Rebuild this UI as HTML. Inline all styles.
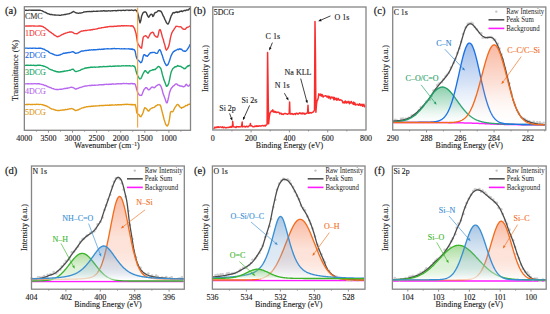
<!DOCTYPE html><html><head><meta charset="utf-8"><style>html,body{margin:0;padding:0;background:#fff;overflow:hidden}svg{display:block}</style></head><body><svg width="550" height="314" viewBox="0 0 550 314" font-family='"Liberation Serif", serif'>
<rect width="550" height="314" fill="#fff"/>
<defs>
<linearGradient id="gB" x1="0" y1="0" x2="0" y2="1"><stop offset="0" stop-color="#5b8fd8" stop-opacity="0.55"/><stop offset="1" stop-color="#5b8fd8" stop-opacity="0.02"/></linearGradient>
<linearGradient id="gO" x1="0" y1="0" x2="0" y2="1"><stop offset="0" stop-color="#f38a63" stop-opacity="0.55"/><stop offset="1" stop-color="#f38a63" stop-opacity="0.02"/></linearGradient>
<linearGradient id="gG" x1="0" y1="0" x2="0" y2="1"><stop offset="0" stop-color="#3fae6d" stop-opacity="0.55"/><stop offset="1" stop-color="#3fae6d" stop-opacity="0.02"/></linearGradient>
<linearGradient id="gG2" x1="0" y1="0" x2="0" y2="1"><stop offset="0" stop-color="#66c24a" stop-opacity="0.55"/><stop offset="1" stop-color="#66c24a" stop-opacity="0.02"/></linearGradient>
<linearGradient id="gB2" x1="0" y1="0" x2="0" y2="1"><stop offset="0" stop-color="#6c9fd3" stop-opacity="0.55"/><stop offset="1" stop-color="#6c9fd3" stop-opacity="0.02"/></linearGradient>
</defs>
<path d="M24 10.27 L24.8 10.32 L25.6 10.17 L26.4 10.25 L27.2 10.39 L28 10.39 L28.8 10.12 L29.6 10.14 L30.4 10.09 L31.2 10.23 L32 10.08 L32.8 10.23 L33.6 10.3 L34.4 10.17 L35.2 10.31 L36 10.28 L36.8 10.08 L37.6 10.27 L38.4 10.16 L39.2 10.22 L40 10.17 L40.8 10.38 L41.6 10.56 L42.4 10.88 L43.2 11.47 L44 11.94 L44.8 12.14 L45.6 12.49 L46.4 12.92 L47.2 13.47 L48 13.79 L48.8 13.93 L49.6 14.25 L50.4 14.45 L51.2 14.48 L52 14.54 L52.8 14.87 L53.6 14.92 L54.4 14.94 L55.2 14.96 L56 15.1 L56.8 15.17 L57.6 15.14 L58.4 15.17 L59.2 15.23 L60 15.35 L60.8 15.19 L61.6 15 L62.4 14.9 L63.2 14.86 L64 14.65 L64.8 14.53 L65.6 14.5 L66.4 14.16 L67.2 14.1 L68 13.83 L68.8 13.71 L69.6 13.47 L70.4 13.17 L71.2 12.85 L72 12.32 L72.8 11.8 L73.6 11.4 L74.4 11.98 L75.2 12.49 L76 12.87 L76.8 13 L77.6 13.16 L78.4 13.39 L79.2 13.06 L80 13.14 L80.8 13.03 L81.6 12.92 L82.4 12.61 L83.2 12.4 L84 11.99 L84.8 11.86 L85.6 11.8 L86.4 11.69 L87.2 11.6 L88 11.54 L88.8 11.63 L89.6 11.44 L90.4 11.66 L91.2 11.52 L92 11.42 L92.8 11.43 L93.6 11.22 L94.4 11.42 L95.2 11.35 L96 11.27 L96.8 11.14 L97.6 11.24 L98.4 11.17 L99.2 11.11 L100 11.17 L100.8 11.04 L101.6 10.92 L102.4 10.97 L103.2 10.82 L104 10.8 L104.8 10.98 L105.6 10.99 L106.4 11.04 L107.2 10.98 L108 10.86 L108.8 10.69 L109.6 10.82 L110.4 10.96 L111.2 10.9 L112 10.78 L112.8 10.75 L113.6 10.65 L114.4 10.61 L115.2 10.55 L116 10.81 L116.8 10.69 L117.6 10.47 L118.4 10.53 L119.2 10.37 L120 10.39 L120.8 10.54 L121.6 10.48 L122.4 10.39 L123.2 10.3 L124 10.41 L124.8 10.51 L125.6 10.31 L126.4 10.17 L127.2 10.16 L128 10.16 L128.8 10.46 L129.6 10.3 L130.4 10.4 L131.2 10.04 L132 10.1 L132.8 10.39 L133.6 10.53 L134.4 10.14 L135.2 9.95 L136 10.5 L136.8 10.73 L137.6 12.82 L138.4 15.42 L139.2 19.89 L140 22.9 L140.8 20.55 L141.6 16.21 L142.4 14.24 L143.2 12.61 L144 12.14 L144.8 11.82 L145.6 12.03 L146.4 12.72 L147.2 14.92 L148 16.41 L148.8 17.26 L149.6 15.83 L150.4 14.77 L151.2 14.13 L152 14.34 L152.8 16.57 L153.6 15.79 L154.4 13.58 L155.2 12.5 L156 12.47 L156.8 12.16 L157.6 11.16 L158.4 10.71 L159.2 10.8 L160 10.97 L160.8 11.22 L161.6 12.18 L162.4 14.07 L163.2 15.89 L164 17.22 L164.8 19.33 L165.6 20.69 L166.4 22.65 L167.2 23.56 L168 24.09 L168.8 22.78 L169.6 20.8 L170.4 18.31 L171.2 15.88 L172 14.67 L172.8 12.95 L173.6 12.53 L174.4 12.97 L175.2 12.26 L176 12.3 L176.8 11.75 L177.6 12.52 L178.4 11.88 L179.2 12.11 L180 11.14 L180.8 11.45 L181.6 10.86 L182.4 11.62 L183.2 11.01 L184 10.46 L184.8 10.34 L185.6 10.7 L186.4 10.05 L187.2 10.04 L188 10.15 L188.8 9.7 L189.6 8.37 L190.3 8.85" fill="none" stroke="#3d3d3d" stroke-width="1.4" stroke-linejoin="round"/>
<path d="M24 26.09 L24.8 26 L25.6 26.09 L26.4 25.93 L27.2 25.97 L28 26.16 L28.8 25.93 L29.6 25.95 L30.4 25.96 L31.2 26.04 L32 25.87 L32.8 25.88 L33.6 26.04 L34.4 25.93 L35.2 26.11 L36 26.16 L36.8 26.08 L37.6 26.12 L38.4 26.01 L39.2 25.89 L40 26.03 L40.8 26.04 L41.6 26.3 L42.4 26.41 L43.2 26.75 L44 27.36 L44.8 27.7 L45.6 28.37 L46.4 29.21 L47.2 29.6 L48 30.15 L48.8 30.98 L49.6 31.57 L50.4 32.21 L51.2 32.6 L52 33.29 L52.8 33.71 L53.6 34.4 L54.4 35.16 L55.2 35.48 L56 36.02 L56.8 36.59 L57.6 36.72 L58.4 36.45 L59.2 36.26 L60 35.82 L60.8 35.29 L61.6 34.97 L62.4 34.33 L63.2 34.23 L64 33.6 L64.8 33.56 L65.6 33.18 L66.4 32.82 L67.2 32.69 L68 32.42 L68.8 32.34 L69.6 31.93 L70.4 31.95 L71.2 32 L72 32.06 L72.8 32.31 L73.6 32.95 L74.4 33.54 L75.2 33.6 L76 33.67 L76.8 33.86 L77.6 33.33 L78.4 32.91 L79.2 32.38 L80 31.93 L80.8 31.46 L81.6 31.06 L82.4 31.05 L83.2 30.81 L84 30.72 L84.8 30.65 L85.6 30.32 L86.4 30.47 L87.2 30.37 L88 30.15 L88.8 30.1 L89.6 29.87 L90.4 30.03 L91.2 29.73 L92 29.76 L92.8 29.48 L93.6 29.32 L94.4 29.35 L95.2 29.14 L96 29.02 L96.8 28.88 L97.6 28.76 L98.4 28.26 L99.2 28.28 L100 28.09 L100.8 27.96 L101.6 27.78 L102.4 27.66 L103.2 27.65 L104 27.39 L104.8 27.31 L105.6 27.26 L106.4 26.94 L107.2 26.96 L108 26.74 L108.8 26.66 L109.6 26.53 L110.4 26.52 L111.2 26.44 L112 26.48 L112.8 26.43 L113.6 26.46 L114.4 26.28 L115.2 26.36 L116 26.12 L116.8 26.19 L117.6 26.06 L118.4 26.03 L119.2 25.86 L120 26.05 L120.8 25.95 L121.6 25.69 L122.4 25.8 L123.2 25.94 L124 25.59 L124.8 25.68 L125.6 25.84 L126.4 25.59 L127.2 25.85 L128 25.8 L128.8 25.88 L129.6 25.83 L130.4 26 L131.2 25.77 L132 25.98 L132.8 25.82 L133.6 27.09 L134.4 28.34 L135.2 30.74 L136 33.36 L136.8 38.26 L137.6 43.13 L138.4 44.68 L139.2 45.69 L140 46.93 L140.8 47.83 L141.6 48.17 L142.4 42.46 L143.2 37.33 L144 36.37 L144.8 36.03 L145.6 35.69 L146.4 36.26 L147.2 37.14 L148 38.13 L148.8 36.73 L149.6 35.09 L150.4 33.55 L151.2 32.89 L152 32.33 L152.8 32.19 L153.6 33.06 L154.4 35.34 L155.2 36.07 L156 36.77 L156.8 37.05 L157.6 37.15 L158.4 34.22 L159.2 30.34 L160 29.42 L160.8 30.98 L161.6 33.84 L162.4 37.17 L163.2 39.15 L164 42.47 L164.8 44.87 L165.6 48.48 L166.4 50.15 L167.2 49.11 L168 48 L168.8 46.06 L169.6 42.71 L170.4 38.07 L171.2 34.88 L172 32.51 L172.8 31.23 L173.6 30.04 L174.4 28.61 L175.2 27.64 L176 26.31 L176.8 26.35 L177.6 26.41 L178.4 26.63 L179.2 26.81 L180 26.91 L180.8 26.77 L181.6 27.45 L182.4 28.75 L183.2 28.85 L184 29.39 L184.8 29.38 L185.6 28.82 L186.4 27.89 L187.2 27.19 L188 27.13 L188.8 26.8 L189.6 26.23 L190.1 25.95" fill="none" stroke="#f23b3b" stroke-width="1.4" stroke-linejoin="round"/>
<path d="M24 48.19 L24.8 48.23 L25.6 48.1 L26.4 48.17 L27.2 48.12 L28 48.31 L28.8 48.42 L29.6 48.13 L30.4 48.08 L31.2 48.34 L32 48.2 L32.8 48.25 L33.6 48.09 L34.4 48.13 L35.2 48.32 L36 48.29 L36.8 48.38 L37.6 48.42 L38.4 48.2 L39.2 48.29 L40 48.23 L40.8 48.28 L41.6 48.37 L42.4 48.81 L43.2 48.97 L44 49.11 L44.8 49.64 L45.6 50.09 L46.4 50.51 L47.2 50.91 L48 51.27 L48.8 52.1 L49.6 52.67 L50.4 53.05 L51.2 53.3 L52 53.65 L52.8 54.14 L53.6 54.27 L54.4 54.83 L55.2 55.01 L56 55.08 L56.8 55.5 L57.6 55.41 L58.4 55.24 L59.2 55.06 L60 54.99 L60.8 54.37 L61.6 54.21 L62.4 53.85 L63.2 53.31 L64 53.24 L64.8 53.21 L65.6 52.97 L66.4 52.99 L67.2 52.7 L68 52.68 L68.8 52.42 L69.6 52.53 L70.4 52.39 L71.2 52.11 L72 51.81 L72.8 51.7 L73.6 52.02 L74.4 52.46 L75.2 53.18 L76 53.27 L76.8 53.15 L77.6 52.89 L78.4 52.77 L79.2 52.24 L80 51.88 L80.8 51.46 L81.6 51.05 L82.4 50.98 L83.2 50.98 L84 50.86 L84.8 50.6 L85.6 50.48 L86.4 50.55 L87.2 50.34 L88 50.27 L88.8 50.23 L89.6 49.94 L90.4 50.15 L91.2 49.81 L92 49.9 L92.8 49.98 L93.6 49.78 L94.4 49.65 L95.2 49.73 L96 49.74 L96.8 49.59 L97.6 49.33 L98.4 49.58 L99.2 49.22 L100 49.41 L100.8 49.45 L101.6 49.13 L102.4 49.21 L103.2 49.23 L104 48.99 L104.8 48.96 L105.6 48.85 L106.4 48.83 L107.2 48.77 L108 48.79 L108.8 48.91 L109.6 48.85 L110.4 48.84 L111.2 48.78 L112 48.8 L112.8 48.55 L113.6 48.68 L114.4 48.48 L115.2 48.65 L116 48.77 L116.8 48.64 L117.6 48.58 L118.4 48.58 L119.2 48.63 L120 48.83 L120.8 48.86 L121.6 48.79 L122.4 48.89 L123.2 48.83 L124 48.67 L124.8 48.74 L125.6 48.86 L126.4 48.88 L127.2 48.89 L128 48.85 L128.8 48.75 L129.6 49.08 L130.4 48.87 L131.2 49.38 L132 48.89 L132.8 49.62 L133.6 49.36 L134.4 49.87 L135.2 51.42 L136 55.68 L136.8 58.37 L137.6 59.76 L138.4 60.5 L139.2 61.01 L140 61.89 L140.8 62.67 L141.6 62.22 L142.4 60.06 L143.2 56.32 L144 54.65 L144.8 54.69 L145.6 55.69 L146.4 55.78 L147.2 56.38 L148 55.59 L148.8 54.32 L149.6 53.74 L150.4 52.61 L151.2 52.82 L152 52.43 L152.8 52.46 L153.6 52.37 L154.4 52.39 L155.2 52.77 L156 53.39 L156.8 53.39 L157.6 53.06 L158.4 51.23 L159.2 50.01 L160 49.74 L160.8 51.22 L161.6 53.74 L162.4 55.86 L163.2 58.5 L164 60.81 L164.8 62.81 L165.6 64.18 L166.4 65.63 L167.2 65.35 L168 64.58 L168.8 62.61 L169.6 60.47 L170.4 57.86 L171.2 55.59 L172 53.93 L172.8 52.67 L173.6 51.51 L174.4 51.34 L175.2 50.46 L176 50.22 L176.8 49.8 L177.6 49.21 L178.4 49.71 L179.2 49.1 L180 48.71 L180.8 49.34 L181.6 49.21 L182.4 50.47 L183.2 51.04 L184 51.02 L184.8 51.28 L185.6 51.23 L186.4 50.56 L187.2 49.62 L188 48.36 L188.8 47.1 L189.6 45.71 L190.1 44.25" fill="none" stroke="#1f6fe0" stroke-width="1.4" stroke-linejoin="round"/>
<path d="M24 65.33 L24.8 65.43 L25.6 65.42 L26.4 65.3 L27.2 65.21 L28 65.42 L28.8 65.3 L29.6 65.37 L30.4 65.21 L31.2 65.22 L32 65.32 L32.8 65.41 L33.6 65.21 L34.4 65.45 L35.2 65.48 L36 65.41 L36.8 65.44 L37.6 65.26 L38.4 65.21 L39.2 65.29 L40 65.22 L40.8 65.34 L41.6 65.58 L42.4 65.6 L43.2 66.06 L44 66.19 L44.8 66.36 L45.6 66.83 L46.4 67.12 L47.2 67.5 L48 68.02 L48.8 68.66 L49.6 69.04 L50.4 69.31 L51.2 69.92 L52 69.97 L52.8 70.34 L53.6 70.63 L54.4 71.14 L55.2 71.07 L56 71.54 L56.8 71.7 L57.6 71.72 L58.4 71.99 L59.2 72.06 L60 72 L60.8 71.66 L61.6 71.8 L62.4 71.51 L63.2 71.54 L64 71.29 L64.8 70.98 L65.6 71.09 L66.4 70.9 L67.2 70.72 L68 70.64 L68.8 70.42 L69.6 70.1 L70.4 70.22 L71.2 69.72 L72 69.37 L72.8 69.09 L73.6 69.67 L74.4 70.61 L75.2 71.28 L76 71.66 L76.8 71.36 L77.6 71.16 L78.4 70.87 L79.2 70.61 L80 70.36 L80.8 69.9 L81.6 69.41 L82.4 69.26 L83.2 68.81 L84 68.59 L84.8 68.26 L85.6 67.98 L86.4 67.99 L87.2 67.74 L88 67.81 L88.8 67.39 L89.6 67.6 L90.4 67.24 L91.2 67.23 L92 67.11 L92.8 67.24 L93.6 67.13 L94.4 67.07 L95.2 67.26 L96 67.08 L96.8 67.17 L97.6 67.11 L98.4 66.88 L99.2 66.95 L100 66.74 L100.8 66.76 L101.6 66.83 L102.4 66.75 L103.2 66.53 L104 66.49 L104.8 66.69 L105.6 66.63 L106.4 66.57 L107.2 66.38 L108 66.54 L108.8 66.43 L109.6 66.24 L110.4 66.21 L111.2 66.34 L112 66.44 L112.8 66.27 L113.6 66.13 L114.4 66.25 L115.2 66.04 L116 66.16 L116.8 66.05 L117.6 65.88 L118.4 66.02 L119.2 65.98 L120 66.1 L120.8 65.99 L121.6 65.82 L122.4 65.91 L123.2 65.74 L124 65.86 L124.8 65.83 L125.6 65.81 L126.4 65.64 L127.2 65.83 L128 65.76 L128.8 65.84 L129.6 65.6 L130.4 65.87 L131.2 66.13 L132 65.91 L132.8 65.65 L133.6 66.27 L134.4 66.09 L135.2 67.59 L136 70.94 L136.8 73.63 L137.6 75.5 L138.4 77.23 L139.2 78.15 L140 78.96 L140.8 78.5 L141.6 77.35 L142.4 75.18 L143.2 73.48 L144 72.04 L144.8 70.82 L145.6 70.8 L146.4 71.73 L147.2 72.48 L148 73.26 L148.8 72.27 L149.6 70.83 L150.4 70.74 L151.2 70.42 L152 70.25 L152.8 69.66 L153.6 69.93 L154.4 69.47 L155.2 69.55 L156 68.62 L156.8 67.94 L157.6 66.97 L158.4 66.44 L159.2 66.77 L160 67.6 L160.8 68.42 L161.6 71.09 L162.4 74.66 L163.2 77.23 L164 80.1 L164.8 82 L165.6 84.02 L166.4 86.36 L167.2 86.01 L168 85.02 L168.8 82.96 L169.6 79.58 L170.4 75.33 L171.2 71.95 L172 70.24 L172.8 68.69 L173.6 68.03 L174.4 67.43 L175.2 66.56 L176 66.83 L176.8 66.47 L177.6 65.52 L178.4 65.91 L179.2 66.38 L180 66.3 L180.8 66.33 L181.6 67.17 L182.4 67.32 L183.2 68.06 L184 68.74 L184.8 68.41 L185.6 68.44 L186.4 67.17 L187.2 66.74 L188 65.73 L188.8 65.97 L189.6 65.19 L190.4 65.67 L190.5 65.15" fill="none" stroke="#17a865" stroke-width="1.4" stroke-linejoin="round"/>
<path d="M24 83.63 L24.8 83.83 L25.6 83.88 L26.4 83.88 L27.2 83.76 L28 83.77 L28.8 83.68 L29.6 83.88 L30.4 83.84 L31.2 83.75 L32 83.75 L32.8 83.9 L33.6 83.77 L34.4 83.6 L35.2 83.61 L36 83.85 L36.8 83.76 L37.6 83.77 L38.4 83.74 L39.2 83.66 L40 84.08 L40.8 84.1 L41.6 84.34 L42.4 84.54 L43.2 84.64 L44 85.19 L44.8 85.47 L45.6 85.46 L46.4 85.82 L47.2 86.29 L48 86.84 L48.8 86.99 L49.6 87.44 L50.4 87.52 L51.2 87.89 L52 88.34 L52.8 88.59 L53.6 88.76 L54.4 89.08 L55.2 89.36 L56 89.43 L56.8 89.43 L57.6 89.44 L58.4 89.59 L59.2 89.32 L60 89.22 L60.8 89.14 L61.6 89.26 L62.4 89.13 L63.2 88.8 L64 88.57 L64.8 88.53 L65.6 88.55 L66.4 88.28 L67.2 88.22 L68 88.03 L68.8 87.83 L69.6 87.69 L70.4 87.42 L71.2 87.19 L72 87.36 L72.8 87.5 L73.6 87.81 L74.4 88.25 L75.2 88.94 L76 88.98 L76.8 88.8 L77.6 88.44 L78.4 88.24 L79.2 87.72 L80 87.56 L80.8 87.41 L81.6 87.12 L82.4 86.81 L83.2 86.54 L84 86.39 L84.8 86.14 L85.6 85.94 L86.4 86.06 L87.2 85.84 L88 85.67 L88.8 85.57 L89.6 85.44 L90.4 85.38 L91.2 85.48 L92 85.29 L92.8 85.24 L93.6 85.37 L94.4 85.05 L95.2 85.31 L96 85.07 L96.8 85.17 L97.6 85.12 L98.4 85.02 L99.2 84.74 L100 84.91 L100.8 84.78 L101.6 84.67 L102.4 84.7 L103.2 84.69 L104 84.54 L104.8 84.5 L105.6 84.37 L106.4 84.3 L107.2 84.41 L108 84.49 L108.8 84.13 L109.6 84.28 L110.4 84.21 L111.2 84.22 L112 84.02 L112.8 83.96 L113.6 83.93 L114.4 84.1 L115.2 84.07 L116 84.02 L116.8 83.8 L117.6 83.8 L118.4 83.73 L119.2 83.84 L120 83.65 L120.8 83.8 L121.6 83.79 L122.4 83.67 L123.2 83.51 L124 83.52 L124.8 83.61 L125.6 83.66 L126.4 83.45 L127.2 83.61 L128 83.7 L128.8 83.64 L129.6 83.7 L130.4 83.75 L131.2 83.46 L132 83.45 L132.8 83.99 L133.6 83.71 L134.4 83.6 L135.2 84.21 L136 86.79 L136.8 89.86 L137.6 92.32 L138.4 93.57 L139.2 94.97 L140 95.3 L140.8 95.43 L141.6 95.39 L142.4 93.58 L143.2 91.54 L144 89.52 L144.8 88.81 L145.6 87.77 L146.4 87.59 L147.2 88.24 L148 89.3 L148.8 89.84 L149.6 89.6 L150.4 88.45 L151.2 87.64 L152 87.01 L152.8 87.17 L153.6 87.51 L154.4 87.75 L155.2 87.09 L156 86.09 L156.8 85.53 L157.6 85.09 L158.4 84.64 L159.2 84.42 L160 85.02 L160.8 86.1 L161.6 87.94 L162.4 90.74 L163.2 94.06 L164 95.89 L164.8 97.98 L165.6 100.35 L166.4 102.85 L167.2 102.75 L168 99.75 L168.8 96.43 L169.6 92.48 L170.4 90.22 L171.2 88.4 L172 87.57 L172.8 86.42 L173.6 85.98 L174.4 85.26 L175.2 84.34 L176 83.98 L176.8 83.83 L177.6 84.82 L178.4 85.36 L179.2 85.5 L180 86.14 L180.8 85.83 L181.6 86.24 L182.4 86.15 L183.2 86.9 L184 86.57 L184.8 86.3 L185.6 84.9 L186.4 84.24 L187.2 85.24 L188 85.95 L188.8 86.1 L189.6 85.24 L190.4 83.94 L190.5 83.95" fill="none" stroke="#b868ee" stroke-width="1.4" stroke-linejoin="round"/>
<path d="M24 104.51 L24.8 104.5 L25.6 104.62 L26.4 104.49 L27.2 104.27 L28 104.63 L28.8 104.32 L29.6 104.4 L30.4 104.62 L31.2 104.51 L32 104.52 L32.8 104.43 L33.6 104.41 L34.4 104.38 L35.2 104.54 L36 104.4 L36.8 104.31 L37.6 104.34 L38.4 104.32 L39.2 104.59 L40 104.37 L40.8 104.36 L41.6 104.58 L42.4 104.61 L43.2 105.01 L44 105.23 L44.8 105.47 L45.6 105.71 L46.4 105.98 L47.2 106.39 L48 106.93 L48.8 107.17 L49.6 107.71 L50.4 108.32 L51.2 108.72 L52 108.98 L52.8 109.13 L53.6 109.37 L54.4 109.74 L55.2 109.87 L56 110.24 L56.8 110.41 L57.6 110.49 L58.4 110.5 L59.2 110.57 L60 110.4 L60.8 110.23 L61.6 110.12 L62.4 109.96 L63.2 110.02 L64 109.95 L64.8 109.77 L65.6 109.48 L66.4 109.58 L67.2 109.47 L68 109.19 L68.8 109.1 L69.6 108.78 L70.4 108.84 L71.2 108.54 L72 108.6 L72.8 108.84 L73.6 109.27 L74.4 109.84 L75.2 110.52 L76 110.47 L76.8 110.41 L77.6 109.99 L78.4 109.75 L79.2 109.46 L80 108.92 L80.8 108.59 L81.6 108.21 L82.4 107.89 L83.2 107.85 L84 107.48 L84.8 107.29 L85.6 107.18 L86.4 106.74 L87.2 106.81 L88 106.62 L88.8 106.47 L89.6 106.52 L90.4 106.45 L91.2 106.3 L92 106.26 L92.8 106.26 L93.6 106.02 L94.4 106.13 L95.2 105.94 L96 106.05 L96.8 105.92 L97.6 105.84 L98.4 105.92 L99.2 105.7 L100 105.55 L100.8 105.61 L101.6 105.51 L102.4 105.68 L103.2 105.36 L104 105.48 L104.8 105.41 L105.6 105.22 L106.4 105.39 L107.2 105.31 L108 105.22 L108.8 105.37 L109.6 105.03 L110.4 105.19 L111.2 105.03 L112 105.07 L112.8 104.99 L113.6 105.08 L114.4 105.12 L115.2 104.79 L116 104.9 L116.8 104.95 L117.6 104.75 L118.4 104.73 L119.2 104.91 L120 104.57 L120.8 104.7 L121.6 104.7 L122.4 104.65 L123.2 104.4 L124 104.69 L124.8 104.33 L125.6 104.31 L126.4 104.48 L127.2 104.3 L128 104.39 L128.8 104.56 L129.6 104.48 L130.4 104.51 L131.2 104.8 L132 104.26 L132.8 104.93 L133.6 104.75 L134.4 104.86 L135.2 104.48 L136 107.58 L136.8 112.79 L137.6 113.97 L138.4 114.4 L139.2 114.86 L140 116.29 L140.8 116.73 L141.6 115.63 L142.4 114.13 L143.2 112.22 L144 109.49 L144.8 107.62 L145.6 108.12 L146.4 108.59 L147.2 109.57 L148 110.93 L148.8 111.08 L149.6 109.95 L150.4 108.93 L151.2 108.49 L152 107.99 L152.8 107.65 L153.6 107.56 L154.4 107.36 L155.2 106.56 L156 105.69 L156.8 105.54 L157.6 104.78 L158.4 104.89 L159.2 104.86 L160 104.82 L160.8 106.36 L161.6 109.57 L162.4 112.87 L163.2 115.72 L164 119.19 L164.8 121.65 L165.6 124.1 L166.4 125.43 L167.2 126.03 L168 125.06 L168.8 122.88 L169.6 118.44 L170.4 112.68 L171.2 111.35 L172 111.73 L172.8 111.73 L173.6 110.34 L174.4 108.51 L175.2 107.17 L176 106.18 L176.8 104.82 L177.6 104.45 L178.4 104.92 L179.2 106.03 L180 107.11 L180.8 107.32 L181.6 108.16 L182.4 107.5 L183.2 107.4 L184 106.82 L184.8 106.66 L185.6 105.45 L186.4 105.63 L187.2 105.47 L188 104.36 L188.8 104.53 L189.6 103.98 L190.3 104.45" fill="none" stroke="#e29a17" stroke-width="1.4" stroke-linejoin="round"/>
<text x="24.9" y="18.7" font-size="8" fill="#3d3d3d" stroke="#3d3d3d" stroke-width="0.12" text-anchor="start" >CMC</text>
<text x="24.9" y="35.8" font-size="8" fill="#f23b3b" stroke="#f23b3b" stroke-width="0.12" text-anchor="start" >1DCG</text>
<text x="24.9" y="57.9" font-size="8" fill="#1f6fe0" stroke="#1f6fe0" stroke-width="0.12" text-anchor="start" >2DCG</text>
<text x="24.9" y="74.9" font-size="8" fill="#17a865" stroke="#17a865" stroke-width="0.12" text-anchor="start" >3DCG</text>
<text x="24.9" y="93.8" font-size="8" fill="#b868ee" stroke="#b868ee" stroke-width="0.12" text-anchor="start" >4DCG</text>
<text x="24.9" y="114.9" font-size="8" fill="#e29a17" stroke="#e29a17" stroke-width="0.12" text-anchor="start" >5DCG</text>
<line x1="137.6" y1="7.4" x2="137.6" y2="127.5" stroke="#f5a54a" stroke-width="1.2"/>
<rect x="24.35" y="6.7" width="166.15" height="123.6" fill="none" stroke="#858585" stroke-width="1.3"/>
<line x1="180.9" y1="130.3" x2="180.9" y2="131.7" stroke="#858585" stroke-width="0.9"/>
<line x1="168.86" y1="130.3" x2="168.86" y2="132.7" stroke="#858585" stroke-width="0.9"/>
<line x1="156.82" y1="130.3" x2="156.82" y2="131.7" stroke="#858585" stroke-width="0.9"/>
<line x1="144.78" y1="130.3" x2="144.78" y2="132.7" stroke="#858585" stroke-width="0.9"/>
<line x1="132.73" y1="130.3" x2="132.73" y2="131.7" stroke="#858585" stroke-width="0.9"/>
<line x1="120.69" y1="130.3" x2="120.69" y2="132.7" stroke="#858585" stroke-width="0.9"/>
<line x1="108.65" y1="130.3" x2="108.65" y2="131.7" stroke="#858585" stroke-width="0.9"/>
<line x1="96.6" y1="130.3" x2="96.6" y2="132.7" stroke="#858585" stroke-width="0.9"/>
<line x1="84.56" y1="130.3" x2="84.56" y2="131.7" stroke="#858585" stroke-width="0.9"/>
<line x1="72.52" y1="130.3" x2="72.52" y2="132.7" stroke="#858585" stroke-width="0.9"/>
<line x1="60.48" y1="130.3" x2="60.48" y2="131.7" stroke="#858585" stroke-width="0.9"/>
<line x1="48.44" y1="130.3" x2="48.44" y2="132.7" stroke="#858585" stroke-width="0.9"/>
<line x1="36.39" y1="130.3" x2="36.39" y2="131.7" stroke="#858585" stroke-width="0.9"/>
<text x="24.35" y="140.5" font-size="8" fill="#222" stroke="#222" stroke-width="0.12" text-anchor="middle" >4000</text>
<text x="48.44" y="140.5" font-size="8" fill="#222" stroke="#222" stroke-width="0.12" text-anchor="middle" >3500</text>
<text x="72.52" y="140.5" font-size="8" fill="#222" stroke="#222" stroke-width="0.12" text-anchor="middle" >3000</text>
<text x="96.6" y="140.5" font-size="8" fill="#222" stroke="#222" stroke-width="0.12" text-anchor="middle" >2500</text>
<text x="120.69" y="140.5" font-size="8" fill="#222" stroke="#222" stroke-width="0.12" text-anchor="middle" >2000</text>
<text x="144.78" y="140.5" font-size="8" fill="#222" stroke="#222" stroke-width="0.12" text-anchor="middle" >1500</text>
<text x="168.86" y="140.5" font-size="8" fill="#222" stroke="#222" stroke-width="0.12" text-anchor="middle" >1000</text>
<text x="107" y="148.3" font-size="8" fill="#222" stroke="#222" stroke-width="0.12" text-anchor="middle" >Wavenumber (cm<tspan dy="-2.6" font-size="5.5">&#8722;1</tspan><tspan dy="2.6">)</tspan></text>
<text x="0" y="0" font-size="8.2" fill="#222" stroke="#222" stroke-width="0.12" text-anchor="middle" transform="translate(17.7 70.5) rotate(-90)">Transmittance (%)</text>
<text x="4.9" y="14.1" font-size="10.6" fill="#1a1a1a" stroke="#1a1a1a" stroke-width="0.2" text-anchor="start" >(a)</text>
<path d="M213.6 128.7 L214.3 128.02 L215 127.11 L215.7 127.78 L216.4 127.61 L217.1 126.86 L217.8 127.39 L218.5 126.71 L219.2 127.41 L219.9 127.1 L220.6 126.84 L221.3 127.18 L222 127.44 L222.7 126.88 L223.4 127.79 L224.1 127.25 L224.8 127.32 L225.5 127.79 L226.2 127.7 L226.9 127.43 L227.6 127.39 L228.3 127.46 L229 127.17 L229.7 127.06 L230.4 127.25 L231.1 126.36 L231.8 127.24 L232.5 126.43 L232.7 121.6 L233.2 126.46 L233.9 126.98 L234.6 127.01 L235.3 127.09 L236 127.5 L236.7 126.55 L237.4 126.67 L238.1 126.65 L238.8 126.95 L239.5 126.65 L240.2 126.88 L240.9 126.56 L241.6 126.09 L242.2 122 L242.3 126.92 L243 126.6 L243.7 126.48 L244.4 126.36 L245.1 127 L245.8 126.74 L246.5 126.15 L247.2 126.43 L247.9 127 L248.6 126.1 L249.3 125.86 L250 125.74 L250.4 123.4 L250.7 125.73 L251.4 125.69 L252.1 126.16 L252.8 126.65 L253.5 126.69 L254.2 126.65 L254.9 126.07 L255.6 126.41 L256.3 125.71 L257 126.47 L257.7 125.89 L258.4 126.26 L259.1 125.8 L259.8 125.96 L260.5 125.87 L261.2 125.99 L261.9 125.63 L262.6 125.42 L263.3 125.78 L264 125.93 L264.7 125.42 L265.4 125.93 L266.1 125.06 L266.8 124.48 L267.1 124.2 L267.6 52.5 L268.1 90 L268.6 123.8 L268.6 123.6 L269.3 116.98 L270 113.05 L270.7 112.16 L271.4 110.92 L272.1 111.37 L272.8 109.88 L273.5 111.93 L274.2 111.19 L274.9 112.31 L275.6 111.51 L276.3 112.69 L277 112.23 L277.7 112.16 L278.4 112.31 L279.1 112.46 L279.8 113.94 L280.5 113.3 L281.2 113.27 L281.9 114.39 L282.6 114.08 L283.3 114.41 L284 113.71 L284.7 113.55 L285.4 113.46 L286.1 113.81 L286.8 113.93 L287.5 114.3 L288.2 113.74 L288.9 113.61 L289.2 113.5 L289.6 101.9 L290 114 L290 113.58 L290.7 113.84 L291.4 114.04 L292.1 113.43 L292.8 114.27 L293.5 114.46 L294.2 113.94 L294.9 113.54 L295.6 114.42 L296.3 113.16 L297 113.17 L297.7 113.9 L298.4 113.89 L299.1 113.23 L299.8 112.83 L300.5 113.62 L301.2 113.24 L301.9 114 L302.6 112.94 L303.3 113.63 L304 113.13 L304.7 114.19 L305.4 114.1 L306.1 113.37 L306.8 113.29 L307.6 112.6 L308 105.2 L308.4 113 L308.4 113.34 L309.1 113.35 L309.8 112.61 L310.5 112.74 L311.2 113.07 L311.9 112.48 L312.6 112.46 L313.3 111.99 L314 110.88 L314.5 110 L315 21.6 L315.5 60 L315.9 112 L315.9 112.21 L316.5 104.43 L317.1 100.45 L317.7 99.85 L318.3 97.39 L318.9 93.73 L319.5 95.11 L320.1 95.19 L320.7 94.05 L321.3 96.14 L321.9 94.52 L322.5 95.11 L323.1 97.08 L323.7 96.26 L324.3 96.1 L324.9 95.93 L325.5 95.83 L326.1 95.85 L326.7 96.76 L327.3 97.05 L327.9 96.05 L328.5 98.01 L329.1 96.36 L329.7 96.65 L330.3 98.89 L330.9 97.58 L331.5 97.03 L332.1 97.88 L332.7 97.37 L333.3 97.34 L333.9 99.86 L334.5 97.46 L335.1 99.43 L335.7 98.74 L336.3 98.27 L336.9 100.26 L337.5 99.43 L338.1 98.3 L338.7 99.43 L339.3 100.28 L339.9 99.96 L340.5 99.8 L341.1 100.11 L341.7 100.28 L342.3 101.01 L342.9 102.71 L343.5 102.71 L344.1 101.84 L344.7 102.97 L345.3 101.04 L345.9 102.44 L346.5 103.04 L347.1 101.56 L347.7 102.46 L348.3 102.41 L348.9 101.34 L349.5 103.85 L350.1 102.27 L350.7 102.93 L351.3 101.51 L351.9 103.02 L352.5 102.93 L353.1 104.27 L353.7 102.14 L354.3 104.58 L354.9 102.84 L355.5 104.88 L356.1 104.88 L356.7 104.65 L357.3 104.15 L357.9 104.58 L358.5 105.29 L359.1 104.53 L359.7 103.71 L360.3 105.55 L360.9 105.59 L361.5 104.44 L362.1 104.3 L362.7 106.29 L363.3 104.87 L363.9 104.3 L364.5 106.81 L365.1 105.37" fill="none" stroke="#fa2d2d" stroke-width="1.5" stroke-linejoin="round"/>
<rect x="212.8" y="7" width="153.2" height="123" fill="none" stroke="#858585" stroke-width="1.3"/>
<line x1="231.95" y1="130" x2="231.95" y2="131.4" stroke="#858585" stroke-width="0.9"/>
<line x1="251.1" y1="130" x2="251.1" y2="132.4" stroke="#858585" stroke-width="0.9"/>
<line x1="270.25" y1="130" x2="270.25" y2="131.4" stroke="#858585" stroke-width="0.9"/>
<line x1="289.4" y1="130" x2="289.4" y2="132.4" stroke="#858585" stroke-width="0.9"/>
<line x1="308.55" y1="130" x2="308.55" y2="131.4" stroke="#858585" stroke-width="0.9"/>
<line x1="327.7" y1="130" x2="327.7" y2="132.4" stroke="#858585" stroke-width="0.9"/>
<line x1="346.85" y1="130" x2="346.85" y2="131.4" stroke="#858585" stroke-width="0.9"/>
<text x="212.8" y="140.5" font-size="8" fill="#222" stroke="#222" stroke-width="0.12" text-anchor="middle" >0</text>
<text x="251.1" y="140.5" font-size="8" fill="#222" stroke="#222" stroke-width="0.12" text-anchor="middle" >200</text>
<text x="289.4" y="140.5" font-size="8" fill="#222" stroke="#222" stroke-width="0.12" text-anchor="middle" >400</text>
<text x="327.7" y="140.5" font-size="8" fill="#222" stroke="#222" stroke-width="0.12" text-anchor="middle" >600</text>
<text x="366" y="140.5" font-size="8" fill="#222" stroke="#222" stroke-width="0.12" text-anchor="middle" >800</text>
<text x="289.5" y="148" font-size="8" fill="#222" stroke="#222" stroke-width="0.12" text-anchor="middle" >Binding Energy (eV)</text>
<text x="0" y="0" font-size="8" fill="#222" stroke="#222" stroke-width="0.12" text-anchor="middle" transform="translate(208 68.5) rotate(-90)">Intensity (a.u.)</text>
<text x="193.4" y="14.1" font-size="10.6" fill="#1a1a1a" stroke="#1a1a1a" stroke-width="0.2" text-anchor="start" >(b)</text>
<text x="213.8" y="14.7" font-size="7.8" fill="#222" stroke="#222" stroke-width="0.12" text-anchor="start" >5DCG</text>
<text x="334.4" y="19.8" font-size="8" fill="#222" stroke="#222" stroke-width="0.12" text-anchor="start" >O 1s</text>
<line x1="330.5" y1="15.9" x2="320.67" y2="20.21" stroke="#111" stroke-width="0.8"/>
<path d="M318.2 21.3 L320.61 18.82 L321.65 21.2 Z" fill="#111"/>
<text x="265.6" y="39.2" font-size="8" fill="#222" stroke="#222" stroke-width="0.12" text-anchor="start" >C 1s</text>
<line x1="272.4" y1="42.6" x2="270.2" y2="48.09" stroke="#111" stroke-width="0.8"/>
<path d="M269.2 50.6 L269.18 47.15 L271.6 48.11 Z" fill="#111"/>
<text x="284.6" y="74.6" font-size="8" fill="#222" stroke="#222" stroke-width="0.12" text-anchor="start" >Na KLL</text>
<line x1="300.7" y1="78.6" x2="306.7" y2="100.99" stroke="#111" stroke-width="0.8"/>
<path d="M307.4 103.6 L305.32 100.85 L307.83 100.17 Z" fill="#111"/>
<text x="274.8" y="87.9" font-size="8" fill="#222" stroke="#222" stroke-width="0.12" text-anchor="start" >N 1s</text>
<line x1="284.4" y1="93.2" x2="287.27" y2="98.25" stroke="#111" stroke-width="0.8"/>
<path d="M288.6 100.6 L285.89 98.46 L288.15 97.18 Z" fill="#111"/>
<text x="241.6" y="103" font-size="8" fill="#222" stroke="#222" stroke-width="0.12" text-anchor="start" >Si 2s</text>
<line x1="249.6" y1="105.4" x2="244.01" y2="117.74" stroke="#111" stroke-width="0.8"/>
<path d="M242.9 120.2 L243.04 116.75 L245.4 117.82 Z" fill="#111"/>
<text x="219.2" y="110.6" font-size="8" fill="#222" stroke="#222" stroke-width="0.12" text-anchor="start" >Si 2p</text>
<line x1="229.6" y1="113.4" x2="231.37" y2="118.26" stroke="#111" stroke-width="0.8"/>
<path d="M232.3 120.8 L229.98 118.24 L232.42 117.35 Z" fill="#111"/>
<path d="M393.3 122.5 L393.8 122.5 L394.3 122.5 L394.8 122.5 L395.3 122.5 L395.8 122.5 L396.3 122.5 L396.8 122.5 L397.3 122.5 L397.8 122.5 L398.3 122.5 L398.8 122.5 L399.3 122.5 L399.8 122.5 L400.3 122.5 L400.8 122.5 L401.3 122.5 L401.8 122.5 L402.3 122.5 L402.8 122.5 L403.3 122.5 L403.8 122.5 L404.3 122.5 L404.8 122.5 L405.3 122.5 L405.8 122.51 L406.3 122.51 L406.8 122.51 L407.3 122.51 L407.8 122.51 L408.3 122.51 L408.8 122.51 L409.3 122.51 L409.8 122.51 L410.3 122.51 L410.8 122.51 L411.3 122.51 L411.8 122.51 L412.3 122.51 L412.8 122.51 L413.3 122.51 L413.8 122.51 L414.3 122.51 L414.8 122.51 L415.3 122.51 L415.8 122.51 L416.3 122.51 L416.8 122.51 L417.3 122.51 L417.8 122.51 L418.3 122.51 L418.8 122.51 L419.3 122.51 L419.8 122.52 L420.3 122.52 L420.8 122.52 L421.3 122.52 L421.8 122.52 L422.3 122.52 L422.8 122.52 L423.3 122.52 L423.8 122.52 L424.3 122.52 L424.8 122.52 L425.3 122.52 L425.8 122.52 L426.3 122.52 L426.8 122.53 L427.3 122.53 L427.8 122.53 L428.3 122.53 L428.8 122.53 L429.3 122.53 L429.8 122.53 L430.3 122.53 L430.8 122.54 L431.3 122.54 L431.8 122.54 L432.3 122.54 L432.8 122.54 L433.3 122.54 L433.8 122.54 L434.3 122.55 L434.8 122.55 L435.3 122.55 L435.8 122.55 L436.3 122.55 L436.8 122.56 L437.3 122.56 L437.8 122.56 L438.3 122.56 L438.8 122.56 L439.3 122.57 L439.8 122.57 L440.3 122.57 L440.8 122.57 L441.3 122.58 L441.8 122.58 L442.3 122.58 L442.8 122.59 L443.3 122.59 L443.8 122.59 L444.3 122.6 L444.8 122.6 L445.3 122.6 L445.8 122.61 L446.3 122.61 L446.8 122.62 L447.3 122.62 L447.8 122.62 L448.3 122.63 L448.8 122.63 L449.3 122.64 L449.8 122.64 L450.3 122.65 L450.8 122.65 L451.3 122.66 L451.8 122.67 L452.3 122.67 L452.8 122.68 L453.3 122.68 L453.8 122.69 L454.3 122.7 L454.8 122.71 L455.3 122.71 L455.8 122.72 L456.3 122.73 L456.8 122.74 L457.3 122.74 L457.8 122.75 L458.3 122.76 L458.8 122.77 L459.3 122.78 L459.8 122.79 L460.3 122.8 L460.8 122.81 L461.3 122.82 L461.8 122.83 L462.3 122.84 L462.8 122.85 L463.3 122.86 L463.8 122.88 L464.3 122.89 L464.8 122.9 L465.3 122.91 L465.8 122.93 L466.3 122.94 L466.8 122.95 L467.3 122.97 L467.8 122.98 L468.3 123 L468.8 123.01 L469.3 123.03 L469.8 123.05 L470.3 123.06 L470.8 123.08 L471.3 123.09 L471.8 123.11 L472.3 123.13 L472.8 123.15 L473.3 123.16 L473.8 123.18 L474.3 123.2 L474.8 123.22 L475.3 123.24 L475.8 123.26 L476.3 123.28 L476.8 123.3 L477.3 123.32 L477.8 123.34 L478.3 123.36 L478.8 123.38 L479.3 123.4 L479.8 123.42 L480.3 123.44 L480.8 123.47 L481.3 123.49 L481.8 123.51 L482.3 123.53 L482.8 123.55 L483.3 123.57 L483.8 123.6 L484.3 123.62 L484.8 123.64 L485.3 123.66 L485.8 123.69 L486.3 123.71 L486.8 123.73 L487.3 123.75 L487.8 123.77 L488.3 123.8 L488.8 123.82 L489.3 123.84 L489.8 123.86 L490.3 123.88 L490.8 123.9 L491.3 123.92 L491.8 123.94 L492.3 123.96 L492.8 123.99 L493.3 124.01 L493.8 124.03 L494.3 124.04 L494.8 124.06 L495.3 124.08 L495.8 124.1 L496.3 124.12 L496.8 124.14 L497.3 124.16 L497.8 124.17 L498.3 124.19 L498.8 124.21 L499.3 124.23 L499.8 124.24 L500.3 124.26 L500.8 124.27 L501.3 124.29 L501.8 124.3 L502.3 124.32 L502.8 124.33 L503.3 124.35 L503.8 124.36 L504.3 124.38 L504.8 124.39 L505.3 124.4 L505.8 124.41 L506.3 124.43 L506.8 124.44 L507.3 124.45 L507.8 124.46 L508.3 124.47 L508.8 124.48 L509.3 124.49 L509.8 124.5 L510.3 124.51 L510.8 124.52 L511.3 124.53 L511.8 124.54 L512.3 124.55 L512.8 124.56 L513.3 124.57 L513.8 124.57 L514.3 124.58 L514.8 124.59 L515.3 124.6 L515.8 124.6 L516.3 124.61 L516.8 124.62 L517.3 124.62 L517.8 124.63 L518.3 124.64 L518.8 124.64 L519.3 124.65 L519.8 124.65 L520.3 124.66 L520.8 124.66 L521.3 124.67 L521.8 124.67 L522.3 124.68 L522.8 124.68 L523.3 124.69 L523.8 124.69 L524.3 124.69 L524.8 124.7 L525.3 124.7 L525.8 124.7 L526.3 124.71 L526.8 124.71 L527.3 124.71 L527.8 124.72 L528.3 124.72 L528.8 124.72 L529.3 124.73 L529.8 124.73 L530.3 124.73 L530.8 124.73 L531.3 124.74 L531.8 124.74 L532.3 124.74 L532.8 124.74 L533.3 124.75 L533.8 124.75 L534.3 124.75 L534.8 124.75 L535.3 124.75 L535.8 124.75 L536.3 124.76 L536.8 124.76 L537.3 124.76 L537.8 124.76 L538.3 124.76 L538.8 124.76 L539.3 124.77 L539.8 124.77 L540.3 124.77 L540.8 124.77 L541.3 124.77 L541.8 124.77 L542.3 124.77 L542.8 124.77 L543.3 124.77 L543.8 124.78 L544.3 124.78 L544.8 124.78" fill="none" stroke="#ff1aff" stroke-width="1.5"/>
<circle cx="393.17" cy="120.9" r="1.3" fill="#cdcdcd"/>
<circle cx="395.27" cy="119.78" r="1.3" fill="#cdcdcd"/>
<circle cx="396.98" cy="120.47" r="1.3" fill="#cdcdcd"/>
<circle cx="398.85" cy="121.44" r="1.3" fill="#cdcdcd"/>
<circle cx="401.02" cy="118.9" r="1.3" fill="#cdcdcd"/>
<circle cx="402.92" cy="118.63" r="1.3" fill="#cdcdcd"/>
<circle cx="405.8" cy="118.82" r="1.3" fill="#cdcdcd"/>
<circle cx="407.61" cy="119.31" r="1.3" fill="#cdcdcd"/>
<circle cx="408.81" cy="117.8" r="1.3" fill="#cdcdcd"/>
<circle cx="411.69" cy="115.53" r="1.3" fill="#cdcdcd"/>
<circle cx="413.82" cy="115.04" r="1.3" fill="#cdcdcd"/>
<circle cx="415.32" cy="114.87" r="1.3" fill="#cdcdcd"/>
<circle cx="416.92" cy="112.97" r="1.3" fill="#cdcdcd"/>
<circle cx="419" cy="109.98" r="1.3" fill="#cdcdcd"/>
<circle cx="420.79" cy="107.29" r="1.3" fill="#cdcdcd"/>
<circle cx="423" cy="106.23" r="1.3" fill="#cdcdcd"/>
<circle cx="425.89" cy="102.03" r="1.3" fill="#cdcdcd"/>
<circle cx="426.77" cy="101.38" r="1.3" fill="#cdcdcd"/>
<circle cx="429.87" cy="99.71" r="1.3" fill="#cdcdcd"/>
<circle cx="431.74" cy="95.84" r="1.3" fill="#cdcdcd"/>
<circle cx="433.4" cy="90.52" r="1.3" fill="#cdcdcd"/>
<circle cx="435.82" cy="89.4" r="1.3" fill="#cdcdcd"/>
<circle cx="437.26" cy="85.17" r="1.3" fill="#cdcdcd"/>
<circle cx="438.91" cy="83.67" r="1.3" fill="#cdcdcd"/>
<circle cx="441.86" cy="82.25" r="1.3" fill="#cdcdcd"/>
<circle cx="443.54" cy="79.27" r="1.3" fill="#cdcdcd"/>
<circle cx="445.59" cy="76.34" r="1.3" fill="#cdcdcd"/>
<circle cx="447.04" cy="74.69" r="1.3" fill="#cdcdcd"/>
<circle cx="448.91" cy="72.63" r="1.3" fill="#cdcdcd"/>
<circle cx="451" cy="67.48" r="1.3" fill="#cdcdcd"/>
<circle cx="453.82" cy="62.73" r="1.3" fill="#cdcdcd"/>
<circle cx="455.39" cy="59.08" r="1.3" fill="#cdcdcd"/>
<circle cx="457.22" cy="52.94" r="1.3" fill="#cdcdcd"/>
<circle cx="459.33" cy="48.57" r="1.3" fill="#cdcdcd"/>
<circle cx="461.19" cy="41.8" r="1.3" fill="#cdcdcd"/>
<circle cx="463" cy="34.05" r="1.3" fill="#cdcdcd"/>
<circle cx="465.83" cy="27.2" r="1.3" fill="#cdcdcd"/>
<circle cx="467.8" cy="23.84" r="1.3" fill="#cdcdcd"/>
<circle cx="469.67" cy="23.3" r="1.3" fill="#cdcdcd"/>
<circle cx="471.54" cy="22.86" r="1.3" fill="#cdcdcd"/>
<circle cx="472.91" cy="23.79" r="1.3" fill="#cdcdcd"/>
<circle cx="474.71" cy="27" r="1.3" fill="#cdcdcd"/>
<circle cx="476.75" cy="29.18" r="1.3" fill="#cdcdcd"/>
<circle cx="479.75" cy="32.98" r="1.3" fill="#cdcdcd"/>
<circle cx="481.2" cy="33.18" r="1.3" fill="#cdcdcd"/>
<circle cx="482.76" cy="37.69" r="1.3" fill="#cdcdcd"/>
<circle cx="485.23" cy="37.5" r="1.3" fill="#cdcdcd"/>
<circle cx="487.59" cy="37.64" r="1.3" fill="#cdcdcd"/>
<circle cx="489.6" cy="37.18" r="1.3" fill="#cdcdcd"/>
<circle cx="491.29" cy="37.09" r="1.3" fill="#cdcdcd"/>
<circle cx="493.77" cy="39.72" r="1.3" fill="#cdcdcd"/>
<circle cx="495.16" cy="39.82" r="1.3" fill="#cdcdcd"/>
<circle cx="497.81" cy="43.77" r="1.3" fill="#cdcdcd"/>
<circle cx="499.56" cy="48.49" r="1.3" fill="#cdcdcd"/>
<circle cx="501.41" cy="54.16" r="1.3" fill="#cdcdcd"/>
<circle cx="502.75" cy="59.19" r="1.3" fill="#cdcdcd"/>
<circle cx="505.06" cy="68.1" r="1.3" fill="#cdcdcd"/>
<circle cx="507.23" cy="76.12" r="1.3" fill="#cdcdcd"/>
<circle cx="509.3" cy="83.33" r="1.3" fill="#cdcdcd"/>
<circle cx="511.48" cy="93.58" r="1.3" fill="#cdcdcd"/>
<circle cx="513.23" cy="100.12" r="1.3" fill="#cdcdcd"/>
<circle cx="514.85" cy="104.65" r="1.3" fill="#cdcdcd"/>
<circle cx="517" cy="110.27" r="1.3" fill="#cdcdcd"/>
<circle cx="518.83" cy="113.65" r="1.3" fill="#cdcdcd"/>
<circle cx="521.27" cy="116.95" r="1.3" fill="#cdcdcd"/>
<circle cx="523.58" cy="118.6" r="1.3" fill="#cdcdcd"/>
<circle cx="524.91" cy="119.21" r="1.3" fill="#cdcdcd"/>
<circle cx="527.22" cy="120.91" r="1.3" fill="#cdcdcd"/>
<circle cx="529.21" cy="121.24" r="1.3" fill="#cdcdcd"/>
<circle cx="531.79" cy="122.72" r="1.3" fill="#cdcdcd"/>
<circle cx="533.81" cy="121.79" r="1.3" fill="#cdcdcd"/>
<circle cx="535.5" cy="123.18" r="1.3" fill="#cdcdcd"/>
<circle cx="537.08" cy="122.26" r="1.3" fill="#cdcdcd"/>
<circle cx="539.77" cy="122.38" r="1.3" fill="#cdcdcd"/>
<circle cx="541.69" cy="123.69" r="1.3" fill="#cdcdcd"/>
<circle cx="543.72" cy="122.84" r="1.3" fill="#cdcdcd"/>
<path d="M393.3 121 L393.8 120.99 L394.3 120.98 L394.8 120.95 L395.3 120.92 L395.8 120.89 L396.3 120.85 L396.8 120.8 L397.3 120.75 L397.8 120.7 L398.3 120.65 L398.8 120.59 L399.3 120.53 L399.8 120.48 L400.3 120.41 L400.8 120.33 L401.3 120.25 L401.8 120.16 L402.3 120.06 L402.8 119.96 L403.3 119.84 L403.8 119.73 L404.3 119.6 L404.8 119.47 L405.3 119.33 L405.8 119.18 L406.3 119.01 L406.8 118.83 L407.3 118.63 L407.8 118.43 L408.3 118.21 L408.8 117.98 L409.3 117.75 L409.8 117.5 L410.3 117.24 L410.8 116.95 L411.3 116.64 L411.8 116.31 L412.3 115.96 L412.8 115.6 L413.3 115.23 L413.8 114.85 L414.3 114.47 L414.8 114.08 L415.3 113.68 L415.8 113.28 L416.3 112.86 L416.8 112.42 L417.3 111.98 L417.8 111.52 L418.3 111.06 L418.8 110.58 L419.3 110.1 L419.8 109.6 L420.3 109.09 L420.8 108.56 L421.3 108.01 L421.8 107.45 L422.3 106.87 L422.8 106.29 L423.3 105.7 L423.8 105.11 L424.3 104.52 L424.8 103.94 L425.3 103.38 L425.8 102.83 L426.3 102.29 L426.8 101.75 L427.3 101.2 L427.8 100.62 L428.3 100 L428.8 99.33 L429.3 98.62 L429.8 97.86 L430.3 97.08 L430.8 96.27 L431.3 95.46 L431.8 94.64 L432.3 93.83 L432.8 93.04 L433.3 92.27 L433.8 91.54 L434.3 90.84 L434.8 90.16 L435.3 89.49 L435.8 88.83 L436.3 88.18 L436.8 87.54 L437.3 86.91 L437.8 86.28 L438.3 85.66 L438.8 85.05 L439.3 84.44 L439.8 83.84 L440.3 83.26 L440.8 82.69 L441.3 82.13 L441.8 81.58 L442.3 81.03 L442.8 80.48 L443.3 79.92 L443.8 79.35 L444.3 78.76 L444.8 78.15 L445.3 77.52 L445.8 76.88 L446.3 76.23 L446.8 75.57 L447.3 74.88 L447.8 74.17 L448.3 73.42 L448.8 72.63 L449.3 71.79 L449.8 70.88 L450.3 69.9 L450.8 68.88 L451.3 67.83 L451.8 66.76 L452.3 65.68 L452.8 64.58 L453.3 63.43 L453.8 62.27 L454.3 61.1 L454.8 59.94 L455.3 58.82 L455.8 57.7 L456.3 56.55 L456.8 55.32 L457.3 53.97 L457.8 52.46 L458.3 50.91 L458.8 49.41 L459.3 47.98 L459.8 46.52 L460.3 44.96 L460.8 43.29 L461.3 41.54 L461.8 39.77 L462.3 38.03 L462.8 36.37 L463.3 34.68 L463.8 32.98 L464.3 31.36 L464.8 29.93 L465.3 28.8 L465.8 27.81 L466.3 26.91 L466.8 26.13 L467.3 25.48 L467.8 25 L468.3 24.62 L468.8 24.26 L469.3 23.97 L469.8 23.77 L470.3 23.7 L470.8 23.77 L471.3 23.96 L471.8 24.25 L472.3 24.58 L472.8 24.93 L473.3 25.32 L473.8 25.84 L474.3 26.43 L474.8 27.06 L475.3 27.68 L475.8 28.28 L476.3 28.88 L476.8 29.5 L477.3 30.13 L477.8 30.75 L478.3 31.38 L478.8 32.03 L479.3 32.68 L479.8 33.31 L480.3 33.89 L480.8 34.41 L481.3 34.92 L481.8 35.4 L482.3 35.84 L482.8 36.21 L483.3 36.51 L483.8 36.8 L484.3 37.08 L484.8 37.32 L485.3 37.52 L485.8 37.65 L486.3 37.7 L486.8 37.67 L487.3 37.6 L487.8 37.51 L488.3 37.42 L488.8 37.34 L489.3 37.3 L489.8 37.31 L490.3 37.36 L490.8 37.43 L491.3 37.53 L491.8 37.65 L492.3 37.81 L492.8 38.13 L493.3 38.57 L493.8 39.1 L494.3 39.67 L494.8 40.27 L495.3 41 L495.8 41.83 L496.3 42.74 L496.8 43.71 L497.3 44.71 L497.8 45.82 L498.3 47.03 L498.8 48.29 L499.3 49.58 L499.8 50.95 L500.3 52.36 L500.8 53.73 L501.3 55.01 L501.8 56.24 L502.3 57.6 L502.8 59.18 L503.3 60.92 L503.8 62.77 L504.3 64.68 L504.8 66.58 L505.3 68.51 L505.8 70.5 L506.3 72.53 L506.8 74.56 L507.3 76.6 L507.8 78.62 L508.3 80.66 L508.8 82.7 L509.3 84.74 L509.8 86.78 L510.3 88.82 L510.8 90.93 L511.3 93.07 L511.8 95.16 L512.3 97.13 L512.8 98.9 L513.3 100.52 L513.8 102.09 L514.3 103.58 L514.8 105.01 L515.3 106.35 L515.8 107.6 L516.3 108.75 L516.8 109.8 L517.3 110.78 L517.8 111.73 L518.3 112.65 L518.8 113.54 L519.3 114.37 L519.8 115.16 L520.3 115.89 L520.8 116.55 L521.3 117.14 L521.8 117.65 L522.3 118.08 L522.8 118.46 L523.3 118.83 L523.8 119.17 L524.3 119.49 L524.8 119.8 L525.3 120.08 L525.8 120.35 L526.3 120.61 L526.8 120.85 L527.3 121.08 L527.8 121.29 L528.3 121.49 L528.8 121.68 L529.3 121.86 L529.8 122.04 L530.3 122.2 L530.8 122.36 L531.3 122.51 L531.8 122.66 L532.3 122.81 L532.8 122.94 L533.3 123.08 L533.8 123.2 L534.3 123.32 L534.8 123.44 L535.3 123.55 L535.8 123.65 L536.3 123.74 L536.8 123.83 L537.3 123.9 L537.8 123.97 L538.3 124.04 L538.8 124.1 L539.3 124.16 L539.8 124.22 L540.3 124.27 L540.8 124.33 L541.3 124.38 L541.8 124.42 L542.3 124.47 L542.8 124.5 L543.3 124.54 L543.8 124.56 L544.3 124.58 L544.8 124.6" fill="none" stroke="#4d4d4d" stroke-width="1.3"/>
<linearGradient id="gc0" gradientUnits="userSpaceOnUse" x1="0" y1="87.03" x2="0" y2="124.78"><stop offset="0" stop-color="#3aae72" stop-opacity="0.58"/><stop offset="0.5" stop-color="#3aae72" stop-opacity="0.24"/><stop offset="1" stop-color="#ffffff" stop-opacity="0.03"/></linearGradient>
<path d="M393.3 121.85 L393.8 121.82 L394.3 121.79 L394.8 121.76 L395.3 121.73 L395.8 121.69 L396.3 121.65 L396.8 121.61 L397.3 121.56 L397.8 121.51 L398.3 121.46 L398.8 121.4 L399.3 121.34 L399.8 121.27 L400.3 121.2 L400.8 121.13 L401.3 121.04 L401.8 120.96 L402.3 120.86 L402.8 120.76 L403.3 120.65 L403.8 120.54 L404.3 120.41 L404.8 120.28 L405.3 120.14 L405.8 119.99 L406.3 119.84 L406.8 119.67 L407.3 119.49 L407.8 119.3 L408.3 119.1 L408.8 118.89 L409.3 118.66 L409.8 118.42 L410.3 118.17 L410.8 117.91 L411.3 117.63 L411.8 117.34 L412.3 117.03 L412.8 116.71 L413.3 116.38 L413.8 116.02 L414.3 115.66 L414.8 115.27 L415.3 114.87 L415.8 114.46 L416.3 114.03 L416.8 113.58 L417.3 113.11 L417.8 112.63 L418.3 112.13 L418.8 111.62 L419.3 111.09 L419.8 110.55 L420.3 109.99 L420.8 109.41 L421.3 108.82 L421.8 108.22 L422.3 107.61 L422.8 106.98 L423.3 106.34 L423.8 105.69 L424.3 105.03 L424.8 104.37 L425.3 103.69 L425.8 103.01 L426.3 102.32 L426.8 101.63 L427.3 100.94 L427.8 100.24 L428.3 99.55 L428.8 98.86 L429.3 98.17 L429.8 97.49 L430.3 96.81 L430.8 96.14 L431.3 95.48 L431.8 94.83 L432.3 94.2 L432.8 93.58 L433.3 92.98 L433.8 92.4 L434.3 91.84 L434.8 91.3 L435.3 90.79 L435.8 90.3 L436.3 89.84 L436.8 89.42 L437.3 89.02 L437.8 88.65 L438.3 88.32 L438.8 88.03 L439.3 87.77 L439.8 87.54 L440.3 87.36 L440.8 87.22 L441.3 87.11 L441.8 87.05 L442.3 87.03 L442.8 87.04 L443.3 87.1 L443.8 87.2 L444.3 87.34 L444.8 87.52 L445.3 87.74 L445.8 87.99 L446.3 88.28 L446.8 88.61 L447.3 88.97 L447.8 89.37 L448.3 89.8 L448.8 90.25 L449.3 90.74 L449.8 91.25 L450.3 91.79 L450.8 92.35 L451.3 92.93 L451.8 93.54 L452.3 94.16 L452.8 94.79 L453.3 95.45 L453.8 96.11 L454.3 96.78 L454.8 97.47 L455.3 98.16 L455.8 98.85 L456.3 99.55 L456.8 100.26 L457.3 100.96 L457.8 101.66 L458.3 102.37 L458.8 103.06 L459.3 103.76 L459.8 104.44 L460.3 105.12 L460.8 105.8 L461.3 106.46 L461.8 107.11 L462.3 107.76 L462.8 108.39 L463.3 109 L463.8 109.61 L464.3 110.2 L464.8 110.78 L465.3 111.34 L465.8 111.89 L466.3 112.42 L466.8 112.93 L467.3 113.44 L467.8 113.92 L468.3 114.39 L468.8 114.84 L469.3 115.28 L469.8 115.7 L470.3 116.1 L470.8 116.49 L471.3 116.86 L471.8 117.22 L472.3 117.56 L472.8 117.89 L473.3 118.21 L473.8 118.51 L474.3 118.79 L474.8 119.07 L475.3 119.33 L475.8 119.58 L476.3 119.81 L476.8 120.04 L477.3 120.25 L477.8 120.45 L478.3 120.64 L478.8 120.83 L479.3 121 L479.8 121.16 L480.3 121.32 L480.8 121.47 L481.3 121.6 L481.8 121.74 L482.3 121.86 L482.8 121.98 L483.3 122.09 L483.8 122.2 L484.3 122.3 L484.8 122.39 L485.3 122.48 L485.8 122.57 L486.3 122.65 L486.8 122.72 L487.3 122.8 L487.8 122.87 L488.3 122.93 L488.8 122.99 L489.3 123.05 L489.8 123.11 L490.3 123.16 L490.8 123.22 L491.3 123.26 L491.8 123.31 L492.3 123.36 L492.8 123.4 L493.3 123.44 L493.8 123.48 L494.3 123.52 L494.8 123.55 L495.3 123.59 L495.8 123.62 L496.3 123.65 L496.8 123.69 L497.3 123.72 L497.8 123.75 L498.3 123.77 L498.8 123.8 L499.3 123.83 L499.8 123.85 L500.3 123.88 L500.8 123.9 L501.3 123.92 L501.8 123.95 L502.3 123.97 L502.8 123.99 L503.3 124.01 L503.8 124.03 L504.3 124.05 L504.8 124.07 L505.3 124.09 L505.8 124.1 L506.3 124.12 L506.3 124.43 L505.8 124.41 L505.3 124.4 L504.8 124.39 L504.3 124.38 L503.8 124.36 L503.3 124.35 L502.8 124.33 L502.3 124.32 L501.8 124.3 L501.3 124.29 L500.8 124.27 L500.3 124.26 L499.8 124.24 L499.3 124.23 L498.8 124.21 L498.3 124.19 L497.8 124.17 L497.3 124.16 L496.8 124.14 L496.3 124.12 L495.8 124.1 L495.3 124.08 L494.8 124.06 L494.3 124.04 L493.8 124.03 L493.3 124.01 L492.8 123.99 L492.3 123.96 L491.8 123.94 L491.3 123.92 L490.8 123.9 L490.3 123.88 L489.8 123.86 L489.3 123.84 L488.8 123.82 L488.3 123.8 L487.8 123.77 L487.3 123.75 L486.8 123.73 L486.3 123.71 L485.8 123.69 L485.3 123.66 L484.8 123.64 L484.3 123.62 L483.8 123.6 L483.3 123.57 L482.8 123.55 L482.3 123.53 L481.8 123.51 L481.3 123.49 L480.8 123.47 L480.3 123.44 L479.8 123.42 L479.3 123.4 L478.8 123.38 L478.3 123.36 L477.8 123.34 L477.3 123.32 L476.8 123.3 L476.3 123.28 L475.8 123.26 L475.3 123.24 L474.8 123.22 L474.3 123.2 L473.8 123.18 L473.3 123.16 L472.8 123.15 L472.3 123.13 L471.8 123.11 L471.3 123.09 L470.8 123.08 L470.3 123.06 L469.8 123.05 L469.3 123.03 L468.8 123.01 L468.3 123 L467.8 122.98 L467.3 122.97 L466.8 122.95 L466.3 122.94 L465.8 122.93 L465.3 122.91 L464.8 122.9 L464.3 122.89 L463.8 122.88 L463.3 122.86 L462.8 122.85 L462.3 122.84 L461.8 122.83 L461.3 122.82 L460.8 122.81 L460.3 122.8 L459.8 122.79 L459.3 122.78 L458.8 122.77 L458.3 122.76 L457.8 122.75 L457.3 122.74 L456.8 122.74 L456.3 122.73 L455.8 122.72 L455.3 122.71 L454.8 122.71 L454.3 122.7 L453.8 122.69 L453.3 122.68 L452.8 122.68 L452.3 122.67 L451.8 122.67 L451.3 122.66 L450.8 122.65 L450.3 122.65 L449.8 122.64 L449.3 122.64 L448.8 122.63 L448.3 122.63 L447.8 122.62 L447.3 122.62 L446.8 122.62 L446.3 122.61 L445.8 122.61 L445.3 122.6 L444.8 122.6 L444.3 122.6 L443.8 122.59 L443.3 122.59 L442.8 122.59 L442.3 122.58 L441.8 122.58 L441.3 122.58 L440.8 122.57 L440.3 122.57 L439.8 122.57 L439.3 122.57 L438.8 122.56 L438.3 122.56 L437.8 122.56 L437.3 122.56 L436.8 122.56 L436.3 122.55 L435.8 122.55 L435.3 122.55 L434.8 122.55 L434.3 122.55 L433.8 122.54 L433.3 122.54 L432.8 122.54 L432.3 122.54 L431.8 122.54 L431.3 122.54 L430.8 122.54 L430.3 122.53 L429.8 122.53 L429.3 122.53 L428.8 122.53 L428.3 122.53 L427.8 122.53 L427.3 122.53 L426.8 122.53 L426.3 122.52 L425.8 122.52 L425.3 122.52 L424.8 122.52 L424.3 122.52 L423.8 122.52 L423.3 122.52 L422.8 122.52 L422.3 122.52 L421.8 122.52 L421.3 122.52 L420.8 122.52 L420.3 122.52 L419.8 122.52 L419.3 122.51 L418.8 122.51 L418.3 122.51 L417.8 122.51 L417.3 122.51 L416.8 122.51 L416.3 122.51 L415.8 122.51 L415.3 122.51 L414.8 122.51 L414.3 122.51 L413.8 122.51 L413.3 122.51 L412.8 122.51 L412.3 122.51 L411.8 122.51 L411.3 122.51 L410.8 122.51 L410.3 122.51 L409.8 122.51 L409.3 122.51 L408.8 122.51 L408.3 122.51 L407.8 122.51 L407.3 122.51 L406.8 122.51 L406.3 122.51 L405.8 122.51 L405.3 122.5 L404.8 122.5 L404.3 122.5 L403.8 122.5 L403.3 122.5 L402.8 122.5 L402.3 122.5 L401.8 122.5 L401.3 122.5 L400.8 122.5 L400.3 122.5 L399.8 122.5 L399.3 122.5 L398.8 122.5 L398.3 122.5 L397.8 122.5 L397.3 122.5 L396.8 122.5 L396.3 122.5 L395.8 122.5 L395.3 122.5 L394.8 122.5 L394.3 122.5 L393.8 122.5 L393.3 122.5 Z" fill="url(#gc0)"/>
<path d="M393.3 121.85 L393.8 121.82 L394.3 121.79 L394.8 121.76 L395.3 121.73 L395.8 121.69 L396.3 121.65 L396.8 121.61 L397.3 121.56 L397.8 121.51 L398.3 121.46 L398.8 121.4 L399.3 121.34 L399.8 121.27 L400.3 121.2 L400.8 121.13 L401.3 121.04 L401.8 120.96 L402.3 120.86 L402.8 120.76 L403.3 120.65 L403.8 120.54 L404.3 120.41 L404.8 120.28 L405.3 120.14 L405.8 119.99 L406.3 119.84 L406.8 119.67 L407.3 119.49 L407.8 119.3 L408.3 119.1 L408.8 118.89 L409.3 118.66 L409.8 118.42 L410.3 118.17 L410.8 117.91 L411.3 117.63 L411.8 117.34 L412.3 117.03 L412.8 116.71 L413.3 116.38 L413.8 116.02 L414.3 115.66 L414.8 115.27 L415.3 114.87 L415.8 114.46 L416.3 114.03 L416.8 113.58 L417.3 113.11 L417.8 112.63 L418.3 112.13 L418.8 111.62 L419.3 111.09 L419.8 110.55 L420.3 109.99 L420.8 109.41 L421.3 108.82 L421.8 108.22 L422.3 107.61 L422.8 106.98 L423.3 106.34 L423.8 105.69 L424.3 105.03 L424.8 104.37 L425.3 103.69 L425.8 103.01 L426.3 102.32 L426.8 101.63 L427.3 100.94 L427.8 100.24 L428.3 99.55 L428.8 98.86 L429.3 98.17 L429.8 97.49 L430.3 96.81 L430.8 96.14 L431.3 95.48 L431.8 94.83 L432.3 94.2 L432.8 93.58 L433.3 92.98 L433.8 92.4 L434.3 91.84 L434.8 91.3 L435.3 90.79 L435.8 90.3 L436.3 89.84 L436.8 89.42 L437.3 89.02 L437.8 88.65 L438.3 88.32 L438.8 88.03 L439.3 87.77 L439.8 87.54 L440.3 87.36 L440.8 87.22 L441.3 87.11 L441.8 87.05 L442.3 87.03 L442.8 87.04 L443.3 87.1 L443.8 87.2 L444.3 87.34 L444.8 87.52 L445.3 87.74 L445.8 87.99 L446.3 88.28 L446.8 88.61 L447.3 88.97 L447.8 89.37 L448.3 89.8 L448.8 90.25 L449.3 90.74 L449.8 91.25 L450.3 91.79 L450.8 92.35 L451.3 92.93 L451.8 93.54 L452.3 94.16 L452.8 94.79 L453.3 95.45 L453.8 96.11 L454.3 96.78 L454.8 97.47 L455.3 98.16 L455.8 98.85 L456.3 99.55 L456.8 100.26 L457.3 100.96 L457.8 101.66 L458.3 102.37 L458.8 103.06 L459.3 103.76 L459.8 104.44 L460.3 105.12 L460.8 105.8 L461.3 106.46 L461.8 107.11 L462.3 107.76 L462.8 108.39 L463.3 109 L463.8 109.61 L464.3 110.2 L464.8 110.78 L465.3 111.34 L465.8 111.89 L466.3 112.42 L466.8 112.93 L467.3 113.44 L467.8 113.92 L468.3 114.39 L468.8 114.84 L469.3 115.28 L469.8 115.7 L470.3 116.1 L470.8 116.49 L471.3 116.86 L471.8 117.22 L472.3 117.56 L472.8 117.89 L473.3 118.21 L473.8 118.51 L474.3 118.79 L474.8 119.07 L475.3 119.33 L475.8 119.58 L476.3 119.81 L476.8 120.04 L477.3 120.25 L477.8 120.45 L478.3 120.64 L478.8 120.83 L479.3 121 L479.8 121.16 L480.3 121.32 L480.8 121.47 L481.3 121.6 L481.8 121.74 L482.3 121.86 L482.8 121.98 L483.3 122.09 L483.8 122.2 L484.3 122.3 L484.8 122.39 L485.3 122.48 L485.8 122.57 L486.3 122.65 L486.8 122.72 L487.3 122.8 L487.8 122.87 L488.3 122.93 L488.8 122.99 L489.3 123.05 L489.8 123.11 L490.3 123.16 L490.8 123.22 L491.3 123.26 L491.8 123.31 L492.3 123.36 L492.8 123.4 L493.3 123.44 L493.8 123.48 L494.3 123.52 L494.8 123.55 L495.3 123.59 L495.8 123.62 L496.3 123.65 L496.8 123.69 L497.3 123.72 L497.8 123.75 L498.3 123.77 L498.8 123.8 L499.3 123.83 L499.8 123.85 L500.3 123.88 L500.8 123.9 L501.3 123.92 L501.8 123.95 L502.3 123.97 L502.8 123.99 L503.3 124.01 L503.8 124.03 L504.3 124.05 L504.8 124.07 L505.3 124.09 L505.8 124.1 L506.3 124.12 L506.8 124.14 L507.3 124.15 L507.8 124.17 L508.3 124.19 L508.8 124.2 L509.3 124.22 L509.8 124.23 L510.3 124.24 L510.8 124.26 L511.3 124.27 L511.8 124.28 L512.3 124.29 L512.8 124.31 L513.3 124.32 L513.8 124.33 L514.3 124.34 L514.8 124.35 L515.3 124.36 L515.8 124.37 L516.3 124.38 L516.8 124.39 L517.3 124.4 L517.8 124.41 L518.3 124.42 L518.8 124.43 L519.3 124.43 L519.8 124.44 L520.3 124.45 L520.8 124.46 L521.3 124.47 L521.8 124.47 L522.3 124.48 L522.8 124.49 L523.3 124.49 L523.8 124.5 L524.3 124.51 L524.8 124.51 L525.3 124.52 L525.8 124.52 L526.3 124.53 L526.8 124.53 L527.3 124.54 L527.8 124.54 L528.3 124.55 L528.8 124.55 L529.3 124.56 L529.8 124.56 L530.3 124.57 L530.8 124.57 L531.3 124.58 L531.8 124.58 L532.3 124.58 L532.8 124.59 L533.3 124.59 L533.8 124.6 L534.3 124.6 L534.8 124.6 L535.3 124.61 L535.8 124.61 L536.3 124.61 L536.8 124.61 L537.3 124.62 L537.8 124.62 L538.3 124.62 L538.8 124.63 L539.3 124.63 L539.8 124.63 L540.3 124.63 L540.8 124.64 L541.3 124.64 L541.8 124.64 L542.3 124.64 L542.8 124.65 L543.3 124.65 L543.8 124.65 L544.3 124.65 L544.8 124.65" fill="none" stroke="#1f9e66" stroke-width="1.35"/>
<linearGradient id="gc1" gradientUnits="userSpaceOnUse" x1="0" y1="43.06" x2="0" y2="124.78"><stop offset="0" stop-color="#5a8edc" stop-opacity="0.58"/><stop offset="0.5" stop-color="#5a8edc" stop-opacity="0.24"/><stop offset="1" stop-color="#ffffff" stop-opacity="0.03"/></linearGradient>
<path d="M425.3 122.22 L425.8 122.21 L426.3 122.2 L426.8 122.19 L427.3 122.18 L427.8 122.17 L428.3 122.16 L428.8 122.14 L429.3 122.13 L429.8 122.11 L430.3 122.09 L430.8 122.06 L431.3 122.04 L431.8 122.01 L432.3 121.97 L432.8 121.93 L433.3 121.89 L433.8 121.84 L434.3 121.78 L434.8 121.72 L435.3 121.65 L435.8 121.57 L436.3 121.48 L436.8 121.37 L437.3 121.25 L437.8 121.12 L438.3 120.98 L438.8 120.81 L439.3 120.62 L439.8 120.42 L440.3 120.19 L440.8 119.93 L441.3 119.64 L441.8 119.33 L442.3 118.98 L442.8 118.59 L443.3 118.16 L443.8 117.69 L444.3 117.18 L444.8 116.62 L445.3 116.01 L445.8 115.34 L446.3 114.62 L446.8 113.84 L447.3 113 L447.8 112.09 L448.3 111.11 L448.8 110.06 L449.3 108.95 L449.8 107.75 L450.3 106.49 L450.8 105.14 L451.3 103.72 L451.8 102.23 L452.3 100.66 L452.8 99.01 L453.3 97.29 L453.8 95.5 L454.3 93.63 L454.8 91.71 L455.3 89.72 L455.8 87.68 L456.3 85.58 L456.8 83.45 L457.3 81.27 L457.8 79.06 L458.3 76.84 L458.8 74.6 L459.3 72.35 L459.8 70.12 L460.3 67.9 L460.8 65.7 L461.3 63.55 L461.8 61.44 L462.3 59.4 L462.8 57.43 L463.3 55.54 L463.8 53.75 L464.3 52.06 L464.8 50.49 L465.3 49.05 L465.8 47.74 L466.3 46.58 L466.8 45.58 L467.3 44.73 L467.8 44.05 L468.3 43.54 L468.8 43.21 L469.3 43.06 L469.8 43.09 L470.3 43.3 L470.8 43.68 L471.3 44.24 L471.8 44.97 L472.3 45.87 L472.8 46.93 L473.3 48.14 L473.8 49.5 L474.3 50.99 L474.8 52.61 L475.3 54.34 L475.8 56.18 L476.3 58.11 L476.8 60.12 L477.3 62.2 L477.8 64.35 L478.3 66.54 L478.8 68.77 L479.3 71.02 L479.8 73.29 L480.3 75.56 L480.8 77.83 L481.3 80.09 L481.8 82.32 L482.3 84.52 L482.8 86.69 L483.3 88.8 L483.8 90.87 L484.3 92.88 L484.8 94.82 L485.3 96.71 L485.8 98.52 L486.3 100.26 L486.8 101.92 L487.3 103.51 L487.8 105.03 L488.3 106.46 L488.8 107.82 L489.3 109.11 L489.8 110.32 L490.3 111.45 L490.8 112.52 L491.3 113.51 L491.8 114.44 L492.3 115.3 L492.8 116.09 L493.3 116.83 L493.8 117.51 L494.3 118.14 L494.8 118.72 L495.3 119.25 L495.8 119.73 L496.3 120.18 L496.8 120.58 L497.3 120.95 L497.8 121.28 L498.3 121.58 L498.8 121.85 L499.3 122.1 L499.8 122.33 L500.3 122.53 L500.8 122.71 L501.3 122.87 L501.8 123.02 L502.3 123.15 L502.8 123.27 L503.3 123.38 L503.8 123.47 L504.3 123.56 L504.8 123.64 L505.3 123.7 L505.8 123.77 L506.3 123.82 L506.8 123.88 L507.3 123.92 L507.8 123.96 L508.3 124 L508.8 124.04 L509.3 124.07 L509.8 124.1 L510.3 124.13 L510.8 124.15 L511.3 124.18 L511.8 124.2 L512.3 124.22 L512.8 124.24 L513.3 124.26 L513.8 124.27 L513.8 124.57 L513.3 124.57 L512.8 124.56 L512.3 124.55 L511.8 124.54 L511.3 124.53 L510.8 124.52 L510.3 124.51 L509.8 124.5 L509.3 124.49 L508.8 124.48 L508.3 124.47 L507.8 124.46 L507.3 124.45 L506.8 124.44 L506.3 124.43 L505.8 124.41 L505.3 124.4 L504.8 124.39 L504.3 124.38 L503.8 124.36 L503.3 124.35 L502.8 124.33 L502.3 124.32 L501.8 124.3 L501.3 124.29 L500.8 124.27 L500.3 124.26 L499.8 124.24 L499.3 124.23 L498.8 124.21 L498.3 124.19 L497.8 124.17 L497.3 124.16 L496.8 124.14 L496.3 124.12 L495.8 124.1 L495.3 124.08 L494.8 124.06 L494.3 124.04 L493.8 124.03 L493.3 124.01 L492.8 123.99 L492.3 123.96 L491.8 123.94 L491.3 123.92 L490.8 123.9 L490.3 123.88 L489.8 123.86 L489.3 123.84 L488.8 123.82 L488.3 123.8 L487.8 123.77 L487.3 123.75 L486.8 123.73 L486.3 123.71 L485.8 123.69 L485.3 123.66 L484.8 123.64 L484.3 123.62 L483.8 123.6 L483.3 123.57 L482.8 123.55 L482.3 123.53 L481.8 123.51 L481.3 123.49 L480.8 123.47 L480.3 123.44 L479.8 123.42 L479.3 123.4 L478.8 123.38 L478.3 123.36 L477.8 123.34 L477.3 123.32 L476.8 123.3 L476.3 123.28 L475.8 123.26 L475.3 123.24 L474.8 123.22 L474.3 123.2 L473.8 123.18 L473.3 123.16 L472.8 123.15 L472.3 123.13 L471.8 123.11 L471.3 123.09 L470.8 123.08 L470.3 123.06 L469.8 123.05 L469.3 123.03 L468.8 123.01 L468.3 123 L467.8 122.98 L467.3 122.97 L466.8 122.95 L466.3 122.94 L465.8 122.93 L465.3 122.91 L464.8 122.9 L464.3 122.89 L463.8 122.88 L463.3 122.86 L462.8 122.85 L462.3 122.84 L461.8 122.83 L461.3 122.82 L460.8 122.81 L460.3 122.8 L459.8 122.79 L459.3 122.78 L458.8 122.77 L458.3 122.76 L457.8 122.75 L457.3 122.74 L456.8 122.74 L456.3 122.73 L455.8 122.72 L455.3 122.71 L454.8 122.71 L454.3 122.7 L453.8 122.69 L453.3 122.68 L452.8 122.68 L452.3 122.67 L451.8 122.67 L451.3 122.66 L450.8 122.65 L450.3 122.65 L449.8 122.64 L449.3 122.64 L448.8 122.63 L448.3 122.63 L447.8 122.62 L447.3 122.62 L446.8 122.62 L446.3 122.61 L445.8 122.61 L445.3 122.6 L444.8 122.6 L444.3 122.6 L443.8 122.59 L443.3 122.59 L442.8 122.59 L442.3 122.58 L441.8 122.58 L441.3 122.58 L440.8 122.57 L440.3 122.57 L439.8 122.57 L439.3 122.57 L438.8 122.56 L438.3 122.56 L437.8 122.56 L437.3 122.56 L436.8 122.56 L436.3 122.55 L435.8 122.55 L435.3 122.55 L434.8 122.55 L434.3 122.55 L433.8 122.54 L433.3 122.54 L432.8 122.54 L432.3 122.54 L431.8 122.54 L431.3 122.54 L430.8 122.54 L430.3 122.53 L429.8 122.53 L429.3 122.53 L428.8 122.53 L428.3 122.53 L427.8 122.53 L427.3 122.53 L426.8 122.53 L426.3 122.52 L425.8 122.52 L425.3 122.52 Z" fill="url(#gc1)"/>
<path d="M393.3 122.4 L393.8 122.4 L394.3 122.4 L394.8 122.4 L395.3 122.39 L395.8 122.39 L396.3 122.39 L396.8 122.39 L397.3 122.39 L397.8 122.39 L398.3 122.39 L398.8 122.39 L399.3 122.38 L399.8 122.38 L400.3 122.38 L400.8 122.38 L401.3 122.38 L401.8 122.38 L402.3 122.37 L402.8 122.37 L403.3 122.37 L403.8 122.37 L404.3 122.37 L404.8 122.36 L405.3 122.36 L405.8 122.36 L406.3 122.36 L406.8 122.36 L407.3 122.35 L407.8 122.35 L408.3 122.35 L408.8 122.35 L409.3 122.35 L409.8 122.34 L410.3 122.34 L410.8 122.34 L411.3 122.34 L411.8 122.33 L412.3 122.33 L412.8 122.33 L413.3 122.33 L413.8 122.32 L414.3 122.32 L414.8 122.32 L415.3 122.31 L415.8 122.31 L416.3 122.31 L416.8 122.3 L417.3 122.3 L417.8 122.3 L418.3 122.29 L418.8 122.29 L419.3 122.29 L419.8 122.28 L420.3 122.28 L420.8 122.27 L421.3 122.27 L421.8 122.26 L422.3 122.26 L422.8 122.25 L423.3 122.25 L423.8 122.24 L424.3 122.24 L424.8 122.23 L425.3 122.22 L425.8 122.21 L426.3 122.2 L426.8 122.19 L427.3 122.18 L427.8 122.17 L428.3 122.16 L428.8 122.14 L429.3 122.13 L429.8 122.11 L430.3 122.09 L430.8 122.06 L431.3 122.04 L431.8 122.01 L432.3 121.97 L432.8 121.93 L433.3 121.89 L433.8 121.84 L434.3 121.78 L434.8 121.72 L435.3 121.65 L435.8 121.57 L436.3 121.48 L436.8 121.37 L437.3 121.25 L437.8 121.12 L438.3 120.98 L438.8 120.81 L439.3 120.62 L439.8 120.42 L440.3 120.19 L440.8 119.93 L441.3 119.64 L441.8 119.33 L442.3 118.98 L442.8 118.59 L443.3 118.16 L443.8 117.69 L444.3 117.18 L444.8 116.62 L445.3 116.01 L445.8 115.34 L446.3 114.62 L446.8 113.84 L447.3 113 L447.8 112.09 L448.3 111.11 L448.8 110.06 L449.3 108.95 L449.8 107.75 L450.3 106.49 L450.8 105.14 L451.3 103.72 L451.8 102.23 L452.3 100.66 L452.8 99.01 L453.3 97.29 L453.8 95.5 L454.3 93.63 L454.8 91.71 L455.3 89.72 L455.8 87.68 L456.3 85.58 L456.8 83.45 L457.3 81.27 L457.8 79.06 L458.3 76.84 L458.8 74.6 L459.3 72.35 L459.8 70.12 L460.3 67.9 L460.8 65.7 L461.3 63.55 L461.8 61.44 L462.3 59.4 L462.8 57.43 L463.3 55.54 L463.8 53.75 L464.3 52.06 L464.8 50.49 L465.3 49.05 L465.8 47.74 L466.3 46.58 L466.8 45.58 L467.3 44.73 L467.8 44.05 L468.3 43.54 L468.8 43.21 L469.3 43.06 L469.8 43.09 L470.3 43.3 L470.8 43.68 L471.3 44.24 L471.8 44.97 L472.3 45.87 L472.8 46.93 L473.3 48.14 L473.8 49.5 L474.3 50.99 L474.8 52.61 L475.3 54.34 L475.8 56.18 L476.3 58.11 L476.8 60.12 L477.3 62.2 L477.8 64.35 L478.3 66.54 L478.8 68.77 L479.3 71.02 L479.8 73.29 L480.3 75.56 L480.8 77.83 L481.3 80.09 L481.8 82.32 L482.3 84.52 L482.8 86.69 L483.3 88.8 L483.8 90.87 L484.3 92.88 L484.8 94.82 L485.3 96.71 L485.8 98.52 L486.3 100.26 L486.8 101.92 L487.3 103.51 L487.8 105.03 L488.3 106.46 L488.8 107.82 L489.3 109.11 L489.8 110.32 L490.3 111.45 L490.8 112.52 L491.3 113.51 L491.8 114.44 L492.3 115.3 L492.8 116.09 L493.3 116.83 L493.8 117.51 L494.3 118.14 L494.8 118.72 L495.3 119.25 L495.8 119.73 L496.3 120.18 L496.8 120.58 L497.3 120.95 L497.8 121.28 L498.3 121.58 L498.8 121.85 L499.3 122.1 L499.8 122.33 L500.3 122.53 L500.8 122.71 L501.3 122.87 L501.8 123.02 L502.3 123.15 L502.8 123.27 L503.3 123.38 L503.8 123.47 L504.3 123.56 L504.8 123.64 L505.3 123.7 L505.8 123.77 L506.3 123.82 L506.8 123.88 L507.3 123.92 L507.8 123.96 L508.3 124 L508.8 124.04 L509.3 124.07 L509.8 124.1 L510.3 124.13 L510.8 124.15 L511.3 124.18 L511.8 124.2 L512.3 124.22 L512.8 124.24 L513.3 124.26 L513.8 124.27 L514.3 124.29 L514.8 124.3 L515.3 124.32 L515.8 124.33 L516.3 124.35 L516.8 124.36 L517.3 124.37 L517.8 124.38 L518.3 124.39 L518.8 124.4 L519.3 124.41 L519.8 124.42 L520.3 124.43 L520.8 124.44 L521.3 124.45 L521.8 124.46 L522.3 124.47 L522.8 124.48 L523.3 124.49 L523.8 124.49 L524.3 124.5 L524.8 124.51 L525.3 124.51 L525.8 124.52 L526.3 124.53 L526.8 124.53 L527.3 124.54 L527.8 124.55 L528.3 124.55 L528.8 124.56 L529.3 124.56 L529.8 124.57 L530.3 124.57 L530.8 124.58 L531.3 124.58 L531.8 124.59 L532.3 124.59 L532.8 124.6 L533.3 124.6 L533.8 124.61 L534.3 124.61 L534.8 124.61 L535.3 124.62 L535.8 124.62 L536.3 124.62 L536.8 124.63 L537.3 124.63 L537.8 124.63 L538.3 124.64 L538.8 124.64 L539.3 124.64 L539.8 124.65 L540.3 124.65 L540.8 124.65 L541.3 124.66 L541.8 124.66 L542.3 124.66 L542.8 124.66 L543.3 124.67 L543.8 124.67 L544.3 124.67 L544.8 124.67" fill="none" stroke="#1a72e6" stroke-width="1.35"/>
<linearGradient id="gc2" gradientUnits="userSpaceOnUse" x1="0" y1="44.91" x2="0" y2="124.78"><stop offset="0" stop-color="#f48660" stop-opacity="0.58"/><stop offset="0.5" stop-color="#f48660" stop-opacity="0.24"/><stop offset="1" stop-color="#ffffff" stop-opacity="0.03"/></linearGradient>
<path d="M453.3 122.34 L453.8 122.3 L454.3 122.25 L454.8 122.2 L455.3 122.14 L455.8 122.07 L456.3 121.99 L456.8 121.9 L457.3 121.8 L457.8 121.69 L458.3 121.57 L458.8 121.43 L459.3 121.28 L459.8 121.11 L460.3 120.92 L460.8 120.72 L461.3 120.49 L461.8 120.24 L462.3 119.97 L462.8 119.66 L463.3 119.34 L463.8 118.98 L464.3 118.59 L464.8 118.17 L465.3 117.71 L465.8 117.21 L466.3 116.68 L466.8 116.1 L467.3 115.48 L467.8 114.82 L468.3 114.11 L468.8 113.35 L469.3 112.54 L469.8 111.68 L470.3 110.77 L470.8 109.8 L471.3 108.78 L471.8 107.7 L472.3 106.57 L472.8 105.38 L473.3 104.13 L473.8 102.83 L474.3 101.46 L474.8 100.05 L475.3 98.58 L475.8 97.05 L476.3 95.48 L476.8 93.85 L477.3 92.18 L477.8 90.46 L478.3 88.71 L478.8 86.92 L479.3 85.09 L479.8 83.24 L480.3 81.37 L480.8 79.48 L481.3 77.57 L481.8 75.66 L482.3 73.75 L482.8 71.84 L483.3 69.95 L483.8 68.08 L484.3 66.23 L484.8 64.41 L485.3 62.64 L485.8 60.92 L486.3 59.24 L486.8 57.63 L487.3 56.09 L487.8 54.63 L488.3 53.24 L488.8 51.95 L489.3 50.75 L489.8 49.65 L490.3 48.65 L490.8 47.76 L491.3 46.99 L491.8 46.33 L492.3 45.8 L492.8 45.39 L493.3 45.1 L493.8 44.94 L494.3 44.91 L494.8 45.01 L495.3 45.23 L495.8 45.59 L496.3 46.06 L496.8 46.66 L497.3 47.38 L497.8 48.22 L498.3 49.17 L498.8 50.23 L499.3 51.39 L499.8 52.65 L500.3 54.01 L500.8 55.44 L501.3 56.96 L501.8 58.56 L502.3 60.22 L502.8 61.94 L503.3 63.71 L503.8 65.53 L504.3 67.39 L504.8 69.28 L505.3 71.19 L505.8 73.12 L506.3 75.06 L506.8 77.01 L507.3 78.95 L507.8 80.89 L508.3 82.81 L508.8 84.71 L509.3 86.59 L509.8 88.44 L510.3 90.25 L510.8 92.03 L511.3 93.76 L511.8 95.45 L512.3 97.1 L512.8 98.69 L513.3 100.23 L513.8 101.72 L514.3 103.15 L514.8 104.52 L515.3 105.84 L515.8 107.1 L516.3 108.31 L516.8 109.45 L517.3 110.54 L517.8 111.57 L518.3 112.55 L518.8 113.47 L519.3 114.34 L519.8 115.16 L520.3 115.93 L520.8 116.65 L521.3 117.32 L521.8 117.95 L522.3 118.54 L522.8 119.08 L523.3 119.58 L523.8 120.05 L524.3 120.48 L524.8 120.88 L525.3 121.25 L525.8 121.59 L526.3 121.9 L526.8 122.18 L527.3 122.44 L527.8 122.67 L528.3 122.89 L528.8 123.09 L529.3 123.26 L529.8 123.42 L530.3 123.57 L530.8 123.7 L531.3 123.82 L531.8 123.93 L532.3 124.02 L532.8 124.11 L533.3 124.19 L533.8 124.26 L534.3 124.32 L534.8 124.37 L535.3 124.42 L535.3 124.75 L534.8 124.75 L534.3 124.75 L533.8 124.75 L533.3 124.75 L532.8 124.74 L532.3 124.74 L531.8 124.74 L531.3 124.74 L530.8 124.73 L530.3 124.73 L529.8 124.73 L529.3 124.73 L528.8 124.72 L528.3 124.72 L527.8 124.72 L527.3 124.71 L526.8 124.71 L526.3 124.71 L525.8 124.7 L525.3 124.7 L524.8 124.7 L524.3 124.69 L523.8 124.69 L523.3 124.69 L522.8 124.68 L522.3 124.68 L521.8 124.67 L521.3 124.67 L520.8 124.66 L520.3 124.66 L519.8 124.65 L519.3 124.65 L518.8 124.64 L518.3 124.64 L517.8 124.63 L517.3 124.62 L516.8 124.62 L516.3 124.61 L515.8 124.6 L515.3 124.6 L514.8 124.59 L514.3 124.58 L513.8 124.57 L513.3 124.57 L512.8 124.56 L512.3 124.55 L511.8 124.54 L511.3 124.53 L510.8 124.52 L510.3 124.51 L509.8 124.5 L509.3 124.49 L508.8 124.48 L508.3 124.47 L507.8 124.46 L507.3 124.45 L506.8 124.44 L506.3 124.43 L505.8 124.41 L505.3 124.4 L504.8 124.39 L504.3 124.38 L503.8 124.36 L503.3 124.35 L502.8 124.33 L502.3 124.32 L501.8 124.3 L501.3 124.29 L500.8 124.27 L500.3 124.26 L499.8 124.24 L499.3 124.23 L498.8 124.21 L498.3 124.19 L497.8 124.17 L497.3 124.16 L496.8 124.14 L496.3 124.12 L495.8 124.1 L495.3 124.08 L494.8 124.06 L494.3 124.04 L493.8 124.03 L493.3 124.01 L492.8 123.99 L492.3 123.96 L491.8 123.94 L491.3 123.92 L490.8 123.9 L490.3 123.88 L489.8 123.86 L489.3 123.84 L488.8 123.82 L488.3 123.8 L487.8 123.77 L487.3 123.75 L486.8 123.73 L486.3 123.71 L485.8 123.69 L485.3 123.66 L484.8 123.64 L484.3 123.62 L483.8 123.6 L483.3 123.57 L482.8 123.55 L482.3 123.53 L481.8 123.51 L481.3 123.49 L480.8 123.47 L480.3 123.44 L479.8 123.42 L479.3 123.4 L478.8 123.38 L478.3 123.36 L477.8 123.34 L477.3 123.32 L476.8 123.3 L476.3 123.28 L475.8 123.26 L475.3 123.24 L474.8 123.22 L474.3 123.2 L473.8 123.18 L473.3 123.16 L472.8 123.15 L472.3 123.13 L471.8 123.11 L471.3 123.09 L470.8 123.08 L470.3 123.06 L469.8 123.05 L469.3 123.03 L468.8 123.01 L468.3 123 L467.8 122.98 L467.3 122.97 L466.8 122.95 L466.3 122.94 L465.8 122.93 L465.3 122.91 L464.8 122.9 L464.3 122.89 L463.8 122.88 L463.3 122.86 L462.8 122.85 L462.3 122.84 L461.8 122.83 L461.3 122.82 L460.8 122.81 L460.3 122.8 L459.8 122.79 L459.3 122.78 L458.8 122.77 L458.3 122.76 L457.8 122.75 L457.3 122.74 L456.8 122.74 L456.3 122.73 L455.8 122.72 L455.3 122.71 L454.8 122.71 L454.3 122.7 L453.8 122.69 L453.3 122.68 Z" fill="url(#gc2)"/>
<path d="M393.3 122.5 L393.8 122.5 L394.3 122.5 L394.8 122.5 L395.3 122.5 L395.8 122.5 L396.3 122.5 L396.8 122.5 L397.3 122.5 L397.8 122.5 L398.3 122.5 L398.8 122.5 L399.3 122.5 L399.8 122.5 L400.3 122.5 L400.8 122.5 L401.3 122.5 L401.8 122.5 L402.3 122.5 L402.8 122.5 L403.3 122.5 L403.8 122.5 L404.3 122.5 L404.8 122.5 L405.3 122.5 L405.8 122.51 L406.3 122.51 L406.8 122.51 L407.3 122.51 L407.8 122.51 L408.3 122.51 L408.8 122.51 L409.3 122.51 L409.8 122.51 L410.3 122.51 L410.8 122.51 L411.3 122.51 L411.8 122.51 L412.3 122.51 L412.8 122.51 L413.3 122.51 L413.8 122.51 L414.3 122.51 L414.8 122.51 L415.3 122.51 L415.8 122.51 L416.3 122.51 L416.8 122.51 L417.3 122.51 L417.8 122.51 L418.3 122.51 L418.8 122.51 L419.3 122.51 L419.8 122.52 L420.3 122.52 L420.8 122.52 L421.3 122.52 L421.8 122.52 L422.3 122.52 L422.8 122.52 L423.3 122.52 L423.8 122.52 L424.3 122.52 L424.8 122.52 L425.3 122.52 L425.8 122.52 L426.3 122.52 L426.8 122.53 L427.3 122.53 L427.8 122.53 L428.3 122.53 L428.8 122.53 L429.3 122.53 L429.8 122.53 L430.3 122.53 L430.8 122.53 L431.3 122.54 L431.8 122.54 L432.3 122.54 L432.8 122.54 L433.3 122.54 L433.8 122.54 L434.3 122.54 L434.8 122.55 L435.3 122.55 L435.8 122.55 L436.3 122.55 L436.8 122.55 L437.3 122.56 L437.8 122.56 L438.3 122.56 L438.8 122.56 L439.3 122.56 L439.8 122.56 L440.3 122.57 L440.8 122.57 L441.3 122.57 L441.8 122.57 L442.3 122.57 L442.8 122.57 L443.3 122.57 L443.8 122.57 L444.3 122.57 L444.8 122.57 L445.3 122.57 L445.8 122.57 L446.3 122.57 L446.8 122.56 L447.3 122.56 L447.8 122.55 L448.3 122.55 L448.8 122.54 L449.3 122.53 L449.8 122.51 L450.3 122.5 L450.8 122.48 L451.3 122.46 L451.8 122.44 L452.3 122.41 L452.8 122.38 L453.3 122.34 L453.8 122.3 L454.3 122.25 L454.8 122.2 L455.3 122.14 L455.8 122.07 L456.3 121.99 L456.8 121.9 L457.3 121.8 L457.8 121.69 L458.3 121.57 L458.8 121.43 L459.3 121.28 L459.8 121.11 L460.3 120.92 L460.8 120.72 L461.3 120.49 L461.8 120.24 L462.3 119.97 L462.8 119.66 L463.3 119.34 L463.8 118.98 L464.3 118.59 L464.8 118.17 L465.3 117.71 L465.8 117.21 L466.3 116.68 L466.8 116.1 L467.3 115.48 L467.8 114.82 L468.3 114.11 L468.8 113.35 L469.3 112.54 L469.8 111.68 L470.3 110.77 L470.8 109.8 L471.3 108.78 L471.8 107.7 L472.3 106.57 L472.8 105.38 L473.3 104.13 L473.8 102.83 L474.3 101.46 L474.8 100.05 L475.3 98.58 L475.8 97.05 L476.3 95.48 L476.8 93.85 L477.3 92.18 L477.8 90.46 L478.3 88.71 L478.8 86.92 L479.3 85.09 L479.8 83.24 L480.3 81.37 L480.8 79.48 L481.3 77.57 L481.8 75.66 L482.3 73.75 L482.8 71.84 L483.3 69.95 L483.8 68.08 L484.3 66.23 L484.8 64.41 L485.3 62.64 L485.8 60.92 L486.3 59.24 L486.8 57.63 L487.3 56.09 L487.8 54.63 L488.3 53.24 L488.8 51.95 L489.3 50.75 L489.8 49.65 L490.3 48.65 L490.8 47.76 L491.3 46.99 L491.8 46.33 L492.3 45.8 L492.8 45.39 L493.3 45.1 L493.8 44.94 L494.3 44.91 L494.8 45.01 L495.3 45.23 L495.8 45.59 L496.3 46.06 L496.8 46.66 L497.3 47.38 L497.8 48.22 L498.3 49.17 L498.8 50.23 L499.3 51.39 L499.8 52.65 L500.3 54.01 L500.8 55.44 L501.3 56.96 L501.8 58.56 L502.3 60.22 L502.8 61.94 L503.3 63.71 L503.8 65.53 L504.3 67.39 L504.8 69.28 L505.3 71.19 L505.8 73.12 L506.3 75.06 L506.8 77.01 L507.3 78.95 L507.8 80.89 L508.3 82.81 L508.8 84.71 L509.3 86.59 L509.8 88.44 L510.3 90.25 L510.8 92.03 L511.3 93.76 L511.8 95.45 L512.3 97.1 L512.8 98.69 L513.3 100.23 L513.8 101.72 L514.3 103.15 L514.8 104.52 L515.3 105.84 L515.8 107.1 L516.3 108.31 L516.8 109.45 L517.3 110.54 L517.8 111.57 L518.3 112.55 L518.8 113.47 L519.3 114.34 L519.8 115.16 L520.3 115.93 L520.8 116.65 L521.3 117.32 L521.8 117.95 L522.3 118.54 L522.8 119.08 L523.3 119.58 L523.8 120.05 L524.3 120.48 L524.8 120.88 L525.3 121.25 L525.8 121.59 L526.3 121.9 L526.8 122.18 L527.3 122.44 L527.8 122.67 L528.3 122.89 L528.8 123.09 L529.3 123.26 L529.8 123.42 L530.3 123.57 L530.8 123.7 L531.3 123.82 L531.8 123.93 L532.3 124.02 L532.8 124.11 L533.3 124.19 L533.8 124.26 L534.3 124.32 L534.8 124.37 L535.3 124.42 L535.8 124.46 L536.3 124.5 L536.8 124.54 L537.3 124.57 L537.8 124.59 L538.3 124.62 L538.8 124.64 L539.3 124.66 L539.8 124.67 L540.3 124.69 L540.8 124.7 L541.3 124.71 L541.8 124.72 L542.3 124.73 L542.8 124.74 L543.3 124.74 L543.8 124.75 L544.3 124.75 L544.8 124.76" fill="none" stroke="#f26a1b" stroke-width="1.35"/>
<circle cx="496.3" cy="11.6" r="1.2" fill="#c4c4c4"/>
<text x="506.3" y="14" font-size="7.6" fill="#222" stroke="#222" stroke-width="0" text-anchor="start" textLength="37.9" lengthAdjust="spacingAndGlyphs">Raw Intensity</text>
<line x1="488.5" y1="19.8" x2="504.3" y2="19.8" stroke="#555" stroke-width="1.6"/>
<text x="506.3" y="22.4" font-size="7.6" fill="#222" stroke="#222" stroke-width="0" text-anchor="start" textLength="27.4" lengthAdjust="spacingAndGlyphs">Peak Sum</text>
<line x1="488.5" y1="28.4" x2="504.3" y2="28.4" stroke="#ff1aff" stroke-width="1.6"/>
<text x="506.3" y="30.9" font-size="7.6" fill="#222" stroke="#222" stroke-width="0" text-anchor="start" textLength="33.4" lengthAdjust="spacingAndGlyphs">Background</text>
<text x="405.6" y="81.3" font-size="8" fill="#1f9e66" stroke="#1f9e66" stroke-width="0.12" text-anchor="start" >C&#8211;O/C=O</text>
<line x1="421.1" y1="84.8" x2="434.95" y2="102.67" stroke="#1f9e66" stroke-width="0.65"/>
<path d="M436.6 104.8 L433.61 103.07 L435.67 101.47 Z" fill="#1f9e66"/>
<text x="436.3" y="46.2" font-size="8" fill="#2b7fd0" stroke="#2b7fd0" stroke-width="0.12" text-anchor="start" >C&#8211;N</text>
<line x1="444.8" y1="49.2" x2="463.15" y2="68.64" stroke="#2b7fd0" stroke-width="0.65"/>
<path d="M465 70.6 L461.86 69.17 L463.75 67.38 Z" fill="#2b7fd0"/>
<text x="507.2" y="53.4" font-size="8" fill="#f26a1b" stroke="#f26a1b" stroke-width="0.12" text-anchor="start" >C&#8211;C/C&#8211;Si</text>
<line x1="521.2" y1="56.6" x2="502.97" y2="82.01" stroke="#f26a1b" stroke-width="0.65"/>
<path d="M501.4 84.2 L502.21 80.84 L504.32 82.36 Z" fill="#f26a1b"/>
<rect x="392.7" y="7" width="153.1" height="123" fill="none" stroke="#858585" stroke-width="1.3"/>
<line x1="544.8" y1="130" x2="544.8" y2="131.4" stroke="#858585" stroke-width="0.9"/>
<line x1="527.9" y1="130" x2="527.9" y2="132.4" stroke="#858585" stroke-width="0.9"/>
<line x1="511" y1="130" x2="511" y2="131.4" stroke="#858585" stroke-width="0.9"/>
<line x1="494.1" y1="130" x2="494.1" y2="132.4" stroke="#858585" stroke-width="0.9"/>
<line x1="477.2" y1="130" x2="477.2" y2="131.4" stroke="#858585" stroke-width="0.9"/>
<line x1="460.3" y1="130" x2="460.3" y2="132.4" stroke="#858585" stroke-width="0.9"/>
<line x1="443.4" y1="130" x2="443.4" y2="131.4" stroke="#858585" stroke-width="0.9"/>
<line x1="426.5" y1="130" x2="426.5" y2="132.4" stroke="#858585" stroke-width="0.9"/>
<line x1="409.6" y1="130" x2="409.6" y2="131.4" stroke="#858585" stroke-width="0.9"/>
<text x="392.7" y="140.5" font-size="8" fill="#222" stroke="#222" stroke-width="0.12" text-anchor="middle" >290</text>
<text x="426.5" y="140.5" font-size="8" fill="#222" stroke="#222" stroke-width="0.12" text-anchor="middle" >288</text>
<text x="460.3" y="140.5" font-size="8" fill="#222" stroke="#222" stroke-width="0.12" text-anchor="middle" >286</text>
<text x="494.1" y="140.5" font-size="8" fill="#222" stroke="#222" stroke-width="0.12" text-anchor="middle" >284</text>
<text x="527.9" y="140.5" font-size="8" fill="#222" stroke="#222" stroke-width="0.12" text-anchor="middle" >282</text>
<text x="469.25" y="148" font-size="8" fill="#222" stroke="#222" stroke-width="0.12" text-anchor="middle" >Binding Energy (eV)</text>
<text x="0" y="0" font-size="8" fill="#222" stroke="#222" stroke-width="0.12" text-anchor="middle" transform="translate(387.9 68.5) rotate(-90)">Intensity (a.u.)</text>
<text x="373.7" y="14.1" font-size="10.6" fill="#1a1a1a" stroke="#1a1a1a" stroke-width="0.2" text-anchor="start" >(c)</text>
<text x="393.7" y="14.7" font-size="7.8" fill="#222" stroke="#222" stroke-width="0.12" text-anchor="start" >C 1s</text>
<path d="M32.1 281.5 L32.6 281.5 L33.1 281.5 L33.6 281.5 L34.1 281.5 L34.6 281.5 L35.1 281.5 L35.6 281.5 L36.1 281.5 L36.6 281.5 L37.1 281.5 L37.6 281.5 L38.1 281.5 L38.6 281.5 L39.1 281.5 L39.6 281.5 L40.1 281.5 L40.6 281.5 L41.1 281.5 L41.6 281.5 L42.1 281.5 L42.6 281.5 L43.1 281.5 L43.6 281.5 L44.1 281.5 L44.6 281.5 L45.1 281.5 L45.6 281.5 L46.1 281.5 L46.6 281.5 L47.1 281.5 L47.6 281.5 L48.1 281.5 L48.6 281.5 L49.1 281.5 L49.6 281.5 L50.1 281.5 L50.6 281.5 L51.1 281.5 L51.6 281.5 L52.1 281.5 L52.6 281.5 L53.1 281.5 L53.6 281.5 L54.1 281.5 L54.6 281.5 L55.1 281.5 L55.6 281.5 L56.1 281.5 L56.6 281.5 L57.1 281.5 L57.6 281.5 L58.1 281.5 L58.6 281.5 L59.1 281.5 L59.6 281.5 L60.1 281.5 L60.6 281.5 L61.1 281.5 L61.6 281.5 L62.1 281.5 L62.6 281.5 L63.1 281.5 L63.6 281.5 L64.1 281.5 L64.6 281.5 L65.1 281.5 L65.6 281.5 L66.1 281.5 L66.6 281.5 L67.1 281.5 L67.6 281.5 L68.1 281.5 L68.6 281.5 L69.1 281.5 L69.6 281.5 L70.1 281.5 L70.6 281.5 L71.1 281.5 L71.6 281.5 L72.1 281.5 L72.6 281.5 L73.1 281.5 L73.6 281.5 L74.1 281.5 L74.6 281.5 L75.1 281.5 L75.6 281.5 L76.1 281.5 L76.6 281.5 L77.1 281.5 L77.6 281.5 L78.1 281.5 L78.6 281.5 L79.1 281.5 L79.6 281.5 L80.1 281.5 L80.6 281.5 L81.1 281.5 L81.6 281.5 L82.1 281.5 L82.6 281.5 L83.1 281.5 L83.6 281.5 L84.1 281.5 L84.6 281.5 L85.1 281.5 L85.6 281.5 L86.1 281.5 L86.6 281.5 L87.1 281.5 L87.6 281.5 L88.1 281.5 L88.6 281.5 L89.1 281.5 L89.6 281.5 L90.1 281.5 L90.6 281.5 L91.1 281.5 L91.6 281.5 L92.1 281.5 L92.6 281.5 L93.1 281.5 L93.6 281.5 L94.1 281.5 L94.6 281.5 L95.1 281.5 L95.6 281.5 L96.1 281.5 L96.6 281.5 L97.1 281.5 L97.6 281.5 L98.1 281.5 L98.6 281.5 L99.1 281.5 L99.6 281.5 L100.1 281.5 L100.6 281.5 L101.1 281.5 L101.6 281.5 L102.1 281.5 L102.6 281.5 L103.1 281.5 L103.6 281.5 L104.1 281.5 L104.6 281.5 L105.1 281.5 L105.6 281.5 L106.1 281.5 L106.6 281.5 L107.1 281.5 L107.6 281.5 L108.1 281.5 L108.6 281.5 L109.1 281.5 L109.6 281.5 L110.1 281.5 L110.6 281.5 L111.1 281.5 L111.6 281.5 L112.1 281.5 L112.6 281.5 L113.1 281.5 L113.6 281.5 L114.1 281.5 L114.6 281.5 L115.1 281.5 L115.6 281.5 L116.1 281.5 L116.6 281.5 L117.1 281.5 L117.6 281.5 L118.1 281.5 L118.6 281.5 L119.1 281.5 L119.6 281.5 L120.1 281.5 L120.6 281.5 L121.1 281.5 L121.6 281.5 L122.1 281.5 L122.6 281.5 L123.1 281.5 L123.6 281.5 L124.1 281.5 L124.6 281.5 L125.1 281.5 L125.6 281.5 L126.1 281.5 L126.6 281.5 L127.1 281.5 L127.6 281.5 L128.1 281.5 L128.6 281.5 L129.1 281.5 L129.6 281.5 L130.1 281.5 L130.6 281.5 L131.1 281.5 L131.6 281.5 L132.1 281.5 L132.6 281.5 L133.1 281.5 L133.6 281.5 L134.1 281.5 L134.6 281.5 L135.1 281.5 L135.6 281.5 L136.1 281.5 L136.6 281.5 L137.1 281.5 L137.6 281.5 L138.1 281.5 L138.6 281.5 L139.1 281.5 L139.6 281.5 L140.1 281.5 L140.6 281.5 L141.1 281.5 L141.6 281.5 L142.1 281.5 L142.6 281.5 L143.1 281.5 L143.6 281.5 L144.1 281.5 L144.6 281.5 L145.1 281.5 L145.6 281.5 L146.1 281.5 L146.6 281.5 L147.1 281.5 L147.6 281.5 L148.1 281.5 L148.6 281.5 L149.1 281.5 L149.6 281.5 L150.1 281.5 L150.6 281.5 L151.1 281.5 L151.6 281.5 L152.1 281.5 L152.6 281.5 L153.1 281.5 L153.6 281.5 L154.1 281.5 L154.6 281.5 L155.1 281.5 L155.6 281.5 L156.1 281.5 L156.6 281.5 L157.1 281.5 L157.6 281.5 L158.1 281.5 L158.6 281.5 L159.1 281.5 L159.6 281.5 L160.1 281.5 L160.6 281.5 L161.1 281.5 L161.6 281.5 L162.1 281.5 L162.6 281.5 L163.1 281.5 L163.6 281.5 L164.1 281.5 L164.6 281.5 L165.1 281.5 L165.6 281.5 L166.1 281.5 L166.6 281.5 L167.1 281.5 L167.6 281.5 L168.1 281.5 L168.6 281.5 L169.1 281.5 L169.6 281.5 L170.1 281.5 L170.6 281.5 L171.1 281.5 L171.6 281.5 L172.1 281.5 L172.6 281.5 L173.1 281.5 L173.6 281.5 L174.1 281.5 L174.6 281.5 L175.1 281.5 L175.6 281.5 L176.1 281.5 L176.6 281.5 L177.1 281.5 L177.6 281.5 L178.1 281.5 L178.6 281.5 L179.1 281.5 L179.6 281.5 L180.1 281.5 L180.6 281.5 L181.1 281.5 L181.6 281.5 L182.1 281.5 L182.6 281.5 L183.1 281.5 L183.6 281.5" fill="none" stroke="#ff1aff" stroke-width="1.5"/>
<circle cx="31.55" cy="278.4" r="1.3" fill="#cdcdcd"/>
<circle cx="34.24" cy="279.1" r="1.3" fill="#cdcdcd"/>
<circle cx="35.85" cy="278.93" r="1.3" fill="#cdcdcd"/>
<circle cx="37.99" cy="277.37" r="1.3" fill="#cdcdcd"/>
<circle cx="39.65" cy="277.28" r="1.3" fill="#cdcdcd"/>
<circle cx="42.57" cy="276.93" r="1.3" fill="#cdcdcd"/>
<circle cx="44.16" cy="275.99" r="1.3" fill="#cdcdcd"/>
<circle cx="46.68" cy="277.58" r="1.3" fill="#cdcdcd"/>
<circle cx="47.7" cy="274.74" r="1.3" fill="#cdcdcd"/>
<circle cx="50.56" cy="274.23" r="1.3" fill="#cdcdcd"/>
<circle cx="51.62" cy="274.47" r="1.3" fill="#cdcdcd"/>
<circle cx="53.68" cy="272.07" r="1.3" fill="#cdcdcd"/>
<circle cx="56.26" cy="273.51" r="1.3" fill="#cdcdcd"/>
<circle cx="57.73" cy="271.51" r="1.3" fill="#cdcdcd"/>
<circle cx="60.26" cy="269.76" r="1.3" fill="#cdcdcd"/>
<circle cx="61.9" cy="266.21" r="1.3" fill="#cdcdcd"/>
<circle cx="64.19" cy="263.68" r="1.3" fill="#cdcdcd"/>
<circle cx="65.87" cy="261.07" r="1.3" fill="#cdcdcd"/>
<circle cx="68.51" cy="259.48" r="1.3" fill="#cdcdcd"/>
<circle cx="69.67" cy="257.82" r="1.3" fill="#cdcdcd"/>
<circle cx="71.76" cy="252.36" r="1.3" fill="#cdcdcd"/>
<circle cx="74.09" cy="251.48" r="1.3" fill="#cdcdcd"/>
<circle cx="76.15" cy="248.84" r="1.3" fill="#cdcdcd"/>
<circle cx="78" cy="246.53" r="1.3" fill="#cdcdcd"/>
<circle cx="80.24" cy="241.8" r="1.3" fill="#cdcdcd"/>
<circle cx="82.57" cy="238.97" r="1.3" fill="#cdcdcd"/>
<circle cx="83.94" cy="238.46" r="1.3" fill="#cdcdcd"/>
<circle cx="86.67" cy="235.88" r="1.3" fill="#cdcdcd"/>
<circle cx="87.74" cy="235.35" r="1.3" fill="#cdcdcd"/>
<circle cx="90.48" cy="232.92" r="1.3" fill="#cdcdcd"/>
<circle cx="92.11" cy="232.62" r="1.3" fill="#cdcdcd"/>
<circle cx="94.18" cy="231.36" r="1.3" fill="#cdcdcd"/>
<circle cx="95.73" cy="228.84" r="1.3" fill="#cdcdcd"/>
<circle cx="97.6" cy="224.39" r="1.3" fill="#cdcdcd"/>
<circle cx="100.54" cy="221.73" r="1.3" fill="#cdcdcd"/>
<circle cx="102.61" cy="217.43" r="1.3" fill="#cdcdcd"/>
<circle cx="104.45" cy="210.04" r="1.3" fill="#cdcdcd"/>
<circle cx="106.09" cy="205.16" r="1.3" fill="#cdcdcd"/>
<circle cx="107.85" cy="199.43" r="1.3" fill="#cdcdcd"/>
<circle cx="110.29" cy="194.85" r="1.3" fill="#cdcdcd"/>
<circle cx="112.15" cy="186.59" r="1.3" fill="#cdcdcd"/>
<circle cx="113.96" cy="181.77" r="1.3" fill="#cdcdcd"/>
<circle cx="115.81" cy="178.4" r="1.3" fill="#cdcdcd"/>
<circle cx="117.88" cy="177.89" r="1.3" fill="#cdcdcd"/>
<circle cx="120.03" cy="179.27" r="1.3" fill="#cdcdcd"/>
<circle cx="121.86" cy="183.29" r="1.3" fill="#cdcdcd"/>
<circle cx="123.65" cy="189.45" r="1.3" fill="#cdcdcd"/>
<circle cx="125.65" cy="196.67" r="1.3" fill="#cdcdcd"/>
<circle cx="128.46" cy="211.07" r="1.3" fill="#cdcdcd"/>
<circle cx="129.94" cy="225" r="1.3" fill="#cdcdcd"/>
<circle cx="132.55" cy="238.97" r="1.3" fill="#cdcdcd"/>
<circle cx="133.55" cy="249.99" r="1.3" fill="#cdcdcd"/>
<circle cx="136.1" cy="257.34" r="1.3" fill="#cdcdcd"/>
<circle cx="137.6" cy="264.84" r="1.3" fill="#cdcdcd"/>
<circle cx="140.57" cy="267.83" r="1.3" fill="#cdcdcd"/>
<circle cx="141.55" cy="270.96" r="1.3" fill="#cdcdcd"/>
<circle cx="144.43" cy="273.5" r="1.3" fill="#cdcdcd"/>
<circle cx="146.46" cy="274.79" r="1.3" fill="#cdcdcd"/>
<circle cx="148.36" cy="273.66" r="1.3" fill="#cdcdcd"/>
<circle cx="150.31" cy="276.98" r="1.3" fill="#cdcdcd"/>
<circle cx="152.1" cy="275.45" r="1.3" fill="#cdcdcd"/>
<circle cx="154.55" cy="277.36" r="1.3" fill="#cdcdcd"/>
<circle cx="156.16" cy="275.45" r="1.3" fill="#cdcdcd"/>
<circle cx="158" cy="276.91" r="1.3" fill="#cdcdcd"/>
<circle cx="160.38" cy="278.82" r="1.3" fill="#cdcdcd"/>
<circle cx="162.09" cy="277.5" r="1.3" fill="#cdcdcd"/>
<circle cx="164.21" cy="278.08" r="1.3" fill="#cdcdcd"/>
<circle cx="166.3" cy="277.12" r="1.3" fill="#cdcdcd"/>
<circle cx="168.01" cy="279.05" r="1.3" fill="#cdcdcd"/>
<circle cx="170.18" cy="277.94" r="1.3" fill="#cdcdcd"/>
<circle cx="171.69" cy="277.39" r="1.3" fill="#cdcdcd"/>
<circle cx="173.59" cy="279.65" r="1.3" fill="#cdcdcd"/>
<circle cx="176.17" cy="279.18" r="1.3" fill="#cdcdcd"/>
<circle cx="178.33" cy="278.9" r="1.3" fill="#cdcdcd"/>
<circle cx="179.63" cy="278.48" r="1.3" fill="#cdcdcd"/>
<circle cx="181.87" cy="277.2" r="1.3" fill="#cdcdcd"/>
<path d="M32.1 279 L32.6 278.99 L33.1 278.98 L33.6 278.97 L34.1 278.94 L34.6 278.92 L35.1 278.89 L35.6 278.85 L36.1 278.82 L36.6 278.78 L37.1 278.74 L37.6 278.7 L38.1 278.65 L38.6 278.59 L39.1 278.52 L39.6 278.43 L40.1 278.34 L40.6 278.24 L41.1 278.13 L41.6 278.01 L42.1 277.89 L42.6 277.77 L43.1 277.64 L43.6 277.51 L44.1 277.37 L44.6 277.23 L45.1 277.06 L45.6 276.88 L46.1 276.7 L46.6 276.5 L47.1 276.3 L47.6 276.09 L48.1 275.89 L48.6 275.69 L49.1 275.5 L49.6 275.32 L50.1 275.15 L50.6 274.98 L51.1 274.82 L51.6 274.65 L52.1 274.48 L52.6 274.29 L53.1 274.1 L53.6 273.88 L54.1 273.65 L54.6 273.39 L55.1 273.09 L55.6 272.75 L56.1 272.39 L56.6 272.01 L57.1 271.6 L57.6 271.18 L58.1 270.75 L58.6 270.31 L59.1 269.87 L59.6 269.43 L60.1 268.97 L60.6 268.49 L61.1 268 L61.6 267.49 L62.1 266.96 L62.6 266.43 L63.1 265.9 L63.6 265.36 L64.1 264.81 L64.6 264.25 L65.1 263.68 L65.6 263.1 L66.1 262.5 L66.6 261.88 L67.1 261.24 L67.6 260.57 L68.1 259.86 L68.6 259.13 L69.1 258.39 L69.6 257.64 L70.1 256.89 L70.6 256.15 L71.1 255.42 L71.6 254.72 L72.1 254.03 L72.6 253.35 L73.1 252.67 L73.6 252 L74.1 251.33 L74.6 250.66 L75.1 249.99 L75.6 249.32 L76.1 248.64 L76.6 247.96 L77.1 247.27 L77.6 246.56 L78.1 245.84 L78.6 245.11 L79.1 244.39 L79.6 243.69 L80.1 243 L80.6 242.33 L81.1 241.7 L81.6 241.1 L82.1 240.53 L82.6 239.98 L83.1 239.44 L83.6 238.93 L84.1 238.43 L84.6 237.94 L85.1 237.48 L85.6 237.04 L86.1 236.62 L86.6 236.22 L87.1 235.85 L87.6 235.5 L88.1 235.17 L88.6 234.83 L89.1 234.5 L89.6 234.16 L90.1 233.8 L90.6 233.42 L91.1 233.04 L91.6 232.66 L92.1 232.26 L92.6 231.86 L93.1 231.44 L93.6 230.99 L94.1 230.5 L94.6 229.98 L95.1 229.41 L95.6 228.79 L96.1 228.12 L96.6 227.43 L97.1 226.71 L97.6 225.96 L98.1 225.2 L98.6 224.43 L99.1 223.64 L99.6 222.81 L100.1 221.93 L100.6 220.98 L101.1 219.94 L101.6 218.77 L102.1 217.36 L102.6 215.79 L103.1 214.17 L103.6 212.6 L104.1 211.13 L104.6 209.71 L105.1 208.3 L105.6 206.91 L106.1 205.52 L106.6 204.13 L107.1 202.73 L107.6 201.3 L108.1 199.84 L108.6 198.36 L109.1 196.86 L109.6 195.35 L110.1 193.85 L110.6 192.38 L111.1 190.93 L111.6 189.52 L112.1 188.09 L112.6 186.64 L113.1 185.22 L113.6 183.87 L114.1 182.65 L114.6 181.6 L115.1 180.64 L115.6 179.71 L116.1 178.88 L116.6 178.2 L117.1 177.76 L117.6 177.51 L118.1 177.33 L118.6 177.32 L119.1 177.52 L119.6 177.91 L120.1 178.44 L120.6 179.06 L121.1 179.75 L121.6 180.77 L122.1 182.15 L122.6 183.73 L123.1 185.38 L123.6 187.28 L124.1 189.38 L124.6 191.54 L125.1 193.64 L125.6 195.67 L126.1 197.8 L126.6 200.21 L127.1 203.17 L127.6 206.95 L128.1 211.22 L128.6 215.62 L129.1 219.77 L129.6 223.37 L130.1 226.62 L130.6 229.7 L131.1 232.69 L131.6 235.69 L132.1 238.81 L132.6 242.03 L133.1 245.2 L133.6 248.15 L134.1 250.7 L134.6 252.96 L135.1 255.11 L135.6 257.14 L136.1 259.02 L136.6 260.73 L137.1 262.25 L137.6 263.56 L138.1 264.7 L138.6 265.78 L139.1 266.79 L139.6 267.74 L140.1 268.61 L140.6 269.41 L141.1 270.13 L141.6 270.77 L142.1 271.32 L142.6 271.79 L143.1 272.21 L143.6 272.61 L144.1 272.98 L144.6 273.33 L145.1 273.66 L145.6 273.97 L146.1 274.26 L146.6 274.54 L147.1 274.79 L147.6 275.02 L148.1 275.23 L148.6 275.43 L149.1 275.61 L149.6 275.77 L150.1 275.92 L150.6 276.06 L151.1 276.19 L151.6 276.32 L152.1 276.44 L152.6 276.56 L153.1 276.66 L153.6 276.77 L154.1 276.87 L154.6 276.96 L155.1 277.05 L155.6 277.13 L156.1 277.21 L156.6 277.29 L157.1 277.36 L157.6 277.43 L158.1 277.5 L158.6 277.57 L159.1 277.63 L159.6 277.69 L160.1 277.75 L160.6 277.81 L161.1 277.86 L161.6 277.92 L162.1 277.97 L162.6 278.01 L163.1 278.06 L163.6 278.1 L164.1 278.14 L164.6 278.17 L165.1 278.21 L165.6 278.24 L166.1 278.27 L166.6 278.3 L167.1 278.33 L167.6 278.36 L168.1 278.4 L168.6 278.43 L169.1 278.46 L169.6 278.49 L170.1 278.52 L170.6 278.54 L171.1 278.57 L171.6 278.6 L172.1 278.63 L172.6 278.66 L173.1 278.68 L173.6 278.71 L174.1 278.73 L174.6 278.76 L175.1 278.78 L175.6 278.8 L176.1 278.82 L176.6 278.84 L177.1 278.86 L177.6 278.88 L178.1 278.9 L178.6 278.91 L179.1 278.93 L179.6 278.94 L180.1 278.95 L180.6 278.96 L181.1 278.97 L181.6 278.98 L182.1 278.99 L182.6 278.99 L183.1 279 L183.6 279" fill="none" stroke="#4d4d4d" stroke-width="1.3"/>
<linearGradient id="gd2" gradientUnits="userSpaceOnUse" x1="0" y1="196.48" x2="0" y2="279.8"><stop offset="0" stop-color="#f58a62" stop-opacity="0.58"/><stop offset="0.5" stop-color="#f58a62" stop-opacity="0.24"/><stop offset="1" stop-color="#ffffff" stop-opacity="0.55"/></linearGradient>
<path d="M48.1 279.5 L48.6 279.49 L49.1 279.49 L49.6 279.48 L50.1 279.48 L50.6 279.48 L51.1 279.47 L51.6 279.47 L52.1 279.46 L52.6 279.46 L53.1 279.45 L53.6 279.45 L54.1 279.44 L54.6 279.44 L55.1 279.43 L55.6 279.42 L56.1 279.42 L56.6 279.41 L57.1 279.41 L57.6 279.4 L58.1 279.39 L58.6 279.39 L59.1 279.38 L59.6 279.37 L60.1 279.37 L60.6 279.36 L61.1 279.35 L61.6 279.35 L62.1 279.34 L62.6 279.33 L63.1 279.32 L63.6 279.31 L64.1 279.31 L64.6 279.3 L65.1 279.29 L65.6 279.28 L66.1 279.27 L66.6 279.26 L67.1 279.25 L67.6 279.24 L68.1 279.23 L68.6 279.22 L69.1 279.21 L69.6 279.2 L70.1 279.18 L70.6 279.17 L71.1 279.16 L71.6 279.15 L72.1 279.13 L72.6 279.12 L73.1 279.11 L73.6 279.09 L74.1 279.08 L74.6 279.06 L75.1 279.05 L75.6 279.03 L76.1 279.01 L76.6 278.99 L77.1 278.98 L77.6 278.96 L78.1 278.94 L78.6 278.92 L79.1 278.89 L79.6 278.87 L80.1 278.85 L80.6 278.82 L81.1 278.8 L81.6 278.77 L82.1 278.74 L82.6 278.7 L83.1 278.67 L83.6 278.63 L84.1 278.59 L84.6 278.55 L85.1 278.5 L85.6 278.45 L86.1 278.39 L86.6 278.33 L87.1 278.26 L87.6 278.19 L88.1 278.1 L88.6 278.01 L89.1 277.91 L89.6 277.79 L90.1 277.66 L90.6 277.51 L91.1 277.35 L91.6 277.17 L92.1 276.97 L92.6 276.74 L93.1 276.48 L93.6 276.2 L94.1 275.88 L94.6 275.53 L95.1 275.14 L95.6 274.7 L96.1 274.22 L96.6 273.69 L97.1 273.1 L97.6 272.46 L98.1 271.75 L98.6 270.97 L99.1 270.12 L99.6 269.2 L100.1 268.2 L100.6 267.11 L101.1 265.94 L101.6 264.67 L102.1 263.32 L102.6 261.87 L103.1 260.33 L103.6 258.68 L104.1 256.94 L104.6 255.11 L105.1 253.18 L105.6 251.15 L106.1 249.04 L106.6 246.84 L107.1 244.56 L107.6 242.21 L108.1 239.79 L108.6 237.31 L109.1 234.79 L109.6 232.23 L110.1 229.64 L110.6 227.04 L111.1 224.45 L111.6 221.87 L112.1 219.32 L112.6 216.82 L113.1 214.39 L113.6 212.04 L114.1 209.79 L114.6 207.66 L115.1 205.67 L115.6 203.83 L116.1 202.17 L116.6 200.69 L117.1 199.41 L117.6 198.36 L118.1 197.53 L118.6 196.93 L119.1 196.58 L119.6 196.48 L120.1 196.63 L120.6 197.02 L121.1 197.66 L121.6 198.53 L122.1 199.63 L122.6 200.94 L123.1 202.46 L123.6 204.16 L124.1 206.02 L124.6 208.04 L125.1 210.19 L125.6 212.46 L126.1 214.83 L126.6 217.27 L127.1 219.78 L127.6 222.33 L128.1 224.92 L128.6 227.51 L129.1 230.11 L129.6 232.69 L130.1 235.25 L130.6 237.76 L131.1 240.23 L131.6 242.64 L132.1 244.98 L132.6 247.24 L133.1 249.43 L133.6 251.53 L134.1 253.53 L134.6 255.45 L135.1 257.27 L135.6 258.99 L136.1 260.61 L136.6 262.14 L137.1 263.57 L137.6 264.91 L138.1 266.16 L138.6 267.31 L139.1 268.38 L139.6 269.37 L140.1 270.28 L140.6 271.12 L141.1 271.88 L141.6 272.58 L142.1 273.21 L142.6 273.79 L143.1 274.31 L143.6 274.79 L144.1 275.21 L144.6 275.6 L145.1 275.94 L145.6 276.25 L146.1 276.53 L146.6 276.78 L147.1 277 L147.6 277.2 L148.1 277.38 L148.6 277.54 L149.1 277.68 L149.6 277.81 L150.1 277.93 L150.6 278.03 L151.1 278.12 L151.6 278.2 L152.1 278.28 L152.6 278.34 L153.1 278.41 L153.6 278.46 L154.1 278.51 L154.6 278.56 L155.1 278.6 L155.6 278.64 L156.1 278.68 L156.6 278.71 L157.1 278.74 L157.6 278.77 L158.1 278.8 L158.6 278.83 L159.1 278.85 L159.6 278.88 L160.1 278.9 L160.6 278.92 L161.1 278.94 L161.6 278.96 L162.1 278.98 L162.6 279 L163.1 279.02 L163.6 279.03 L164.1 279.05 L164.6 279.06 L165.1 279.08 L165.6 279.09 L166.1 279.11 L166.6 279.12 L167.1 279.14 L167.6 279.15 L168.1 279.16 L168.6 279.17 L169.1 279.19 L169.6 279.2 L170.1 279.21 L170.6 279.22 L171.1 279.23 L171.6 279.24 L172.1 279.25 L172.6 279.26 L173.1 279.27 L173.6 279.28 L174.1 279.29 L174.6 279.3 L175.1 279.31 L175.6 279.32 L176.1 279.32 L176.6 279.33 L177.1 279.34 L177.6 279.35 L178.1 279.35 L178.6 279.36 L179.1 279.37 L179.6 279.38 L180.1 279.38 L180.6 279.39 L181.1 279.4 L181.6 279.4 L182.1 279.41 L182.6 279.41 L183.1 279.42 L183.6 279.43 L183.6 279.8 L183.1 279.8 L182.6 279.8 L182.1 279.8 L181.6 279.8 L181.1 279.8 L180.6 279.8 L180.1 279.8 L179.6 279.8 L179.1 279.8 L178.6 279.8 L178.1 279.8 L177.6 279.8 L177.1 279.8 L176.6 279.8 L176.1 279.8 L175.6 279.8 L175.1 279.8 L174.6 279.8 L174.1 279.8 L173.6 279.8 L173.1 279.8 L172.6 279.8 L172.1 279.8 L171.6 279.8 L171.1 279.8 L170.6 279.8 L170.1 279.8 L169.6 279.8 L169.1 279.8 L168.6 279.8 L168.1 279.8 L167.6 279.8 L167.1 279.8 L166.6 279.8 L166.1 279.8 L165.6 279.8 L165.1 279.8 L164.6 279.8 L164.1 279.8 L163.6 279.8 L163.1 279.8 L162.6 279.8 L162.1 279.8 L161.6 279.8 L161.1 279.8 L160.6 279.8 L160.1 279.8 L159.6 279.8 L159.1 279.8 L158.6 279.8 L158.1 279.8 L157.6 279.8 L157.1 279.8 L156.6 279.8 L156.1 279.8 L155.6 279.8 L155.1 279.8 L154.6 279.8 L154.1 279.8 L153.6 279.8 L153.1 279.8 L152.6 279.8 L152.1 279.8 L151.6 279.8 L151.1 279.8 L150.6 279.8 L150.1 279.8 L149.6 279.8 L149.1 279.8 L148.6 279.8 L148.1 279.8 L147.6 279.8 L147.1 279.8 L146.6 279.8 L146.1 279.8 L145.6 279.8 L145.1 279.8 L144.6 279.8 L144.1 279.8 L143.6 279.8 L143.1 279.8 L142.6 279.8 L142.1 279.8 L141.6 279.8 L141.1 279.8 L140.6 279.8 L140.1 279.8 L139.6 279.8 L139.1 279.8 L138.6 279.8 L138.1 279.8 L137.6 279.8 L137.1 279.8 L136.6 279.8 L136.1 279.8 L135.6 279.8 L135.1 279.8 L134.6 279.8 L134.1 279.8 L133.6 279.8 L133.1 279.8 L132.6 279.8 L132.1 279.8 L131.6 279.8 L131.1 279.8 L130.6 279.8 L130.1 279.8 L129.6 279.8 L129.1 279.8 L128.6 279.8 L128.1 279.8 L127.6 279.8 L127.1 279.8 L126.6 279.8 L126.1 279.8 L125.6 279.8 L125.1 279.8 L124.6 279.8 L124.1 279.8 L123.6 279.8 L123.1 279.8 L122.6 279.8 L122.1 279.8 L121.6 279.8 L121.1 279.8 L120.6 279.8 L120.1 279.8 L119.6 279.8 L119.1 279.8 L118.6 279.8 L118.1 279.8 L117.6 279.8 L117.1 279.8 L116.6 279.8 L116.1 279.8 L115.6 279.8 L115.1 279.8 L114.6 279.8 L114.1 279.8 L113.6 279.8 L113.1 279.8 L112.6 279.8 L112.1 279.8 L111.6 279.8 L111.1 279.8 L110.6 279.8 L110.1 279.8 L109.6 279.8 L109.1 279.8 L108.6 279.8 L108.1 279.8 L107.6 279.8 L107.1 279.8 L106.6 279.8 L106.1 279.8 L105.6 279.8 L105.1 279.8 L104.6 279.8 L104.1 279.8 L103.6 279.8 L103.1 279.8 L102.6 279.8 L102.1 279.8 L101.6 279.8 L101.1 279.8 L100.6 279.8 L100.1 279.8 L99.6 279.8 L99.1 279.8 L98.6 279.8 L98.1 279.8 L97.6 279.8 L97.1 279.8 L96.6 279.8 L96.1 279.8 L95.6 279.8 L95.1 279.8 L94.6 279.8 L94.1 279.8 L93.6 279.8 L93.1 279.8 L92.6 279.8 L92.1 279.8 L91.6 279.8 L91.1 279.8 L90.6 279.8 L90.1 279.8 L89.6 279.8 L89.1 279.8 L88.6 279.8 L88.1 279.8 L87.6 279.8 L87.1 279.8 L86.6 279.8 L86.1 279.8 L85.6 279.8 L85.1 279.8 L84.6 279.8 L84.1 279.8 L83.6 279.8 L83.1 279.8 L82.6 279.8 L82.1 279.8 L81.6 279.8 L81.1 279.8 L80.6 279.8 L80.1 279.8 L79.6 279.8 L79.1 279.8 L78.6 279.8 L78.1 279.8 L77.6 279.8 L77.1 279.8 L76.6 279.8 L76.1 279.8 L75.6 279.8 L75.1 279.8 L74.6 279.8 L74.1 279.8 L73.6 279.8 L73.1 279.8 L72.6 279.8 L72.1 279.8 L71.6 279.8 L71.1 279.8 L70.6 279.8 L70.1 279.8 L69.6 279.8 L69.1 279.8 L68.6 279.8 L68.1 279.8 L67.6 279.8 L67.1 279.8 L66.6 279.8 L66.1 279.8 L65.6 279.8 L65.1 279.8 L64.6 279.8 L64.1 279.8 L63.6 279.8 L63.1 279.8 L62.6 279.8 L62.1 279.8 L61.6 279.8 L61.1 279.8 L60.6 279.8 L60.1 279.8 L59.6 279.8 L59.1 279.8 L58.6 279.8 L58.1 279.8 L57.6 279.8 L57.1 279.8 L56.6 279.8 L56.1 279.8 L55.6 279.8 L55.1 279.8 L54.6 279.8 L54.1 279.8 L53.6 279.8 L53.1 279.8 L52.6 279.8 L52.1 279.8 L51.6 279.8 L51.1 279.8 L50.6 279.8 L50.1 279.8 L49.6 279.8 L49.1 279.8 L48.6 279.8 L48.1 279.8 Z" fill="url(#gd2)"/>
<path d="M32.1 279.6 L32.6 279.59 L33.1 279.59 L33.6 279.59 L34.1 279.59 L34.6 279.58 L35.1 279.58 L35.6 279.58 L36.1 279.58 L36.6 279.57 L37.1 279.57 L37.6 279.57 L38.1 279.57 L38.6 279.56 L39.1 279.56 L39.6 279.56 L40.1 279.55 L40.6 279.55 L41.1 279.55 L41.6 279.55 L42.1 279.54 L42.6 279.54 L43.1 279.54 L43.6 279.53 L44.1 279.53 L44.6 279.52 L45.1 279.52 L45.6 279.52 L46.1 279.51 L46.6 279.51 L47.1 279.51 L47.6 279.5 L48.1 279.5 L48.6 279.49 L49.1 279.49 L49.6 279.48 L50.1 279.48 L50.6 279.48 L51.1 279.47 L51.6 279.47 L52.1 279.46 L52.6 279.46 L53.1 279.45 L53.6 279.45 L54.1 279.44 L54.6 279.44 L55.1 279.43 L55.6 279.42 L56.1 279.42 L56.6 279.41 L57.1 279.41 L57.6 279.4 L58.1 279.39 L58.6 279.39 L59.1 279.38 L59.6 279.37 L60.1 279.37 L60.6 279.36 L61.1 279.35 L61.6 279.35 L62.1 279.34 L62.6 279.33 L63.1 279.32 L63.6 279.31 L64.1 279.31 L64.6 279.3 L65.1 279.29 L65.6 279.28 L66.1 279.27 L66.6 279.26 L67.1 279.25 L67.6 279.24 L68.1 279.23 L68.6 279.22 L69.1 279.21 L69.6 279.2 L70.1 279.18 L70.6 279.17 L71.1 279.16 L71.6 279.15 L72.1 279.13 L72.6 279.12 L73.1 279.11 L73.6 279.09 L74.1 279.08 L74.6 279.06 L75.1 279.05 L75.6 279.03 L76.1 279.01 L76.6 278.99 L77.1 278.98 L77.6 278.96 L78.1 278.94 L78.6 278.92 L79.1 278.89 L79.6 278.87 L80.1 278.85 L80.6 278.82 L81.1 278.8 L81.6 278.77 L82.1 278.74 L82.6 278.7 L83.1 278.67 L83.6 278.63 L84.1 278.59 L84.6 278.55 L85.1 278.5 L85.6 278.45 L86.1 278.39 L86.6 278.33 L87.1 278.26 L87.6 278.19 L88.1 278.1 L88.6 278.01 L89.1 277.91 L89.6 277.79 L90.1 277.66 L90.6 277.51 L91.1 277.35 L91.6 277.17 L92.1 276.97 L92.6 276.74 L93.1 276.48 L93.6 276.2 L94.1 275.88 L94.6 275.53 L95.1 275.14 L95.6 274.7 L96.1 274.22 L96.6 273.69 L97.1 273.1 L97.6 272.46 L98.1 271.75 L98.6 270.97 L99.1 270.12 L99.6 269.2 L100.1 268.2 L100.6 267.11 L101.1 265.94 L101.6 264.67 L102.1 263.32 L102.6 261.87 L103.1 260.33 L103.6 258.68 L104.1 256.94 L104.6 255.11 L105.1 253.18 L105.6 251.15 L106.1 249.04 L106.6 246.84 L107.1 244.56 L107.6 242.21 L108.1 239.79 L108.6 237.31 L109.1 234.79 L109.6 232.23 L110.1 229.64 L110.6 227.04 L111.1 224.45 L111.6 221.87 L112.1 219.32 L112.6 216.82 L113.1 214.39 L113.6 212.04 L114.1 209.79 L114.6 207.66 L115.1 205.67 L115.6 203.83 L116.1 202.17 L116.6 200.69 L117.1 199.41 L117.6 198.36 L118.1 197.53 L118.6 196.93 L119.1 196.58 L119.6 196.48 L120.1 196.63 L120.6 197.02 L121.1 197.66 L121.6 198.53 L122.1 199.63 L122.6 200.94 L123.1 202.46 L123.6 204.16 L124.1 206.02 L124.6 208.04 L125.1 210.19 L125.6 212.46 L126.1 214.83 L126.6 217.27 L127.1 219.78 L127.6 222.33 L128.1 224.92 L128.6 227.51 L129.1 230.11 L129.6 232.69 L130.1 235.25 L130.6 237.76 L131.1 240.23 L131.6 242.64 L132.1 244.98 L132.6 247.24 L133.1 249.43 L133.6 251.53 L134.1 253.53 L134.6 255.45 L135.1 257.27 L135.6 258.99 L136.1 260.61 L136.6 262.14 L137.1 263.57 L137.6 264.91 L138.1 266.16 L138.6 267.31 L139.1 268.38 L139.6 269.37 L140.1 270.28 L140.6 271.12 L141.1 271.88 L141.6 272.58 L142.1 273.21 L142.6 273.79 L143.1 274.31 L143.6 274.79 L144.1 275.21 L144.6 275.6 L145.1 275.94 L145.6 276.25 L146.1 276.53 L146.6 276.78 L147.1 277 L147.6 277.2 L148.1 277.38 L148.6 277.54 L149.1 277.68 L149.6 277.81 L150.1 277.93 L150.6 278.03 L151.1 278.12 L151.6 278.2 L152.1 278.28 L152.6 278.34 L153.1 278.41 L153.6 278.46 L154.1 278.51 L154.6 278.56 L155.1 278.6 L155.6 278.64 L156.1 278.68 L156.6 278.71 L157.1 278.74 L157.6 278.77 L158.1 278.8 L158.6 278.83 L159.1 278.85 L159.6 278.88 L160.1 278.9 L160.6 278.92 L161.1 278.94 L161.6 278.96 L162.1 278.98 L162.6 279 L163.1 279.02 L163.6 279.03 L164.1 279.05 L164.6 279.06 L165.1 279.08 L165.6 279.09 L166.1 279.11 L166.6 279.12 L167.1 279.14 L167.6 279.15 L168.1 279.16 L168.6 279.17 L169.1 279.19 L169.6 279.2 L170.1 279.21 L170.6 279.22 L171.1 279.23 L171.6 279.24 L172.1 279.25 L172.6 279.26 L173.1 279.27 L173.6 279.28 L174.1 279.29 L174.6 279.3 L175.1 279.31 L175.6 279.32 L176.1 279.32 L176.6 279.33 L177.1 279.34 L177.6 279.35 L178.1 279.35 L178.6 279.36 L179.1 279.37 L179.6 279.38 L180.1 279.38 L180.6 279.39 L181.1 279.4 L181.6 279.4 L182.1 279.41 L182.6 279.41 L183.1 279.42 L183.6 279.43" fill="none" stroke="#f36d1e" stroke-width="1.35"/>
<linearGradient id="gd0" gradientUnits="userSpaceOnUse" x1="0" y1="253.39" x2="0" y2="281"><stop offset="0" stop-color="#7cc65e" stop-opacity="0.58"/><stop offset="0.5" stop-color="#7cc65e" stop-opacity="0.24"/><stop offset="1" stop-color="#ffffff" stop-opacity="0.55"/></linearGradient>
<path d="M44.1 280.69 L44.6 280.65 L45.1 280.6 L45.6 280.56 L46.1 280.5 L46.6 280.44 L47.1 280.38 L47.6 280.31 L48.1 280.23 L48.6 280.15 L49.1 280.06 L49.6 279.96 L50.1 279.85 L50.6 279.73 L51.1 279.6 L51.6 279.46 L52.1 279.31 L52.6 279.15 L53.1 278.97 L53.6 278.78 L54.1 278.58 L54.6 278.36 L55.1 278.13 L55.6 277.88 L56.1 277.62 L56.6 277.34 L57.1 277.04 L57.6 276.73 L58.1 276.39 L58.6 276.04 L59.1 275.67 L59.6 275.28 L60.1 274.88 L60.6 274.45 L61.1 274.01 L61.6 273.54 L62.1 273.06 L62.6 272.56 L63.1 272.04 L63.6 271.5 L64.1 270.95 L64.6 270.38 L65.1 269.8 L65.6 269.2 L66.1 268.59 L66.6 267.97 L67.1 267.34 L67.6 266.7 L68.1 266.05 L68.6 265.4 L69.1 264.74 L69.6 264.09 L70.1 263.43 L70.6 262.77 L71.1 262.13 L71.6 261.48 L72.1 260.85 L72.6 260.23 L73.1 259.62 L73.6 259.03 L74.1 258.46 L74.6 257.9 L75.1 257.37 L75.6 256.87 L76.1 256.39 L76.6 255.94 L77.1 255.52 L77.6 255.14 L78.1 254.79 L78.6 254.48 L79.1 254.2 L79.6 253.96 L80.1 253.76 L80.6 253.61 L81.1 253.49 L81.6 253.42 L82.1 253.39 L82.6 253.4 L83.1 253.45 L83.6 253.55 L84.1 253.69 L84.6 253.87 L85.1 254.08 L85.6 254.34 L86.1 254.64 L86.6 254.97 L87.1 255.34 L87.6 255.74 L88.1 256.18 L88.6 256.64 L89.1 257.14 L89.6 257.65 L90.1 258.2 L90.6 258.76 L91.1 259.34 L91.6 259.95 L92.1 260.56 L92.6 261.19 L93.1 261.83 L93.6 262.47 L94.1 263.13 L94.6 263.78 L95.1 264.44 L95.6 265.1 L96.1 265.75 L96.6 266.4 L97.1 267.04 L97.6 267.68 L98.1 268.3 L98.6 268.92 L99.1 269.52 L99.6 270.11 L100.1 270.69 L100.6 271.25 L101.1 271.79 L101.6 272.32 L102.1 272.83 L102.6 273.32 L103.1 273.79 L103.6 274.25 L104.1 274.68 L104.6 275.1 L105.1 275.5 L105.6 275.87 L106.1 276.23 L106.6 276.58 L107.1 276.9 L107.6 277.2 L108.1 277.49 L108.6 277.76 L109.1 278.02 L109.6 278.26 L110.1 278.48 L110.6 278.69 L111.1 278.89 L111.6 279.07 L112.1 279.24 L112.6 279.39 L113.1 279.54 L113.6 279.67 L114.1 279.79 L114.6 279.91 L115.1 280.01 L115.6 280.11 L116.1 280.2 L116.6 280.28 L117.1 280.35 L117.6 280.42 L118.1 280.48 L118.6 280.53 L119.1 280.58 L119.6 280.63 L120.1 280.67 L120.1 281 L119.6 281 L119.1 281 L118.6 281 L118.1 281 L117.6 281 L117.1 281 L116.6 281 L116.1 281 L115.6 281 L115.1 281 L114.6 281 L114.1 281 L113.6 281 L113.1 281 L112.6 281 L112.1 281 L111.6 281 L111.1 281 L110.6 281 L110.1 281 L109.6 281 L109.1 281 L108.6 281 L108.1 281 L107.6 281 L107.1 281 L106.6 281 L106.1 281 L105.6 281 L105.1 281 L104.6 281 L104.1 281 L103.6 281 L103.1 281 L102.6 281 L102.1 281 L101.6 281 L101.1 281 L100.6 281 L100.1 281 L99.6 281 L99.1 281 L98.6 281 L98.1 281 L97.6 281 L97.1 281 L96.6 281 L96.1 281 L95.6 281 L95.1 281 L94.6 281 L94.1 281 L93.6 281 L93.1 281 L92.6 281 L92.1 281 L91.6 281 L91.1 281 L90.6 281 L90.1 281 L89.6 281 L89.1 281 L88.6 281 L88.1 281 L87.6 281 L87.1 281 L86.6 281 L86.1 281 L85.6 281 L85.1 281 L84.6 281 L84.1 281 L83.6 281 L83.1 281 L82.6 281 L82.1 281 L81.6 281 L81.1 281 L80.6 281 L80.1 281 L79.6 281 L79.1 281 L78.6 281 L78.1 281 L77.6 281 L77.1 281 L76.6 281 L76.1 281 L75.6 281 L75.1 281 L74.6 281 L74.1 281 L73.6 281 L73.1 281 L72.6 281 L72.1 281 L71.6 281 L71.1 281 L70.6 281 L70.1 281 L69.6 281 L69.1 281 L68.6 281 L68.1 281 L67.6 281 L67.1 281 L66.6 281 L66.1 281 L65.6 281 L65.1 281 L64.6 281 L64.1 281 L63.6 281 L63.1 281 L62.6 281 L62.1 281 L61.6 281 L61.1 281 L60.6 281 L60.1 281 L59.6 281 L59.1 281 L58.6 281 L58.1 281 L57.6 281 L57.1 281 L56.6 281 L56.1 281 L55.6 281 L55.1 281 L54.6 281 L54.1 281 L53.6 281 L53.1 281 L52.6 281 L52.1 281 L51.6 281 L51.1 281 L50.6 281 L50.1 281 L49.6 281 L49.1 281 L48.6 281 L48.1 281 L47.6 281 L47.1 281 L46.6 281 L46.1 281 L45.6 281 L45.1 281 L44.6 281 L44.1 281 Z" fill="url(#gd0)"/>
<path d="M32.1 280.99 L32.6 280.99 L33.1 280.98 L33.6 280.98 L34.1 280.98 L34.6 280.97 L35.1 280.97 L35.6 280.97 L36.1 280.96 L36.6 280.95 L37.1 280.95 L37.6 280.94 L38.1 280.93 L38.6 280.92 L39.1 280.91 L39.6 280.9 L40.1 280.88 L40.6 280.87 L41.1 280.85 L41.6 280.83 L42.1 280.81 L42.6 280.78 L43.1 280.75 L43.6 280.72 L44.1 280.69 L44.6 280.65 L45.1 280.6 L45.6 280.56 L46.1 280.5 L46.6 280.44 L47.1 280.38 L47.6 280.31 L48.1 280.23 L48.6 280.15 L49.1 280.06 L49.6 279.96 L50.1 279.85 L50.6 279.73 L51.1 279.6 L51.6 279.46 L52.1 279.31 L52.6 279.15 L53.1 278.97 L53.6 278.78 L54.1 278.58 L54.6 278.36 L55.1 278.13 L55.6 277.88 L56.1 277.62 L56.6 277.34 L57.1 277.04 L57.6 276.73 L58.1 276.39 L58.6 276.04 L59.1 275.67 L59.6 275.28 L60.1 274.88 L60.6 274.45 L61.1 274.01 L61.6 273.54 L62.1 273.06 L62.6 272.56 L63.1 272.04 L63.6 271.5 L64.1 270.95 L64.6 270.38 L65.1 269.8 L65.6 269.2 L66.1 268.59 L66.6 267.97 L67.1 267.34 L67.6 266.7 L68.1 266.05 L68.6 265.4 L69.1 264.74 L69.6 264.09 L70.1 263.43 L70.6 262.77 L71.1 262.13 L71.6 261.48 L72.1 260.85 L72.6 260.23 L73.1 259.62 L73.6 259.03 L74.1 258.46 L74.6 257.9 L75.1 257.37 L75.6 256.87 L76.1 256.39 L76.6 255.94 L77.1 255.52 L77.6 255.14 L78.1 254.79 L78.6 254.48 L79.1 254.2 L79.6 253.96 L80.1 253.76 L80.6 253.61 L81.1 253.49 L81.6 253.42 L82.1 253.39 L82.6 253.4 L83.1 253.45 L83.6 253.55 L84.1 253.69 L84.6 253.87 L85.1 254.08 L85.6 254.34 L86.1 254.64 L86.6 254.97 L87.1 255.34 L87.6 255.74 L88.1 256.18 L88.6 256.64 L89.1 257.14 L89.6 257.65 L90.1 258.2 L90.6 258.76 L91.1 259.34 L91.6 259.95 L92.1 260.56 L92.6 261.19 L93.1 261.83 L93.6 262.47 L94.1 263.13 L94.6 263.78 L95.1 264.44 L95.6 265.1 L96.1 265.75 L96.6 266.4 L97.1 267.04 L97.6 267.68 L98.1 268.3 L98.6 268.92 L99.1 269.52 L99.6 270.11 L100.1 270.69 L100.6 271.25 L101.1 271.79 L101.6 272.32 L102.1 272.83 L102.6 273.32 L103.1 273.79 L103.6 274.25 L104.1 274.68 L104.6 275.1 L105.1 275.5 L105.6 275.87 L106.1 276.23 L106.6 276.58 L107.1 276.9 L107.6 277.2 L108.1 277.49 L108.6 277.76 L109.1 278.02 L109.6 278.26 L110.1 278.48 L110.6 278.69 L111.1 278.89 L111.6 279.07 L112.1 279.24 L112.6 279.39 L113.1 279.54 L113.6 279.67 L114.1 279.79 L114.6 279.91 L115.1 280.01 L115.6 280.11 L116.1 280.2 L116.6 280.28 L117.1 280.35 L117.6 280.42 L118.1 280.48 L118.6 280.53 L119.1 280.58 L119.6 280.63 L120.1 280.67 L120.6 280.7 L121.1 280.74 L121.6 280.77 L122.1 280.79 L122.6 280.82 L123.1 280.84 L123.6 280.86 L124.1 280.88 L124.6 280.89 L125.1 280.9 L125.6 280.92 L126.1 280.93 L126.6 280.94 L127.1 280.94 L127.6 280.95 L128.1 280.96 L128.6 280.96 L129.1 280.97 L129.6 280.97 L130.1 280.98 L130.6 280.98 L131.1 280.98 L131.6 280.98 L132.1 280.99 L132.6 280.99 L133.1 280.99 L133.6 280.99 L134.1 280.99 L134.6 280.99 L135.1 280.99 L135.6 281 L136.1 281 L136.6 281 L137.1 281 L137.6 281 L138.1 281 L138.6 281 L139.1 281 L139.6 281 L140.1 281 L140.6 281 L141.1 281 L141.6 281 L142.1 281 L142.6 281 L143.1 281 L143.6 281 L144.1 281 L144.6 281 L145.1 281 L145.6 281 L146.1 281 L146.6 281 L147.1 281 L147.6 281 L148.1 281 L148.6 281 L149.1 281 L149.6 281 L150.1 281 L150.6 281 L151.1 281 L151.6 281 L152.1 281 L152.6 281 L153.1 281 L153.6 281 L154.1 281 L154.6 281 L155.1 281 L155.6 281 L156.1 281 L156.6 281 L157.1 281 L157.6 281 L158.1 281 L158.6 281 L159.1 281 L159.6 281 L160.1 281 L160.6 281 L161.1 281 L161.6 281 L162.1 281 L162.6 281 L163.1 281 L163.6 281 L164.1 281 L164.6 281 L165.1 281 L165.6 281 L166.1 281 L166.6 281 L167.1 281 L167.6 281 L168.1 281 L168.6 281 L169.1 281 L169.6 281 L170.1 281 L170.6 281 L171.1 281 L171.6 281 L172.1 281 L172.6 281 L173.1 281 L173.6 281 L174.1 281 L174.6 281 L175.1 281 L175.6 281 L176.1 281 L176.6 281 L177.1 281 L177.6 281 L178.1 281 L178.6 281 L179.1 281 L179.6 281 L180.1 281 L180.6 281 L181.1 281 L181.6 281 L182.1 281 L182.6 281 L183.1 281 L183.6 281" fill="none" stroke="#3bb52c" stroke-width="1.35"/>
<linearGradient id="gd1" gradientUnits="userSpaceOnUse" x1="0" y1="245.99" x2="0" y2="279.8"><stop offset="0" stop-color="#6d9fd0" stop-opacity="0.58"/><stop offset="0.5" stop-color="#6d9fd0" stop-opacity="0.24"/><stop offset="1" stop-color="#ffffff" stop-opacity="0.55"/></linearGradient>
<path d="M32.1 278.85 L32.6 278.84 L33.1 278.82 L33.6 278.81 L34.1 278.8 L34.6 278.78 L35.1 278.77 L35.6 278.75 L36.1 278.74 L36.6 278.72 L37.1 278.71 L37.6 278.69 L38.1 278.68 L38.6 278.66 L39.1 278.64 L39.6 278.63 L40.1 278.61 L40.6 278.59 L41.1 278.57 L41.6 278.55 L42.1 278.54 L42.6 278.52 L43.1 278.5 L43.6 278.48 L44.1 278.45 L44.6 278.43 L45.1 278.41 L45.6 278.39 L46.1 278.37 L46.6 278.34 L47.1 278.32 L47.6 278.29 L48.1 278.27 L48.6 278.24 L49.1 278.21 L49.6 278.19 L50.1 278.16 L50.6 278.13 L51.1 278.1 L51.6 278.07 L52.1 278.04 L52.6 278 L53.1 277.97 L53.6 277.94 L54.1 277.9 L54.6 277.86 L55.1 277.83 L55.6 277.79 L56.1 277.75 L56.6 277.7 L57.1 277.66 L57.6 277.62 L58.1 277.57 L58.6 277.52 L59.1 277.47 L59.6 277.42 L60.1 277.37 L60.6 277.31 L61.1 277.25 L61.6 277.19 L62.1 277.13 L62.6 277.06 L63.1 276.99 L63.6 276.92 L64.1 276.84 L64.6 276.77 L65.1 276.68 L65.6 276.6 L66.1 276.51 L66.6 276.41 L67.1 276.31 L67.6 276.21 L68.1 276.1 L68.6 275.98 L69.1 275.86 L69.6 275.73 L70.1 275.59 L70.6 275.45 L71.1 275.3 L71.6 275.15 L72.1 274.98 L72.6 274.81 L73.1 274.63 L73.6 274.44 L74.1 274.24 L74.6 274.02 L75.1 273.8 L75.6 273.57 L76.1 273.32 L76.6 273.07 L77.1 272.8 L77.6 272.52 L78.1 272.22 L78.6 271.91 L79.1 271.59 L79.6 271.25 L80.1 270.9 L80.6 270.53 L81.1 270.15 L81.6 269.75 L82.1 269.33 L82.6 268.9 L83.1 268.46 L83.6 267.99 L84.1 267.51 L84.6 267.01 L85.1 266.5 L85.6 265.97 L86.1 265.42 L86.6 264.85 L87.1 264.27 L87.6 263.68 L88.1 263.07 L88.6 262.44 L89.1 261.8 L89.6 261.15 L90.1 260.48 L90.6 259.8 L91.1 259.12 L91.6 258.42 L92.1 257.72 L92.6 257.01 L93.1 256.3 L93.6 255.59 L94.1 254.88 L94.6 254.17 L95.1 253.47 L95.6 252.78 L96.1 252.1 L96.6 251.44 L97.1 250.8 L97.6 250.18 L98.1 249.59 L98.6 249.03 L99.1 248.51 L99.6 248.02 L100.1 247.58 L100.6 247.19 L101.1 246.85 L101.6 246.56 L102.1 246.33 L102.6 246.15 L103.1 246.04 L103.6 245.99 L104.1 246 L104.6 246.07 L105.1 246.21 L105.6 246.4 L106.1 246.65 L106.6 246.96 L107.1 247.32 L107.6 247.73 L108.1 248.18 L108.6 248.68 L109.1 249.22 L109.6 249.79 L110.1 250.39 L110.6 251.01 L111.1 251.66 L111.6 252.33 L112.1 253.01 L112.6 253.71 L113.1 254.41 L113.6 255.12 L114.1 255.83 L114.6 256.54 L115.1 257.25 L115.6 257.96 L116.1 258.66 L116.6 259.35 L117.1 260.04 L117.6 260.71 L118.1 261.37 L118.6 262.02 L119.1 262.65 L119.6 263.28 L120.1 263.88 L120.6 264.47 L121.1 265.05 L121.6 265.61 L122.1 266.15 L122.6 266.67 L123.1 267.18 L123.6 267.68 L124.1 268.15 L124.6 268.61 L125.1 269.05 L125.6 269.48 L126.1 269.89 L126.6 270.28 L127.1 270.66 L127.6 271.02 L128.1 271.37 L128.6 271.7 L129.1 272.02 L129.6 272.32 L130.1 272.61 L130.6 272.89 L131.1 273.16 L131.6 273.41 L132.1 273.65 L132.6 273.88 L133.1 274.1 L133.6 274.31 L134.1 274.5 L134.6 274.69 L135.1 274.87 L135.6 275.04 L136.1 275.2 L136.6 275.36 L137.1 275.5 L137.6 275.64 L138.1 275.77 L138.6 275.9 L139.1 276.02 L139.6 276.13 L140.1 276.24 L140.6 276.35 L141.1 276.44 L141.6 276.54 L142.1 276.63 L142.6 276.71 L143.1 276.79 L143.6 276.87 L144.1 276.95 L144.6 277.02 L145.1 277.08 L145.6 277.15 L146.1 277.21 L146.6 277.27 L147.1 277.33 L147.6 277.39 L148.1 277.44 L148.6 277.49 L149.1 277.54 L149.6 277.59 L150.1 277.63 L150.6 277.68 L151.1 277.72 L151.6 277.76 L152.1 277.8 L152.6 277.84 L153.1 277.88 L153.6 277.91 L154.1 277.95 L154.6 277.98 L155.1 278.02 L155.6 278.05 L156.1 278.08 L156.6 278.11 L157.1 278.14 L157.6 278.17 L158.1 278.2 L158.6 278.22 L159.1 278.25 L159.6 278.28 L160.1 278.3 L160.6 278.33 L161.1 278.35 L161.6 278.37 L162.1 278.4 L162.6 278.42 L163.1 278.44 L163.6 278.46 L164.1 278.48 L164.6 278.5 L165.1 278.52 L165.6 278.54 L166.1 278.56 L166.6 278.58 L167.1 278.6 L167.6 278.62 L168.1 278.63 L168.6 278.65 L169.1 278.67 L169.6 278.68 L170.1 278.7 L170.6 278.71 L171.1 278.73 L171.6 278.74 L172.1 278.76 L172.6 278.77 L173.1 278.79 L173.6 278.8 L174.1 278.81 L174.6 278.83 L175.1 278.84 L175.6 278.85 L176.1 278.87 L176.6 278.88 L177.1 278.89 L177.6 278.9 L178.1 278.91 L178.6 278.92 L179.1 278.94 L179.6 278.95 L180.1 278.96 L180.6 278.97 L181.1 278.98 L181.6 278.99 L182.1 279 L182.6 279.01 L183.1 279.02 L183.6 279.03 L183.6 279.8 L183.1 279.8 L182.6 279.8 L182.1 279.8 L181.6 279.8 L181.1 279.8 L180.6 279.8 L180.1 279.8 L179.6 279.8 L179.1 279.8 L178.6 279.8 L178.1 279.8 L177.6 279.8 L177.1 279.8 L176.6 279.8 L176.1 279.8 L175.6 279.8 L175.1 279.8 L174.6 279.8 L174.1 279.8 L173.6 279.8 L173.1 279.8 L172.6 279.8 L172.1 279.8 L171.6 279.8 L171.1 279.8 L170.6 279.8 L170.1 279.8 L169.6 279.8 L169.1 279.8 L168.6 279.8 L168.1 279.8 L167.6 279.8 L167.1 279.8 L166.6 279.8 L166.1 279.8 L165.6 279.8 L165.1 279.8 L164.6 279.8 L164.1 279.8 L163.6 279.8 L163.1 279.8 L162.6 279.8 L162.1 279.8 L161.6 279.8 L161.1 279.8 L160.6 279.8 L160.1 279.8 L159.6 279.8 L159.1 279.8 L158.6 279.8 L158.1 279.8 L157.6 279.8 L157.1 279.8 L156.6 279.8 L156.1 279.8 L155.6 279.8 L155.1 279.8 L154.6 279.8 L154.1 279.8 L153.6 279.8 L153.1 279.8 L152.6 279.8 L152.1 279.8 L151.6 279.8 L151.1 279.8 L150.6 279.8 L150.1 279.8 L149.6 279.8 L149.1 279.8 L148.6 279.8 L148.1 279.8 L147.6 279.8 L147.1 279.8 L146.6 279.8 L146.1 279.8 L145.6 279.8 L145.1 279.8 L144.6 279.8 L144.1 279.8 L143.6 279.8 L143.1 279.8 L142.6 279.8 L142.1 279.8 L141.6 279.8 L141.1 279.8 L140.6 279.8 L140.1 279.8 L139.6 279.8 L139.1 279.8 L138.6 279.8 L138.1 279.8 L137.6 279.8 L137.1 279.8 L136.6 279.8 L136.1 279.8 L135.6 279.8 L135.1 279.8 L134.6 279.8 L134.1 279.8 L133.6 279.8 L133.1 279.8 L132.6 279.8 L132.1 279.8 L131.6 279.8 L131.1 279.8 L130.6 279.8 L130.1 279.8 L129.6 279.8 L129.1 279.8 L128.6 279.8 L128.1 279.8 L127.6 279.8 L127.1 279.8 L126.6 279.8 L126.1 279.8 L125.6 279.8 L125.1 279.8 L124.6 279.8 L124.1 279.8 L123.6 279.8 L123.1 279.8 L122.6 279.8 L122.1 279.8 L121.6 279.8 L121.1 279.8 L120.6 279.8 L120.1 279.8 L119.6 279.8 L119.1 279.8 L118.6 279.8 L118.1 279.8 L117.6 279.8 L117.1 279.8 L116.6 279.8 L116.1 279.8 L115.6 279.8 L115.1 279.8 L114.6 279.8 L114.1 279.8 L113.6 279.8 L113.1 279.8 L112.6 279.8 L112.1 279.8 L111.6 279.8 L111.1 279.8 L110.6 279.8 L110.1 279.8 L109.6 279.8 L109.1 279.8 L108.6 279.8 L108.1 279.8 L107.6 279.8 L107.1 279.8 L106.6 279.8 L106.1 279.8 L105.6 279.8 L105.1 279.8 L104.6 279.8 L104.1 279.8 L103.6 279.8 L103.1 279.8 L102.6 279.8 L102.1 279.8 L101.6 279.8 L101.1 279.8 L100.6 279.8 L100.1 279.8 L99.6 279.8 L99.1 279.8 L98.6 279.8 L98.1 279.8 L97.6 279.8 L97.1 279.8 L96.6 279.8 L96.1 279.8 L95.6 279.8 L95.1 279.8 L94.6 279.8 L94.1 279.8 L93.6 279.8 L93.1 279.8 L92.6 279.8 L92.1 279.8 L91.6 279.8 L91.1 279.8 L90.6 279.8 L90.1 279.8 L89.6 279.8 L89.1 279.8 L88.6 279.8 L88.1 279.8 L87.6 279.8 L87.1 279.8 L86.6 279.8 L86.1 279.8 L85.6 279.8 L85.1 279.8 L84.6 279.8 L84.1 279.8 L83.6 279.8 L83.1 279.8 L82.6 279.8 L82.1 279.8 L81.6 279.8 L81.1 279.8 L80.6 279.8 L80.1 279.8 L79.6 279.8 L79.1 279.8 L78.6 279.8 L78.1 279.8 L77.6 279.8 L77.1 279.8 L76.6 279.8 L76.1 279.8 L75.6 279.8 L75.1 279.8 L74.6 279.8 L74.1 279.8 L73.6 279.8 L73.1 279.8 L72.6 279.8 L72.1 279.8 L71.6 279.8 L71.1 279.8 L70.6 279.8 L70.1 279.8 L69.6 279.8 L69.1 279.8 L68.6 279.8 L68.1 279.8 L67.6 279.8 L67.1 279.8 L66.6 279.8 L66.1 279.8 L65.6 279.8 L65.1 279.8 L64.6 279.8 L64.1 279.8 L63.6 279.8 L63.1 279.8 L62.6 279.8 L62.1 279.8 L61.6 279.8 L61.1 279.8 L60.6 279.8 L60.1 279.8 L59.6 279.8 L59.1 279.8 L58.6 279.8 L58.1 279.8 L57.6 279.8 L57.1 279.8 L56.6 279.8 L56.1 279.8 L55.6 279.8 L55.1 279.8 L54.6 279.8 L54.1 279.8 L53.6 279.8 L53.1 279.8 L52.6 279.8 L52.1 279.8 L51.6 279.8 L51.1 279.8 L50.6 279.8 L50.1 279.8 L49.6 279.8 L49.1 279.8 L48.6 279.8 L48.1 279.8 L47.6 279.8 L47.1 279.8 L46.6 279.8 L46.1 279.8 L45.6 279.8 L45.1 279.8 L44.6 279.8 L44.1 279.8 L43.6 279.8 L43.1 279.8 L42.6 279.8 L42.1 279.8 L41.6 279.8 L41.1 279.8 L40.6 279.8 L40.1 279.8 L39.6 279.8 L39.1 279.8 L38.6 279.8 L38.1 279.8 L37.6 279.8 L37.1 279.8 L36.6 279.8 L36.1 279.8 L35.6 279.8 L35.1 279.8 L34.6 279.8 L34.1 279.8 L33.6 279.8 L33.1 279.8 L32.6 279.8 L32.1 279.8 Z" fill="url(#gd1)"/>
<path d="M32.1 278.85 L32.6 278.84 L33.1 278.82 L33.6 278.81 L34.1 278.8 L34.6 278.78 L35.1 278.77 L35.6 278.75 L36.1 278.74 L36.6 278.72 L37.1 278.71 L37.6 278.69 L38.1 278.68 L38.6 278.66 L39.1 278.64 L39.6 278.63 L40.1 278.61 L40.6 278.59 L41.1 278.57 L41.6 278.55 L42.1 278.54 L42.6 278.52 L43.1 278.5 L43.6 278.48 L44.1 278.45 L44.6 278.43 L45.1 278.41 L45.6 278.39 L46.1 278.37 L46.6 278.34 L47.1 278.32 L47.6 278.29 L48.1 278.27 L48.6 278.24 L49.1 278.21 L49.6 278.19 L50.1 278.16 L50.6 278.13 L51.1 278.1 L51.6 278.07 L52.1 278.04 L52.6 278 L53.1 277.97 L53.6 277.94 L54.1 277.9 L54.6 277.86 L55.1 277.83 L55.6 277.79 L56.1 277.75 L56.6 277.7 L57.1 277.66 L57.6 277.62 L58.1 277.57 L58.6 277.52 L59.1 277.47 L59.6 277.42 L60.1 277.37 L60.6 277.31 L61.1 277.25 L61.6 277.19 L62.1 277.13 L62.6 277.06 L63.1 276.99 L63.6 276.92 L64.1 276.84 L64.6 276.77 L65.1 276.68 L65.6 276.6 L66.1 276.51 L66.6 276.41 L67.1 276.31 L67.6 276.21 L68.1 276.1 L68.6 275.98 L69.1 275.86 L69.6 275.73 L70.1 275.59 L70.6 275.45 L71.1 275.3 L71.6 275.15 L72.1 274.98 L72.6 274.81 L73.1 274.63 L73.6 274.44 L74.1 274.24 L74.6 274.02 L75.1 273.8 L75.6 273.57 L76.1 273.32 L76.6 273.07 L77.1 272.8 L77.6 272.52 L78.1 272.22 L78.6 271.91 L79.1 271.59 L79.6 271.25 L80.1 270.9 L80.6 270.53 L81.1 270.15 L81.6 269.75 L82.1 269.33 L82.6 268.9 L83.1 268.46 L83.6 267.99 L84.1 267.51 L84.6 267.01 L85.1 266.5 L85.6 265.97 L86.1 265.42 L86.6 264.85 L87.1 264.27 L87.6 263.68 L88.1 263.07 L88.6 262.44 L89.1 261.8 L89.6 261.15 L90.1 260.48 L90.6 259.8 L91.1 259.12 L91.6 258.42 L92.1 257.72 L92.6 257.01 L93.1 256.3 L93.6 255.59 L94.1 254.88 L94.6 254.17 L95.1 253.47 L95.6 252.78 L96.1 252.1 L96.6 251.44 L97.1 250.8 L97.6 250.18 L98.1 249.59 L98.6 249.03 L99.1 248.51 L99.6 248.02 L100.1 247.58 L100.6 247.19 L101.1 246.85 L101.6 246.56 L102.1 246.33 L102.6 246.15 L103.1 246.04 L103.6 245.99 L104.1 246 L104.6 246.07 L105.1 246.21 L105.6 246.4 L106.1 246.65 L106.6 246.96 L107.1 247.32 L107.6 247.73 L108.1 248.18 L108.6 248.68 L109.1 249.22 L109.6 249.79 L110.1 250.39 L110.6 251.01 L111.1 251.66 L111.6 252.33 L112.1 253.01 L112.6 253.71 L113.1 254.41 L113.6 255.12 L114.1 255.83 L114.6 256.54 L115.1 257.25 L115.6 257.96 L116.1 258.66 L116.6 259.35 L117.1 260.04 L117.6 260.71 L118.1 261.37 L118.6 262.02 L119.1 262.65 L119.6 263.28 L120.1 263.88 L120.6 264.47 L121.1 265.05 L121.6 265.61 L122.1 266.15 L122.6 266.67 L123.1 267.18 L123.6 267.68 L124.1 268.15 L124.6 268.61 L125.1 269.05 L125.6 269.48 L126.1 269.89 L126.6 270.28 L127.1 270.66 L127.6 271.02 L128.1 271.37 L128.6 271.7 L129.1 272.02 L129.6 272.32 L130.1 272.61 L130.6 272.89 L131.1 273.16 L131.6 273.41 L132.1 273.65 L132.6 273.88 L133.1 274.1 L133.6 274.31 L134.1 274.5 L134.6 274.69 L135.1 274.87 L135.6 275.04 L136.1 275.2 L136.6 275.36 L137.1 275.5 L137.6 275.64 L138.1 275.77 L138.6 275.9 L139.1 276.02 L139.6 276.13 L140.1 276.24 L140.6 276.35 L141.1 276.44 L141.6 276.54 L142.1 276.63 L142.6 276.71 L143.1 276.79 L143.6 276.87 L144.1 276.95 L144.6 277.02 L145.1 277.08 L145.6 277.15 L146.1 277.21 L146.6 277.27 L147.1 277.33 L147.6 277.39 L148.1 277.44 L148.6 277.49 L149.1 277.54 L149.6 277.59 L150.1 277.63 L150.6 277.68 L151.1 277.72 L151.6 277.76 L152.1 277.8 L152.6 277.84 L153.1 277.88 L153.6 277.91 L154.1 277.95 L154.6 277.98 L155.1 278.02 L155.6 278.05 L156.1 278.08 L156.6 278.11 L157.1 278.14 L157.6 278.17 L158.1 278.2 L158.6 278.22 L159.1 278.25 L159.6 278.28 L160.1 278.3 L160.6 278.33 L161.1 278.35 L161.6 278.37 L162.1 278.4 L162.6 278.42 L163.1 278.44 L163.6 278.46 L164.1 278.48 L164.6 278.5 L165.1 278.52 L165.6 278.54 L166.1 278.56 L166.6 278.58 L167.1 278.6 L167.6 278.62 L168.1 278.63 L168.6 278.65 L169.1 278.67 L169.6 278.68 L170.1 278.7 L170.6 278.71 L171.1 278.73 L171.6 278.74 L172.1 278.76 L172.6 278.77 L173.1 278.79 L173.6 278.8 L174.1 278.81 L174.6 278.83 L175.1 278.84 L175.6 278.85 L176.1 278.87 L176.6 278.88 L177.1 278.89 L177.6 278.9 L178.1 278.91 L178.6 278.92 L179.1 278.94 L179.6 278.95 L180.1 278.96 L180.6 278.97 L181.1 278.98 L181.6 278.99 L182.1 279 L182.6 279.01 L183.1 279.02 L183.6 279.03" fill="none" stroke="#3a8fd3" stroke-width="1.35"/>
<circle cx="134.8" cy="170.6" r="1.2" fill="#c4c4c4"/>
<text x="144.8" y="173" font-size="7.6" fill="#222" stroke="#222" stroke-width="0" text-anchor="start" textLength="37.9" lengthAdjust="spacingAndGlyphs">Raw Intensity</text>
<line x1="127" y1="178.8" x2="142.8" y2="178.8" stroke="#555" stroke-width="1.6"/>
<text x="144.8" y="181.4" font-size="7.6" fill="#222" stroke="#222" stroke-width="0" text-anchor="start" textLength="27.4" lengthAdjust="spacingAndGlyphs">Peak Sum</text>
<line x1="127" y1="187.4" x2="142.8" y2="187.4" stroke="#ff1aff" stroke-width="1.6"/>
<text x="144.8" y="189.9" font-size="7.6" fill="#222" stroke="#222" stroke-width="0" text-anchor="start" textLength="33.4" lengthAdjust="spacingAndGlyphs">Background</text>
<text x="52.4" y="241.6" font-size="8" fill="#3bb52c" stroke="#3bb52c" stroke-width="0.12" text-anchor="start" >N&#8211;H</text>
<line x1="61" y1="243.4" x2="73.51" y2="266.43" stroke="#3bb52c" stroke-width="0.65"/>
<path d="M74.8 268.8 L72.13 266.61 L74.41 265.37 Z" fill="#3bb52c"/>
<text x="62.2" y="221.4" font-size="8" fill="#3a8fd3" stroke="#3a8fd3" stroke-width="0.12" text-anchor="start" >NH&#8211;C=O</text>
<line x1="88.6" y1="223.6" x2="100.24" y2="254.28" stroke="#3a8fd3" stroke-width="0.65"/>
<path d="M101.2 256.8 L98.85 254.27 L101.28 253.35 Z" fill="#3a8fd3"/>
<text x="136.3" y="205.4" font-size="8" fill="#f36d1e" stroke="#f36d1e" stroke-width="0.12" text-anchor="start" >N&#8211;Si</text>
<line x1="145.1" y1="209.8" x2="122.94" y2="226.76" stroke="#f36d1e" stroke-width="0.65"/>
<path d="M120.8 228.4 L122.55 225.42 L124.13 227.49 Z" fill="#f36d1e"/>
<rect x="31.5" y="166" width="152.8" height="123.2" fill="none" stroke="#858585" stroke-width="1.3"/>
<line x1="169.1" y1="289.2" x2="169.1" y2="291.6" stroke="#858585" stroke-width="0.9"/>
<line x1="151.9" y1="289.2" x2="151.9" y2="290.6" stroke="#858585" stroke-width="0.9"/>
<line x1="134.7" y1="289.2" x2="134.7" y2="291.6" stroke="#858585" stroke-width="0.9"/>
<line x1="117.5" y1="289.2" x2="117.5" y2="290.6" stroke="#858585" stroke-width="0.9"/>
<line x1="100.3" y1="289.2" x2="100.3" y2="291.6" stroke="#858585" stroke-width="0.9"/>
<line x1="83.1" y1="289.2" x2="83.1" y2="290.6" stroke="#858585" stroke-width="0.9"/>
<line x1="65.9" y1="289.2" x2="65.9" y2="291.6" stroke="#858585" stroke-width="0.9"/>
<line x1="48.7" y1="289.2" x2="48.7" y2="290.6" stroke="#858585" stroke-width="0.9"/>
<text x="31.5" y="299.6" font-size="8" fill="#222" stroke="#222" stroke-width="0.12" text-anchor="middle" >404</text>
<text x="65.9" y="299.6" font-size="8" fill="#222" stroke="#222" stroke-width="0.12" text-anchor="middle" >402</text>
<text x="100.3" y="299.6" font-size="8" fill="#222" stroke="#222" stroke-width="0.12" text-anchor="middle" >400</text>
<text x="134.7" y="299.6" font-size="8" fill="#222" stroke="#222" stroke-width="0.12" text-anchor="middle" >398</text>
<text x="169.1" y="299.6" font-size="8" fill="#222" stroke="#222" stroke-width="0.12" text-anchor="middle" >396</text>
<text x="107.9" y="307.1" font-size="8" fill="#222" stroke="#222" stroke-width="0.12" text-anchor="middle" >Binding Energy (eV)</text>
<text x="0" y="0" font-size="8" fill="#222" stroke="#222" stroke-width="0.12" text-anchor="middle" transform="translate(26.7 227.6) rotate(-90)">Intensity (a.u.)</text>
<text x="4.9" y="173.7" font-size="10.6" fill="#1a1a1a" stroke="#1a1a1a" stroke-width="0.2" text-anchor="start" >(d)</text>
<text x="32.5" y="173.7" font-size="7.8" fill="#222" stroke="#222" stroke-width="0.12" text-anchor="start" >N 1s</text>
<path d="M213 280.6 L213.5 280.6 L214 280.6 L214.5 280.6 L215 280.6 L215.5 280.6 L216 280.6 L216.5 280.6 L217 280.6 L217.5 280.6 L218 280.6 L218.5 280.6 L219 280.6 L219.5 280.6 L220 280.6 L220.5 280.6 L221 280.6 L221.5 280.6 L222 280.6 L222.5 280.6 L223 280.6 L223.5 280.6 L224 280.6 L224.5 280.6 L225 280.6 L225.5 280.6 L226 280.6 L226.5 280.6 L227 280.6 L227.5 280.6 L228 280.6 L228.5 280.6 L229 280.6 L229.5 280.6 L230 280.6 L230.5 280.6 L231 280.6 L231.5 280.6 L232 280.6 L232.5 280.6 L233 280.6 L233.5 280.6 L234 280.6 L234.5 280.6 L235 280.6 L235.5 280.6 L236 280.6 L236.5 280.6 L237 280.6 L237.5 280.6 L238 280.6 L238.5 280.6 L239 280.6 L239.5 280.6 L240 280.6 L240.5 280.6 L241 280.6 L241.5 280.6 L242 280.6 L242.5 280.6 L243 280.6 L243.5 280.6 L244 280.6 L244.5 280.6 L245 280.6 L245.5 280.6 L246 280.6 L246.5 280.6 L247 280.6 L247.5 280.6 L248 280.6 L248.5 280.6 L249 280.6 L249.5 280.6 L250 280.6 L250.5 280.6 L251 280.6 L251.5 280.6 L252 280.6 L252.5 280.6 L253 280.6 L253.5 280.6 L254 280.6 L254.5 280.6 L255 280.6 L255.5 280.6 L256 280.6 L256.5 280.6 L257 280.6 L257.5 280.6 L258 280.6 L258.5 280.6 L259 280.6 L259.5 280.6 L260 280.6 L260.5 280.6 L261 280.6 L261.5 280.6 L262 280.6 L262.5 280.6 L263 280.6 L263.5 280.6 L264 280.6 L264.5 280.6 L265 280.6 L265.5 280.6 L266 280.6 L266.5 280.6 L267 280.6 L267.5 280.6 L268 280.6 L268.5 280.6 L269 280.6 L269.5 280.6 L270 280.6 L270.5 280.6 L271 280.6 L271.5 280.6 L272 280.6 L272.5 280.6 L273 280.6 L273.5 280.6 L274 280.6 L274.5 280.6 L275 280.6 L275.5 280.6 L276 280.6 L276.5 280.6 L277 280.6 L277.5 280.6 L278 280.6 L278.5 280.6 L279 280.6 L279.5 280.6 L280 280.6 L280.5 280.6 L281 280.6 L281.5 280.6 L282 280.6 L282.5 280.6 L283 280.6 L283.5 280.6 L284 280.6 L284.5 280.6 L285 280.6 L285.5 280.6 L286 280.6 L286.5 280.6 L287 280.6 L287.5 280.6 L288 280.6 L288.5 280.6 L289 280.6 L289.5 280.6 L290 280.6 L290.5 280.6 L291 280.6 L291.5 280.6 L292 280.6 L292.5 280.6 L293 280.6 L293.5 280.6 L294 280.6 L294.5 280.6 L295 280.6 L295.5 280.6 L296 280.6 L296.5 280.6 L297 280.6 L297.5 280.6 L298 280.6 L298.5 280.6 L299 280.6 L299.5 280.6 L300 280.6 L300.5 280.6 L301 280.6 L301.5 280.6 L302 280.6 L302.5 280.6 L303 280.6 L303.5 280.6 L304 280.6 L304.5 280.6 L305 280.6 L305.5 280.6 L306 280.6 L306.5 280.6 L307 280.6 L307.5 280.6 L308 280.6 L308.5 280.6 L309 280.6 L309.5 280.6 L310 280.6 L310.5 280.6 L311 280.6 L311.5 280.6 L312 280.6 L312.5 280.6 L313 280.6 L313.5 280.6 L314 280.6 L314.5 280.6 L315 280.6 L315.5 280.6 L316 280.6 L316.5 280.6 L317 280.6 L317.5 280.6 L318 280.6 L318.5 280.6 L319 280.6 L319.5 280.6 L320 280.6 L320.5 280.6 L321 280.6 L321.5 280.6 L322 280.6 L322.5 280.6 L323 280.6 L323.5 280.6 L324 280.6 L324.5 280.6 L325 280.6 L325.5 280.6 L326 280.6 L326.5 280.6 L327 280.6 L327.5 280.6 L328 280.6 L328.5 280.6 L329 280.6 L329.5 280.6 L330 280.6 L330.5 280.6 L331 280.6 L331.5 280.6 L332 280.6 L332.5 280.6 L333 280.6 L333.5 280.6 L334 280.6 L334.5 280.6 L335 280.6 L335.5 280.6 L336 280.6 L336.5 280.6 L337 280.6 L337.5 280.6 L338 280.6 L338.5 280.6 L339 280.6 L339.5 280.6 L340 280.6 L340.5 280.6 L341 280.6 L341.5 280.6 L342 280.6 L342.5 280.6 L343 280.6 L343.5 280.6 L344 280.6 L344.5 280.6 L345 280.6 L345.5 280.6 L346 280.6 L346.5 280.6 L347 280.6 L347.5 280.6 L348 280.6 L348.5 280.6 L349 280.6 L349.5 280.6 L350 280.6 L350.5 280.6 L351 280.6 L351.5 280.6 L352 280.6 L352.5 280.6 L353 280.6 L353.5 280.6 L354 280.6 L354.5 280.6 L355 280.6 L355.5 280.6 L356 280.6 L356.5 280.6 L357 280.6 L357.5 280.6 L358 280.6 L358.5 280.6 L359 280.6 L359.5 280.6 L360 280.6 L360.5 280.6 L361 280.6 L361.5 280.6 L362 280.6 L362.5 280.6 L363 280.6 L363.5 280.6 L364 280.6" fill="none" stroke="#ff1aff" stroke-width="1.5"/>
<circle cx="213.01" cy="277.95" r="1.3" fill="#cdcdcd"/>
<circle cx="215.55" cy="275.38" r="1.3" fill="#cdcdcd"/>
<circle cx="217.34" cy="274.89" r="1.3" fill="#cdcdcd"/>
<circle cx="218.57" cy="275.02" r="1.3" fill="#cdcdcd"/>
<circle cx="220.74" cy="274.4" r="1.3" fill="#cdcdcd"/>
<circle cx="222.65" cy="274.23" r="1.3" fill="#cdcdcd"/>
<circle cx="225.24" cy="276.24" r="1.3" fill="#cdcdcd"/>
<circle cx="227.04" cy="273.46" r="1.3" fill="#cdcdcd"/>
<circle cx="228.68" cy="273.15" r="1.3" fill="#cdcdcd"/>
<circle cx="231.58" cy="273.89" r="1.3" fill="#cdcdcd"/>
<circle cx="232.6" cy="273.6" r="1.3" fill="#cdcdcd"/>
<circle cx="234.7" cy="273.16" r="1.3" fill="#cdcdcd"/>
<circle cx="236.96" cy="272.31" r="1.3" fill="#cdcdcd"/>
<circle cx="239.37" cy="270.89" r="1.3" fill="#cdcdcd"/>
<circle cx="240.59" cy="269.64" r="1.3" fill="#cdcdcd"/>
<circle cx="243.08" cy="267.77" r="1.3" fill="#cdcdcd"/>
<circle cx="245.42" cy="268.03" r="1.3" fill="#cdcdcd"/>
<circle cx="246.55" cy="267.01" r="1.3" fill="#cdcdcd"/>
<circle cx="249.3" cy="265" r="1.3" fill="#cdcdcd"/>
<circle cx="251.02" cy="263.05" r="1.3" fill="#cdcdcd"/>
<circle cx="252.52" cy="259.72" r="1.3" fill="#cdcdcd"/>
<circle cx="255.37" cy="258.26" r="1.3" fill="#cdcdcd"/>
<circle cx="257.08" cy="256.03" r="1.3" fill="#cdcdcd"/>
<circle cx="259.46" cy="252.94" r="1.3" fill="#cdcdcd"/>
<circle cx="260.94" cy="249.25" r="1.3" fill="#cdcdcd"/>
<circle cx="262.68" cy="245.84" r="1.3" fill="#cdcdcd"/>
<circle cx="265.13" cy="237" r="1.3" fill="#cdcdcd"/>
<circle cx="267.3" cy="233.62" r="1.3" fill="#cdcdcd"/>
<circle cx="269.51" cy="226.31" r="1.3" fill="#cdcdcd"/>
<circle cx="271.16" cy="219.04" r="1.3" fill="#cdcdcd"/>
<circle cx="273.36" cy="207.09" r="1.3" fill="#cdcdcd"/>
<circle cx="275.44" cy="199.69" r="1.3" fill="#cdcdcd"/>
<circle cx="276.93" cy="189.77" r="1.3" fill="#cdcdcd"/>
<circle cx="279.04" cy="183.67" r="1.3" fill="#cdcdcd"/>
<circle cx="281.39" cy="180.48" r="1.3" fill="#cdcdcd"/>
<circle cx="283.29" cy="178.82" r="1.3" fill="#cdcdcd"/>
<circle cx="284.73" cy="180.04" r="1.3" fill="#cdcdcd"/>
<circle cx="287.58" cy="179.34" r="1.3" fill="#cdcdcd"/>
<circle cx="289.51" cy="180.68" r="1.3" fill="#cdcdcd"/>
<circle cx="290.88" cy="183.72" r="1.3" fill="#cdcdcd"/>
<circle cx="293.14" cy="186.99" r="1.3" fill="#cdcdcd"/>
<circle cx="294.7" cy="191.49" r="1.3" fill="#cdcdcd"/>
<circle cx="296.96" cy="195.66" r="1.3" fill="#cdcdcd"/>
<circle cx="299.05" cy="199.26" r="1.3" fill="#cdcdcd"/>
<circle cx="301" cy="205.5" r="1.3" fill="#cdcdcd"/>
<circle cx="303.27" cy="208.01" r="1.3" fill="#cdcdcd"/>
<circle cx="304.98" cy="210.22" r="1.3" fill="#cdcdcd"/>
<circle cx="307.46" cy="216.49" r="1.3" fill="#cdcdcd"/>
<circle cx="309.3" cy="220.51" r="1.3" fill="#cdcdcd"/>
<circle cx="310.6" cy="223.79" r="1.3" fill="#cdcdcd"/>
<circle cx="312.57" cy="228.58" r="1.3" fill="#cdcdcd"/>
<circle cx="314.86" cy="236.57" r="1.3" fill="#cdcdcd"/>
<circle cx="317.36" cy="244.51" r="1.3" fill="#cdcdcd"/>
<circle cx="318.69" cy="250.04" r="1.3" fill="#cdcdcd"/>
<circle cx="321.49" cy="254.25" r="1.3" fill="#cdcdcd"/>
<circle cx="323.34" cy="259.92" r="1.3" fill="#cdcdcd"/>
<circle cx="325.02" cy="262.25" r="1.3" fill="#cdcdcd"/>
<circle cx="326.63" cy="268.37" r="1.3" fill="#cdcdcd"/>
<circle cx="329.22" cy="270.77" r="1.3" fill="#cdcdcd"/>
<circle cx="330.77" cy="274.02" r="1.3" fill="#cdcdcd"/>
<circle cx="333.25" cy="275.92" r="1.3" fill="#cdcdcd"/>
<circle cx="335.17" cy="276.65" r="1.3" fill="#cdcdcd"/>
<circle cx="336.98" cy="276.89" r="1.3" fill="#cdcdcd"/>
<circle cx="339.14" cy="278.17" r="1.3" fill="#cdcdcd"/>
<circle cx="340.67" cy="277.82" r="1.3" fill="#cdcdcd"/>
<circle cx="342.51" cy="279.02" r="1.3" fill="#cdcdcd"/>
<circle cx="344.57" cy="278.72" r="1.3" fill="#cdcdcd"/>
<circle cx="347.58" cy="280.11" r="1.3" fill="#cdcdcd"/>
<circle cx="349.28" cy="280.01" r="1.3" fill="#cdcdcd"/>
<circle cx="351.24" cy="280.61" r="1.3" fill="#cdcdcd"/>
<circle cx="352.61" cy="279.75" r="1.3" fill="#cdcdcd"/>
<circle cx="354.88" cy="279.08" r="1.3" fill="#cdcdcd"/>
<circle cx="357.55" cy="280.55" r="1.3" fill="#cdcdcd"/>
<circle cx="358.76" cy="279.85" r="1.3" fill="#cdcdcd"/>
<circle cx="361.23" cy="279.96" r="1.3" fill="#cdcdcd"/>
<circle cx="362.85" cy="278.49" r="1.3" fill="#cdcdcd"/>
<path d="M213 276.97 L213.5 276.94 L214 276.9 L214.5 276.86 L215 276.81 L215.5 276.77 L216 276.72 L216.5 276.67 L217 276.62 L217.5 276.56 L218 276.5 L218.5 276.45 L219 276.39 L219.5 276.32 L220 276.26 L220.5 276.2 L221 276.12 L221.5 276.05 L222 275.97 L222.5 275.89 L223 275.81 L223.5 275.72 L224 275.63 L224.5 275.54 L225 275.45 L225.5 275.36 L226 275.26 L226.5 275.16 L227 275.06 L227.5 274.96 L228 274.86 L228.5 274.76 L229 274.65 L229.5 274.55 L230 274.44 L230.5 274.33 L231 274.21 L231.5 274.1 L232 273.97 L232.5 273.84 L233 273.71 L233.5 273.57 L234 273.42 L234.5 273.26 L235 273.1 L235.5 272.92 L236 272.72 L236.5 272.5 L237 272.26 L237.5 272.01 L238 271.75 L238.5 271.48 L239 271.2 L239.5 270.92 L240 270.63 L240.5 270.35 L241 270.07 L241.5 269.79 L242 269.51 L242.5 269.23 L243 268.95 L243.5 268.67 L244 268.38 L244.5 268.08 L245 267.78 L245.5 267.47 L246 267.15 L246.5 266.83 L247 266.49 L247.5 266.14 L248 265.78 L248.5 265.41 L249 265.03 L249.5 264.64 L250 264.23 L250.5 263.8 L251 263.36 L251.5 262.9 L252 262.42 L252.5 261.91 L253 261.38 L253.5 260.8 L254 260.18 L254.5 259.51 L255 258.82 L255.5 258.11 L256 257.38 L256.5 256.65 L257 255.91 L257.5 255.14 L258 254.35 L258.5 253.54 L259 252.73 L259.5 251.9 L260 251.07 L260.5 250.28 L261 249.47 L261.5 248.6 L262 247.6 L262.5 246.41 L263 245.04 L263.5 243.52 L264 241.92 L264.5 240.26 L265 238.61 L265.5 237 L266 235.46 L266.5 233.94 L267 232.44 L267.5 230.92 L268 229.38 L268.5 227.77 L269 226.09 L269.5 224.3 L270 222.4 L270.5 220.28 L271 217.86 L271.5 215.29 L272 212.69 L272.5 210.2 L273 207.82 L273.5 205.45 L274 203.11 L274.5 200.85 L275 198.67 L275.5 196.48 L276 194.31 L276.5 192.26 L277 190.44 L277.5 188.92 L278 187.52 L278.5 186.21 L279 185.01 L279.5 183.95 L280 183.04 L280.5 182.3 L281 181.66 L281.5 181.03 L282 180.45 L282.5 179.95 L283 179.55 L283.5 179.29 L284 179.2 L284.5 179.24 L285 179.33 L285.5 179.48 L286 179.66 L286.5 179.87 L287 180.1 L287.5 180.42 L288 180.85 L288.5 181.35 L289 181.91 L289.5 182.5 L290 183.1 L290.5 183.74 L291 184.44 L291.5 185.2 L292 186.01 L292.5 186.85 L293 187.72 L293.5 188.61 L294 189.5 L294.5 190.41 L295 191.34 L295.5 192.31 L296 193.3 L296.5 194.32 L297 195.36 L297.5 196.42 L298 197.5 L298.5 198.63 L299 199.84 L299.5 201.09 L300 202.35 L300.5 203.61 L301 204.82 L301.5 205.96 L302 207 L302.5 207.94 L303 208.81 L303.5 209.62 L304 210.4 L304.5 211.16 L305 211.92 L305.5 212.71 L306 213.54 L306.5 214.42 L307 215.38 L307.5 216.39 L308 217.43 L308.5 218.52 L309 219.64 L309.5 220.81 L310 222.01 L310.5 223.25 L311 224.53 L311.5 225.88 L312 227.28 L312.5 228.73 L313 230.22 L313.5 231.75 L314 233.32 L314.5 234.98 L315 236.75 L315.5 238.56 L316 240.35 L316.5 242.08 L317 243.7 L317.5 245.17 L318 246.58 L318.5 247.93 L319 249.23 L319.5 250.5 L320 251.75 L320.5 253 L321 254.21 L321.5 255.39 L322 256.56 L322.5 257.71 L323 258.85 L323.5 260 L324 261.19 L324.5 262.42 L325 263.69 L325.5 264.95 L326 266.17 L326.5 267.33 L327 268.39 L327.5 269.32 L328 270.1 L328.5 270.77 L329 271.39 L329.5 271.98 L330 272.53 L330.5 273.04 L331 273.51 L331.5 273.96 L332 274.37 L332.5 274.76 L333 275.13 L333.5 275.47 L334 275.8 L334.5 276.12 L335 276.44 L335.5 276.74 L336 277.02 L336.5 277.28 L337 277.52 L337.5 277.73 L338 277.91 L338.5 278.05 L339 278.16 L339.5 278.27 L340 278.36 L340.5 278.45 L341 278.54 L341.5 278.61 L342 278.69 L342.5 278.75 L343 278.82 L343.5 278.87 L344 278.93 L344.5 278.98 L345 279.03 L345.5 279.08 L346 279.12 L346.5 279.16 L347 279.2 L347.5 279.24 L348 279.28 L348.5 279.32 L349 279.35 L349.5 279.39 L350 279.43 L350.5 279.47 L351 279.5 L351.5 279.54 L352 279.57 L352.5 279.61 L353 279.64 L353.5 279.68 L354 279.71 L354.5 279.74 L355 279.77 L355.5 279.8 L356 279.83 L356.5 279.86 L357 279.88 L357.5 279.91 L358 279.93 L358.5 279.96 L359 279.98 L359.5 280 L360 280.01 L360.5 280.03 L361 280.05 L361.5 280.06 L362 280.07 L362.5 280.08 L363 280.09 L363.5 280.09 L364 280.1" fill="none" stroke="#4d4d4d" stroke-width="1.3"/>
<linearGradient id="ge2" gradientUnits="userSpaceOnUse" x1="0" y1="219.31" x2="0" y2="280"><stop offset="0" stop-color="#f58a62" stop-opacity="0.58"/><stop offset="0.5" stop-color="#f58a62" stop-opacity="0.24"/><stop offset="1" stop-color="#ffffff" stop-opacity="0.55"/></linearGradient>
<path d="M254 279.68 L254.5 279.64 L255 279.6 L255.5 279.55 L256 279.5 L256.5 279.44 L257 279.38 L257.5 279.31 L258 279.23 L258.5 279.15 L259 279.06 L259.5 278.96 L260 278.85 L260.5 278.73 L261 278.61 L261.5 278.47 L262 278.31 L262.5 278.15 L263 277.97 L263.5 277.78 L264 277.57 L264.5 277.35 L265 277.1 L265.5 276.85 L266 276.57 L266.5 276.27 L267 275.95 L267.5 275.61 L268 275.24 L268.5 274.85 L269 274.44 L269.5 274 L270 273.54 L270.5 273.04 L271 272.52 L271.5 271.97 L272 271.39 L272.5 270.78 L273 270.14 L273.5 269.46 L274 268.75 L274.5 268.01 L275 267.24 L275.5 266.43 L276 265.59 L276.5 264.72 L277 263.81 L277.5 262.88 L278 261.91 L278.5 260.9 L279 259.87 L279.5 258.81 L280 257.72 L280.5 256.6 L281 255.45 L281.5 254.28 L282 253.09 L282.5 251.88 L283 250.65 L283.5 249.4 L284 248.14 L284.5 246.86 L285 245.58 L285.5 244.3 L286 243.01 L286.5 241.72 L287 240.43 L287.5 239.15 L288 237.88 L288.5 236.63 L289 235.39 L289.5 234.18 L290 232.99 L290.5 231.82 L291 230.69 L291.5 229.6 L292 228.54 L292.5 227.53 L293 226.56 L293.5 225.64 L294 224.77 L294.5 223.96 L295 223.2 L295.5 222.51 L296 221.87 L296.5 221.31 L297 220.81 L297.5 220.38 L298 220.02 L298.5 219.73 L299 219.51 L299.5 219.37 L300 219.31 L300.5 219.31 L301 219.4 L301.5 219.55 L302 219.78 L302.5 220.08 L303 220.46 L303.5 220.9 L304 221.41 L304.5 221.99 L305 222.64 L305.5 223.35 L306 224.11 L306.5 224.94 L307 225.82 L307.5 226.75 L308 227.72 L308.5 228.75 L309 229.81 L309.5 230.92 L310 232.05 L310.5 233.22 L311 234.42 L311.5 235.64 L312 236.88 L312.5 238.14 L313 239.41 L313.5 240.69 L314 241.97 L314.5 243.26 L315 244.55 L315.5 245.84 L316 247.12 L316.5 248.39 L317 249.65 L317.5 250.89 L318 252.12 L318.5 253.33 L319 254.52 L319.5 255.68 L320 256.82 L320.5 257.94 L321 259.02 L321.5 260.08 L322 261.11 L322.5 262.1 L323 263.07 L323.5 264 L324 264.9 L324.5 265.76 L325 266.6 L325.5 267.4 L326 268.16 L326.5 268.9 L327 269.6 L327.5 270.27 L328 270.9 L328.5 271.51 L329 272.08 L329.5 272.63 L330 273.14 L330.5 273.63 L331 274.09 L331.5 274.53 L332 274.93 L332.5 275.32 L333 275.68 L333.5 276.01 L334 276.33 L334.5 276.62 L335 276.9 L335.5 277.15 L336 277.39 L336.5 277.61 L337 277.82 L337.5 278.01 L338 278.18 L338.5 278.35 L339 278.5 L339.5 278.63 L340 278.76 L340.5 278.88 L341 278.98 L341.5 279.08 L342 279.17 L342.5 279.25 L343 279.32 L343.5 279.39 L344 279.45 L344.5 279.51 L345 279.56 L345.5 279.61 L346 279.65 L346.5 279.69 L346.5 280 L346 280 L345.5 280 L345 280 L344.5 280 L344 280 L343.5 280 L343 280 L342.5 280 L342 280 L341.5 280 L341 280 L340.5 280 L340 280 L339.5 280 L339 280 L338.5 280 L338 280 L337.5 280 L337 280 L336.5 280 L336 280 L335.5 280 L335 280 L334.5 280 L334 280 L333.5 280 L333 280 L332.5 280 L332 280 L331.5 280 L331 280 L330.5 280 L330 280 L329.5 280 L329 280 L328.5 280 L328 280 L327.5 280 L327 280 L326.5 280 L326 280 L325.5 280 L325 280 L324.5 280 L324 280 L323.5 280 L323 280 L322.5 280 L322 280 L321.5 280 L321 280 L320.5 280 L320 280 L319.5 280 L319 280 L318.5 280 L318 280 L317.5 280 L317 280 L316.5 280 L316 280 L315.5 280 L315 280 L314.5 280 L314 280 L313.5 280 L313 280 L312.5 280 L312 280 L311.5 280 L311 280 L310.5 280 L310 280 L309.5 280 L309 280 L308.5 280 L308 280 L307.5 280 L307 280 L306.5 280 L306 280 L305.5 280 L305 280 L304.5 280 L304 280 L303.5 280 L303 280 L302.5 280 L302 280 L301.5 280 L301 280 L300.5 280 L300 280 L299.5 280 L299 280 L298.5 280 L298 280 L297.5 280 L297 280 L296.5 280 L296 280 L295.5 280 L295 280 L294.5 280 L294 280 L293.5 280 L293 280 L292.5 280 L292 280 L291.5 280 L291 280 L290.5 280 L290 280 L289.5 280 L289 280 L288.5 280 L288 280 L287.5 280 L287 280 L286.5 280 L286 280 L285.5 280 L285 280 L284.5 280 L284 280 L283.5 280 L283 280 L282.5 280 L282 280 L281.5 280 L281 280 L280.5 280 L280 280 L279.5 280 L279 280 L278.5 280 L278 280 L277.5 280 L277 280 L276.5 280 L276 280 L275.5 280 L275 280 L274.5 280 L274 280 L273.5 280 L273 280 L272.5 280 L272 280 L271.5 280 L271 280 L270.5 280 L270 280 L269.5 280 L269 280 L268.5 280 L268 280 L267.5 280 L267 280 L266.5 280 L266 280 L265.5 280 L265 280 L264.5 280 L264 280 L263.5 280 L263 280 L262.5 280 L262 280 L261.5 280 L261 280 L260.5 280 L260 280 L259.5 280 L259 280 L258.5 280 L258 280 L257.5 280 L257 280 L256.5 280 L256 280 L255.5 280 L255 280 L254.5 280 L254 280 Z" fill="url(#ge2)"/>
<path d="M213 280 L213.5 280 L214 280 L214.5 280 L215 280 L215.5 280 L216 280 L216.5 280 L217 280 L217.5 280 L218 280 L218.5 280 L219 280 L219.5 280 L220 280 L220.5 280 L221 280 L221.5 280 L222 280 L222.5 280 L223 280 L223.5 280 L224 280 L224.5 280 L225 280 L225.5 280 L226 280 L226.5 280 L227 280 L227.5 280 L228 280 L228.5 280 L229 280 L229.5 280 L230 280 L230.5 280 L231 280 L231.5 280 L232 280 L232.5 280 L233 280 L233.5 280 L234 280 L234.5 280 L235 280 L235.5 280 L236 280 L236.5 280 L237 280 L237.5 280 L238 280 L238.5 279.99 L239 279.99 L239.5 279.99 L240 279.99 L240.5 279.99 L241 279.99 L241.5 279.99 L242 279.99 L242.5 279.98 L243 279.98 L243.5 279.98 L244 279.97 L244.5 279.97 L245 279.97 L245.5 279.96 L246 279.96 L246.5 279.95 L247 279.94 L247.5 279.93 L248 279.92 L248.5 279.91 L249 279.9 L249.5 279.89 L250 279.88 L250.5 279.86 L251 279.84 L251.5 279.82 L252 279.8 L252.5 279.77 L253 279.74 L253.5 279.71 L254 279.68 L254.5 279.64 L255 279.6 L255.5 279.55 L256 279.5 L256.5 279.44 L257 279.38 L257.5 279.31 L258 279.23 L258.5 279.15 L259 279.06 L259.5 278.96 L260 278.85 L260.5 278.73 L261 278.61 L261.5 278.47 L262 278.31 L262.5 278.15 L263 277.97 L263.5 277.78 L264 277.57 L264.5 277.35 L265 277.1 L265.5 276.85 L266 276.57 L266.5 276.27 L267 275.95 L267.5 275.61 L268 275.24 L268.5 274.85 L269 274.44 L269.5 274 L270 273.54 L270.5 273.04 L271 272.52 L271.5 271.97 L272 271.39 L272.5 270.78 L273 270.14 L273.5 269.46 L274 268.75 L274.5 268.01 L275 267.24 L275.5 266.43 L276 265.59 L276.5 264.72 L277 263.81 L277.5 262.88 L278 261.91 L278.5 260.9 L279 259.87 L279.5 258.81 L280 257.72 L280.5 256.6 L281 255.45 L281.5 254.28 L282 253.09 L282.5 251.88 L283 250.65 L283.5 249.4 L284 248.14 L284.5 246.86 L285 245.58 L285.5 244.3 L286 243.01 L286.5 241.72 L287 240.43 L287.5 239.15 L288 237.88 L288.5 236.63 L289 235.39 L289.5 234.18 L290 232.99 L290.5 231.82 L291 230.69 L291.5 229.6 L292 228.54 L292.5 227.53 L293 226.56 L293.5 225.64 L294 224.77 L294.5 223.96 L295 223.2 L295.5 222.51 L296 221.87 L296.5 221.31 L297 220.81 L297.5 220.38 L298 220.02 L298.5 219.73 L299 219.51 L299.5 219.37 L300 219.31 L300.5 219.31 L301 219.4 L301.5 219.55 L302 219.78 L302.5 220.08 L303 220.46 L303.5 220.9 L304 221.41 L304.5 221.99 L305 222.64 L305.5 223.35 L306 224.11 L306.5 224.94 L307 225.82 L307.5 226.75 L308 227.72 L308.5 228.75 L309 229.81 L309.5 230.92 L310 232.05 L310.5 233.22 L311 234.42 L311.5 235.64 L312 236.88 L312.5 238.14 L313 239.41 L313.5 240.69 L314 241.97 L314.5 243.26 L315 244.55 L315.5 245.84 L316 247.12 L316.5 248.39 L317 249.65 L317.5 250.89 L318 252.12 L318.5 253.33 L319 254.52 L319.5 255.68 L320 256.82 L320.5 257.94 L321 259.02 L321.5 260.08 L322 261.11 L322.5 262.1 L323 263.07 L323.5 264 L324 264.9 L324.5 265.76 L325 266.6 L325.5 267.4 L326 268.16 L326.5 268.9 L327 269.6 L327.5 270.27 L328 270.9 L328.5 271.51 L329 272.08 L329.5 272.63 L330 273.14 L330.5 273.63 L331 274.09 L331.5 274.53 L332 274.93 L332.5 275.32 L333 275.68 L333.5 276.01 L334 276.33 L334.5 276.62 L335 276.9 L335.5 277.15 L336 277.39 L336.5 277.61 L337 277.82 L337.5 278.01 L338 278.18 L338.5 278.35 L339 278.5 L339.5 278.63 L340 278.76 L340.5 278.88 L341 278.98 L341.5 279.08 L342 279.17 L342.5 279.25 L343 279.32 L343.5 279.39 L344 279.45 L344.5 279.51 L345 279.56 L345.5 279.61 L346 279.65 L346.5 279.69 L347 279.72 L347.5 279.75 L348 279.78 L348.5 279.8 L349 279.82 L349.5 279.84 L350 279.86 L350.5 279.88 L351 279.89 L351.5 279.91 L352 279.92 L352.5 279.93 L353 279.94 L353.5 279.94 L354 279.95 L354.5 279.96 L355 279.96 L355.5 279.97 L356 279.97 L356.5 279.97 L357 279.98 L357.5 279.98 L358 279.98 L358.5 279.99 L359 279.99 L359.5 279.99 L360 279.99 L360.5 279.99 L361 279.99 L361.5 279.99 L362 279.99 L362.5 280 L363 280 L363.5 280 L364 280" fill="none" stroke="#f36d1e" stroke-width="1.35"/>
<linearGradient id="ge1" gradientUnits="userSpaceOnUse" x1="0" y1="216.41" x2="0" y2="279"><stop offset="0" stop-color="#6d9fd0" stop-opacity="0.58"/><stop offset="0.5" stop-color="#6d9fd0" stop-opacity="0.24"/><stop offset="1" stop-color="#ffffff" stop-opacity="0.55"/></linearGradient>
<path d="M213 277.87 L213.5 277.86 L214 277.84 L214.5 277.82 L215 277.81 L215.5 277.79 L216 277.77 L216.5 277.75 L217 277.73 L217.5 277.71 L218 277.69 L218.5 277.67 L219 277.65 L219.5 277.63 L220 277.61 L220.5 277.59 L221 277.56 L221.5 277.54 L222 277.51 L222.5 277.49 L223 277.46 L223.5 277.44 L224 277.41 L224.5 277.38 L225 277.35 L225.5 277.33 L226 277.3 L226.5 277.27 L227 277.23 L227.5 277.2 L228 277.17 L228.5 277.14 L229 277.1 L229.5 277.06 L230 277.03 L230.5 276.99 L231 276.95 L231.5 276.91 L232 276.87 L232.5 276.83 L233 276.78 L233.5 276.74 L234 276.69 L234.5 276.64 L235 276.6 L235.5 276.54 L236 276.49 L236.5 276.44 L237 276.38 L237.5 276.32 L238 276.26 L238.5 276.2 L239 276.14 L239.5 276.07 L240 276.01 L240.5 275.94 L241 275.86 L241.5 275.79 L242 275.71 L242.5 275.63 L243 275.54 L243.5 275.46 L244 275.36 L244.5 275.27 L245 275.17 L245.5 275.07 L246 274.96 L246.5 274.85 L247 274.73 L247.5 274.61 L248 274.48 L248.5 274.35 L249 274.21 L249.5 274.06 L250 273.91 L250.5 273.75 L251 273.58 L251.5 273.39 L252 273.2 L252.5 273 L253 272.79 L253.5 272.56 L254 272.32 L254.5 272.06 L255 271.79 L255.5 271.49 L256 271.18 L256.5 270.85 L257 270.5 L257.5 270.12 L258 269.71 L258.5 269.28 L259 268.82 L259.5 268.32 L260 267.79 L260.5 267.23 L261 266.63 L261.5 265.98 L262 265.29 L262.5 264.56 L263 263.78 L263.5 262.95 L264 262.06 L264.5 261.13 L265 260.13 L265.5 259.08 L266 257.97 L266.5 256.8 L267 255.56 L267.5 254.27 L268 252.9 L268.5 251.48 L269 249.99 L269.5 248.44 L270 246.84 L270.5 245.17 L271 243.45 L271.5 241.68 L272 239.87 L272.5 238.03 L273 236.16 L273.5 234.27 L274 232.39 L274.5 230.51 L275 228.67 L275.5 226.87 L276 225.14 L276.5 223.51 L277 221.99 L277.5 220.6 L278 219.39 L278.5 218.35 L279 217.52 L279.5 216.91 L280 216.54 L280.5 216.41 L281 216.53 L281.5 216.88 L282 217.48 L282.5 218.3 L283 219.32 L283.5 220.53 L284 221.9 L284.5 223.42 L285 225.05 L285.5 226.77 L286 228.56 L286.5 230.4 L287 232.28 L287.5 234.16 L288 236.05 L288.5 237.92 L289 239.77 L289.5 241.58 L290 243.35 L290.5 245.07 L291 246.74 L291.5 248.35 L292 249.9 L292.5 251.4 L293 252.82 L293.5 254.19 L294 255.49 L294.5 256.73 L295 257.9 L295.5 259.02 L296 260.07 L296.5 261.07 L297 262.01 L297.5 262.9 L298 263.73 L298.5 264.52 L299 265.25 L299.5 265.94 L300 266.59 L300.5 267.2 L301 267.76 L301.5 268.29 L302 268.79 L302.5 269.25 L303 269.69 L303.5 270.1 L304 270.48 L304.5 270.83 L305 271.16 L305.5 271.48 L306 271.77 L306.5 272.04 L307 272.3 L307.5 272.54 L308 272.77 L308.5 272.99 L309 273.19 L309.5 273.38 L310 273.57 L310.5 273.74 L311 273.9 L311.5 274.06 L312 274.2 L312.5 274.34 L313 274.48 L313.5 274.61 L314 274.73 L314.5 274.84 L315 274.96 L315.5 275.06 L316 275.17 L316.5 275.26 L317 275.36 L317.5 275.45 L318 275.54 L318.5 275.62 L319 275.7 L319.5 275.78 L320 275.86 L320.5 275.93 L321 276 L321.5 276.07 L322 276.14 L322.5 276.2 L323 276.26 L323.5 276.32 L324 276.38 L324.5 276.43 L325 276.49 L325.5 276.54 L326 276.59 L326.5 276.64 L327 276.69 L327.5 276.74 L328 276.78 L328.5 276.83 L329 276.87 L329.5 276.91 L330 276.95 L330.5 276.99 L331 277.03 L331.5 277.06 L332 277.1 L332.5 277.13 L333 277.17 L333.5 277.2 L334 277.23 L334.5 277.26 L335 277.29 L335.5 277.32 L336 277.35 L336.5 277.38 L337 277.41 L337.5 277.44 L338 277.46 L338.5 277.49 L339 277.51 L339.5 277.54 L340 277.56 L340.5 277.58 L341 277.61 L341.5 277.63 L342 277.65 L342.5 277.67 L343 277.69 L343.5 277.71 L344 277.73 L344.5 277.75 L345 277.77 L345.5 277.79 L346 277.81 L346.5 277.82 L347 277.84 L347.5 277.86 L348 277.87 L348.5 277.89 L349 277.91 L349.5 277.92 L350 277.94 L350.5 277.95 L351 277.97 L351.5 277.98 L352 277.99 L352.5 278.01 L353 278.02 L353.5 278.03 L354 278.05 L354.5 278.06 L355 278.07 L355.5 278.08 L356 278.1 L356.5 278.11 L357 278.12 L357.5 278.13 L358 278.14 L358.5 278.15 L359 278.16 L359.5 278.17 L360 278.18 L360.5 278.19 L361 278.2 L361.5 278.21 L362 278.22 L362.5 278.23 L363 278.24 L363.5 278.25 L364 278.26 L364 279 L363.5 279 L363 279 L362.5 279 L362 279 L361.5 279 L361 279 L360.5 279 L360 279 L359.5 279 L359 279 L358.5 279 L358 279 L357.5 279 L357 279 L356.5 279 L356 279 L355.5 279 L355 279 L354.5 279 L354 279 L353.5 279 L353 279 L352.5 279 L352 279 L351.5 279 L351 279 L350.5 279 L350 279 L349.5 279 L349 279 L348.5 279 L348 279 L347.5 279 L347 279 L346.5 279 L346 279 L345.5 279 L345 279 L344.5 279 L344 279 L343.5 279 L343 279 L342.5 279 L342 279 L341.5 279 L341 279 L340.5 279 L340 279 L339.5 279 L339 279 L338.5 279 L338 279 L337.5 279 L337 279 L336.5 279 L336 279 L335.5 279 L335 279 L334.5 279 L334 279 L333.5 279 L333 279 L332.5 279 L332 279 L331.5 279 L331 279 L330.5 279 L330 279 L329.5 279 L329 279 L328.5 279 L328 279 L327.5 279 L327 279 L326.5 279 L326 279 L325.5 279 L325 279 L324.5 279 L324 279 L323.5 279 L323 279 L322.5 279 L322 279 L321.5 279 L321 279 L320.5 279 L320 279 L319.5 279 L319 279 L318.5 279 L318 279 L317.5 279 L317 279 L316.5 279 L316 279 L315.5 279 L315 279 L314.5 279 L314 279 L313.5 279 L313 279 L312.5 279 L312 279 L311.5 279 L311 279 L310.5 279 L310 279 L309.5 279 L309 279 L308.5 279 L308 279 L307.5 279 L307 279 L306.5 279 L306 279 L305.5 279 L305 279 L304.5 279 L304 279 L303.5 279 L303 279 L302.5 279 L302 279 L301.5 279 L301 279 L300.5 279 L300 279 L299.5 279 L299 279 L298.5 279 L298 279 L297.5 279 L297 279 L296.5 279 L296 279 L295.5 279 L295 279 L294.5 279 L294 279 L293.5 279 L293 279 L292.5 279 L292 279 L291.5 279 L291 279 L290.5 279 L290 279 L289.5 279 L289 279 L288.5 279 L288 279 L287.5 279 L287 279 L286.5 279 L286 279 L285.5 279 L285 279 L284.5 279 L284 279 L283.5 279 L283 279 L282.5 279 L282 279 L281.5 279 L281 279 L280.5 279 L280 279 L279.5 279 L279 279 L278.5 279 L278 279 L277.5 279 L277 279 L276.5 279 L276 279 L275.5 279 L275 279 L274.5 279 L274 279 L273.5 279 L273 279 L272.5 279 L272 279 L271.5 279 L271 279 L270.5 279 L270 279 L269.5 279 L269 279 L268.5 279 L268 279 L267.5 279 L267 279 L266.5 279 L266 279 L265.5 279 L265 279 L264.5 279 L264 279 L263.5 279 L263 279 L262.5 279 L262 279 L261.5 279 L261 279 L260.5 279 L260 279 L259.5 279 L259 279 L258.5 279 L258 279 L257.5 279 L257 279 L256.5 279 L256 279 L255.5 279 L255 279 L254.5 279 L254 279 L253.5 279 L253 279 L252.5 279 L252 279 L251.5 279 L251 279 L250.5 279 L250 279 L249.5 279 L249 279 L248.5 279 L248 279 L247.5 279 L247 279 L246.5 279 L246 279 L245.5 279 L245 279 L244.5 279 L244 279 L243.5 279 L243 279 L242.5 279 L242 279 L241.5 279 L241 279 L240.5 279 L240 279 L239.5 279 L239 279 L238.5 279 L238 279 L237.5 279 L237 279 L236.5 279 L236 279 L235.5 279 L235 279 L234.5 279 L234 279 L233.5 279 L233 279 L232.5 279 L232 279 L231.5 279 L231 279 L230.5 279 L230 279 L229.5 279 L229 279 L228.5 279 L228 279 L227.5 279 L227 279 L226.5 279 L226 279 L225.5 279 L225 279 L224.5 279 L224 279 L223.5 279 L223 279 L222.5 279 L222 279 L221.5 279 L221 279 L220.5 279 L220 279 L219.5 279 L219 279 L218.5 279 L218 279 L217.5 279 L217 279 L216.5 279 L216 279 L215.5 279 L215 279 L214.5 279 L214 279 L213.5 279 L213 279 Z" fill="url(#ge1)"/>
<path d="M213 277.87 L213.5 277.86 L214 277.84 L214.5 277.82 L215 277.81 L215.5 277.79 L216 277.77 L216.5 277.75 L217 277.73 L217.5 277.71 L218 277.69 L218.5 277.67 L219 277.65 L219.5 277.63 L220 277.61 L220.5 277.59 L221 277.56 L221.5 277.54 L222 277.51 L222.5 277.49 L223 277.46 L223.5 277.44 L224 277.41 L224.5 277.38 L225 277.35 L225.5 277.33 L226 277.3 L226.5 277.27 L227 277.23 L227.5 277.2 L228 277.17 L228.5 277.14 L229 277.1 L229.5 277.06 L230 277.03 L230.5 276.99 L231 276.95 L231.5 276.91 L232 276.87 L232.5 276.83 L233 276.78 L233.5 276.74 L234 276.69 L234.5 276.64 L235 276.6 L235.5 276.54 L236 276.49 L236.5 276.44 L237 276.38 L237.5 276.32 L238 276.26 L238.5 276.2 L239 276.14 L239.5 276.07 L240 276.01 L240.5 275.94 L241 275.86 L241.5 275.79 L242 275.71 L242.5 275.63 L243 275.54 L243.5 275.46 L244 275.36 L244.5 275.27 L245 275.17 L245.5 275.07 L246 274.96 L246.5 274.85 L247 274.73 L247.5 274.61 L248 274.48 L248.5 274.35 L249 274.21 L249.5 274.06 L250 273.91 L250.5 273.75 L251 273.58 L251.5 273.39 L252 273.2 L252.5 273 L253 272.79 L253.5 272.56 L254 272.32 L254.5 272.06 L255 271.79 L255.5 271.49 L256 271.18 L256.5 270.85 L257 270.5 L257.5 270.12 L258 269.71 L258.5 269.28 L259 268.82 L259.5 268.32 L260 267.79 L260.5 267.23 L261 266.63 L261.5 265.98 L262 265.29 L262.5 264.56 L263 263.78 L263.5 262.95 L264 262.06 L264.5 261.13 L265 260.13 L265.5 259.08 L266 257.97 L266.5 256.8 L267 255.56 L267.5 254.27 L268 252.9 L268.5 251.48 L269 249.99 L269.5 248.44 L270 246.84 L270.5 245.17 L271 243.45 L271.5 241.68 L272 239.87 L272.5 238.03 L273 236.16 L273.5 234.27 L274 232.39 L274.5 230.51 L275 228.67 L275.5 226.87 L276 225.14 L276.5 223.51 L277 221.99 L277.5 220.6 L278 219.39 L278.5 218.35 L279 217.52 L279.5 216.91 L280 216.54 L280.5 216.41 L281 216.53 L281.5 216.88 L282 217.48 L282.5 218.3 L283 219.32 L283.5 220.53 L284 221.9 L284.5 223.42 L285 225.05 L285.5 226.77 L286 228.56 L286.5 230.4 L287 232.28 L287.5 234.16 L288 236.05 L288.5 237.92 L289 239.77 L289.5 241.58 L290 243.35 L290.5 245.07 L291 246.74 L291.5 248.35 L292 249.9 L292.5 251.4 L293 252.82 L293.5 254.19 L294 255.49 L294.5 256.73 L295 257.9 L295.5 259.02 L296 260.07 L296.5 261.07 L297 262.01 L297.5 262.9 L298 263.73 L298.5 264.52 L299 265.25 L299.5 265.94 L300 266.59 L300.5 267.2 L301 267.76 L301.5 268.29 L302 268.79 L302.5 269.25 L303 269.69 L303.5 270.1 L304 270.48 L304.5 270.83 L305 271.16 L305.5 271.48 L306 271.77 L306.5 272.04 L307 272.3 L307.5 272.54 L308 272.77 L308.5 272.99 L309 273.19 L309.5 273.38 L310 273.57 L310.5 273.74 L311 273.9 L311.5 274.06 L312 274.2 L312.5 274.34 L313 274.48 L313.5 274.61 L314 274.73 L314.5 274.84 L315 274.96 L315.5 275.06 L316 275.17 L316.5 275.26 L317 275.36 L317.5 275.45 L318 275.54 L318.5 275.62 L319 275.7 L319.5 275.78 L320 275.86 L320.5 275.93 L321 276 L321.5 276.07 L322 276.14 L322.5 276.2 L323 276.26 L323.5 276.32 L324 276.38 L324.5 276.43 L325 276.49 L325.5 276.54 L326 276.59 L326.5 276.64 L327 276.69 L327.5 276.74 L328 276.78 L328.5 276.83 L329 276.87 L329.5 276.91 L330 276.95 L330.5 276.99 L331 277.03 L331.5 277.06 L332 277.1 L332.5 277.13 L333 277.17 L333.5 277.2 L334 277.23 L334.5 277.26 L335 277.29 L335.5 277.32 L336 277.35 L336.5 277.38 L337 277.41 L337.5 277.44 L338 277.46 L338.5 277.49 L339 277.51 L339.5 277.54 L340 277.56 L340.5 277.58 L341 277.61 L341.5 277.63 L342 277.65 L342.5 277.67 L343 277.69 L343.5 277.71 L344 277.73 L344.5 277.75 L345 277.77 L345.5 277.79 L346 277.81 L346.5 277.82 L347 277.84 L347.5 277.86 L348 277.87 L348.5 277.89 L349 277.91 L349.5 277.92 L350 277.94 L350.5 277.95 L351 277.97 L351.5 277.98 L352 277.99 L352.5 278.01 L353 278.02 L353.5 278.03 L354 278.05 L354.5 278.06 L355 278.07 L355.5 278.08 L356 278.1 L356.5 278.11 L357 278.12 L357.5 278.13 L358 278.14 L358.5 278.15 L359 278.16 L359.5 278.17 L360 278.18 L360.5 278.19 L361 278.2 L361.5 278.21 L362 278.22 L362.5 278.23 L363 278.24 L363.5 278.25 L364 278.26" fill="none" stroke="#3a8fd3" stroke-width="1.35"/>
<linearGradient id="ge0" gradientUnits="userSpaceOnUse" x1="0" y1="269.17" x2="0" y2="278.6"><stop offset="0" stop-color="#6cc457" stop-opacity="0.58"/><stop offset="0.5" stop-color="#6cc457" stop-opacity="0.24"/><stop offset="1" stop-color="#ffffff" stop-opacity="0.55"/></linearGradient>
<path d="M223 278.29 L223.5 278.27 L224 278.25 L224.5 278.23 L225 278.21 L225.5 278.19 L226 278.17 L226.5 278.14 L227 278.11 L227.5 278.08 L228 278.04 L228.5 278 L229 277.96 L229.5 277.92 L230 277.87 L230.5 277.81 L231 277.76 L231.5 277.69 L232 277.63 L232.5 277.55 L233 277.48 L233.5 277.39 L234 277.3 L234.5 277.21 L235 277.11 L235.5 277 L236 276.88 L236.5 276.76 L237 276.63 L237.5 276.49 L238 276.35 L238.5 276.19 L239 276.03 L239.5 275.87 L240 275.69 L240.5 275.51 L241 275.32 L241.5 275.12 L242 274.92 L242.5 274.71 L243 274.5 L243.5 274.28 L244 274.05 L244.5 273.82 L245 273.58 L245.5 273.34 L246 273.1 L246.5 272.86 L247 272.62 L247.5 272.37 L248 272.13 L248.5 271.89 L249 271.65 L249.5 271.42 L250 271.19 L250.5 270.96 L251 270.75 L251.5 270.54 L252 270.35 L252.5 270.16 L253 269.99 L253.5 269.83 L254 269.68 L254.5 269.56 L255 269.44 L255.5 269.35 L256 269.28 L256.5 269.22 L257 269.18 L257.5 269.17 L258 269.17 L258.5 269.19 L259 269.24 L259.5 269.3 L260 269.38 L260.5 269.48 L261 269.6 L261.5 269.73 L262 269.88 L262.5 270.05 L263 270.22 L263.5 270.41 L264 270.61 L264.5 270.82 L265 271.04 L265.5 271.27 L266 271.5 L266.5 271.73 L267 271.97 L267.5 272.22 L268 272.46 L268.5 272.7 L269 272.95 L269.5 273.19 L270 273.43 L270.5 273.67 L271 273.9 L271.5 274.13 L272 274.35 L272.5 274.57 L273 274.79 L273.5 274.99 L274 275.2 L274.5 275.39 L275 275.58 L275.5 275.76 L276 275.93 L276.5 276.09 L277 276.25 L277.5 276.4 L278 276.54 L278.5 276.67 L279 276.8 L279.5 276.92 L280 277.04 L280.5 277.14 L281 277.24 L281.5 277.34 L282 277.42 L282.5 277.5 L283 277.58 L283.5 277.65 L284 277.72 L284.5 277.78 L285 277.83 L285.5 277.88 L286 277.93 L286.5 277.98 L287 278.02 L287.5 278.05 L288 278.09 L288.5 278.12 L289 278.15 L289.5 278.17 L290 278.2 L290.5 278.22 L291 278.24 L291.5 278.26 L292 278.28 L292.5 278.29 L292.5 278.6 L292 278.6 L291.5 278.6 L291 278.6 L290.5 278.6 L290 278.6 L289.5 278.6 L289 278.6 L288.5 278.6 L288 278.6 L287.5 278.6 L287 278.6 L286.5 278.6 L286 278.6 L285.5 278.6 L285 278.6 L284.5 278.6 L284 278.6 L283.5 278.6 L283 278.6 L282.5 278.6 L282 278.6 L281.5 278.6 L281 278.6 L280.5 278.6 L280 278.6 L279.5 278.6 L279 278.6 L278.5 278.6 L278 278.6 L277.5 278.6 L277 278.6 L276.5 278.6 L276 278.6 L275.5 278.6 L275 278.6 L274.5 278.6 L274 278.6 L273.5 278.6 L273 278.6 L272.5 278.6 L272 278.6 L271.5 278.6 L271 278.6 L270.5 278.6 L270 278.6 L269.5 278.6 L269 278.6 L268.5 278.6 L268 278.6 L267.5 278.6 L267 278.6 L266.5 278.6 L266 278.6 L265.5 278.6 L265 278.6 L264.5 278.6 L264 278.6 L263.5 278.6 L263 278.6 L262.5 278.6 L262 278.6 L261.5 278.6 L261 278.6 L260.5 278.6 L260 278.6 L259.5 278.6 L259 278.6 L258.5 278.6 L258 278.6 L257.5 278.6 L257 278.6 L256.5 278.6 L256 278.6 L255.5 278.6 L255 278.6 L254.5 278.6 L254 278.6 L253.5 278.6 L253 278.6 L252.5 278.6 L252 278.6 L251.5 278.6 L251 278.6 L250.5 278.6 L250 278.6 L249.5 278.6 L249 278.6 L248.5 278.6 L248 278.6 L247.5 278.6 L247 278.6 L246.5 278.6 L246 278.6 L245.5 278.6 L245 278.6 L244.5 278.6 L244 278.6 L243.5 278.6 L243 278.6 L242.5 278.6 L242 278.6 L241.5 278.6 L241 278.6 L240.5 278.6 L240 278.6 L239.5 278.6 L239 278.6 L238.5 278.6 L238 278.6 L237.5 278.6 L237 278.6 L236.5 278.6 L236 278.6 L235.5 278.6 L235 278.6 L234.5 278.6 L234 278.6 L233.5 278.6 L233 278.6 L232.5 278.6 L232 278.6 L231.5 278.6 L231 278.6 L230.5 278.6 L230 278.6 L229.5 278.6 L229 278.6 L228.5 278.6 L228 278.6 L227.5 278.6 L227 278.6 L226.5 278.6 L226 278.6 L225.5 278.6 L225 278.6 L224.5 278.6 L224 278.6 L223.5 278.6 L223 278.6 Z" fill="url(#ge0)"/>
<path d="M213 278.44 L213.5 278.44 L214 278.43 L214.5 278.43 L215 278.42 L215.5 278.42 L216 278.42 L216.5 278.41 L217 278.4 L217.5 278.4 L218 278.39 L218.5 278.38 L219 278.38 L219.5 278.37 L220 278.36 L220.5 278.35 L221 278.34 L221.5 278.33 L222 278.32 L222.5 278.3 L223 278.29 L223.5 278.27 L224 278.25 L224.5 278.23 L225 278.21 L225.5 278.19 L226 278.17 L226.5 278.14 L227 278.11 L227.5 278.08 L228 278.04 L228.5 278 L229 277.96 L229.5 277.92 L230 277.87 L230.5 277.81 L231 277.76 L231.5 277.69 L232 277.63 L232.5 277.55 L233 277.48 L233.5 277.39 L234 277.3 L234.5 277.21 L235 277.11 L235.5 277 L236 276.88 L236.5 276.76 L237 276.63 L237.5 276.49 L238 276.35 L238.5 276.19 L239 276.03 L239.5 275.87 L240 275.69 L240.5 275.51 L241 275.32 L241.5 275.12 L242 274.92 L242.5 274.71 L243 274.5 L243.5 274.28 L244 274.05 L244.5 273.82 L245 273.58 L245.5 273.34 L246 273.1 L246.5 272.86 L247 272.62 L247.5 272.37 L248 272.13 L248.5 271.89 L249 271.65 L249.5 271.42 L250 271.19 L250.5 270.96 L251 270.75 L251.5 270.54 L252 270.35 L252.5 270.16 L253 269.99 L253.5 269.83 L254 269.68 L254.5 269.56 L255 269.44 L255.5 269.35 L256 269.28 L256.5 269.22 L257 269.18 L257.5 269.17 L258 269.17 L258.5 269.19 L259 269.24 L259.5 269.3 L260 269.38 L260.5 269.48 L261 269.6 L261.5 269.73 L262 269.88 L262.5 270.05 L263 270.22 L263.5 270.41 L264 270.61 L264.5 270.82 L265 271.04 L265.5 271.27 L266 271.5 L266.5 271.73 L267 271.97 L267.5 272.22 L268 272.46 L268.5 272.7 L269 272.95 L269.5 273.19 L270 273.43 L270.5 273.67 L271 273.9 L271.5 274.13 L272 274.35 L272.5 274.57 L273 274.79 L273.5 274.99 L274 275.2 L274.5 275.39 L275 275.58 L275.5 275.76 L276 275.93 L276.5 276.09 L277 276.25 L277.5 276.4 L278 276.54 L278.5 276.67 L279 276.8 L279.5 276.92 L280 277.04 L280.5 277.14 L281 277.24 L281.5 277.34 L282 277.42 L282.5 277.5 L283 277.58 L283.5 277.65 L284 277.72 L284.5 277.78 L285 277.83 L285.5 277.88 L286 277.93 L286.5 277.98 L287 278.02 L287.5 278.05 L288 278.09 L288.5 278.12 L289 278.15 L289.5 278.17 L290 278.2 L290.5 278.22 L291 278.24 L291.5 278.26 L292 278.28 L292.5 278.29 L293 278.31 L293.5 278.32 L294 278.33 L294.5 278.34 L295 278.35 L295.5 278.36 L296 278.37 L296.5 278.38 L297 278.39 L297.5 278.39 L298 278.4 L298.5 278.41 L299 278.41 L299.5 278.42 L300 278.42 L300.5 278.43 L301 278.43 L301.5 278.44 L302 278.44 L302.5 278.44 L303 278.45 L303.5 278.45 L304 278.45 L304.5 278.46 L305 278.46 L305.5 278.46 L306 278.46 L306.5 278.47 L307 278.47 L307.5 278.47 L308 278.48 L308.5 278.48 L309 278.48 L309.5 278.48 L310 278.48 L310.5 278.49 L311 278.49 L311.5 278.49 L312 278.49 L312.5 278.49 L313 278.5 L313.5 278.5 L314 278.5 L314.5 278.5 L315 278.5 L315.5 278.5 L316 278.51 L316.5 278.51 L317 278.51 L317.5 278.51 L318 278.51 L318.5 278.51 L319 278.51 L319.5 278.52 L320 278.52 L320.5 278.52 L321 278.52 L321.5 278.52 L322 278.52 L322.5 278.52 L323 278.52 L323.5 278.53 L324 278.53 L324.5 278.53 L325 278.53 L325.5 278.53 L326 278.53 L326.5 278.53 L327 278.53 L327.5 278.53 L328 278.53 L328.5 278.54 L329 278.54 L329.5 278.54 L330 278.54 L330.5 278.54 L331 278.54 L331.5 278.54 L332 278.54 L332.5 278.54 L333 278.54 L333.5 278.54 L334 278.54 L334.5 278.54 L335 278.55 L335.5 278.55 L336 278.55 L336.5 278.55 L337 278.55 L337.5 278.55 L338 278.55 L338.5 278.55 L339 278.55 L339.5 278.55 L340 278.55 L340.5 278.55 L341 278.55 L341.5 278.55 L342 278.55 L342.5 278.55 L343 278.55 L343.5 278.56 L344 278.56 L344.5 278.56 L345 278.56 L345.5 278.56 L346 278.56 L346.5 278.56 L347 278.56 L347.5 278.56 L348 278.56 L348.5 278.56 L349 278.56 L349.5 278.56 L350 278.56 L350.5 278.56 L351 278.56 L351.5 278.56 L352 278.56 L352.5 278.56 L353 278.56 L353.5 278.56 L354 278.56 L354.5 278.56 L355 278.57 L355.5 278.57 L356 278.57 L356.5 278.57 L357 278.57 L357.5 278.57 L358 278.57 L358.5 278.57 L359 278.57 L359.5 278.57 L360 278.57 L360.5 278.57 L361 278.57 L361.5 278.57 L362 278.57 L362.5 278.57 L363 278.57 L363.5 278.57 L364 278.57" fill="none" stroke="#3cb52a" stroke-width="1.35"/>
<circle cx="315.5" cy="170.6" r="1.2" fill="#c4c4c4"/>
<text x="325.5" y="173" font-size="7.6" fill="#222" stroke="#222" stroke-width="0" text-anchor="start" textLength="37.9" lengthAdjust="spacingAndGlyphs">Raw Intensity</text>
<line x1="307.7" y1="178.8" x2="323.5" y2="178.8" stroke="#555" stroke-width="1.6"/>
<text x="325.5" y="181.4" font-size="7.6" fill="#222" stroke="#222" stroke-width="0" text-anchor="start" textLength="27.4" lengthAdjust="spacingAndGlyphs">Peak Sum</text>
<line x1="307.7" y1="187.4" x2="323.5" y2="187.4" stroke="#ff1aff" stroke-width="1.6"/>
<text x="325.5" y="189.9" font-size="7.6" fill="#222" stroke="#222" stroke-width="0" text-anchor="start" textLength="33.4" lengthAdjust="spacingAndGlyphs">Background</text>
<text x="229.8" y="257.9" font-size="8" fill="#3cb52a" stroke="#3cb52a" stroke-width="0.12" text-anchor="start" >O=C</text>
<line x1="239.4" y1="261.6" x2="253.39" y2="274.19" stroke="#3cb52a" stroke-width="0.65"/>
<path d="M255.4 276 L252.15 274.83 L253.89 272.89 Z" fill="#3cb52a"/>
<text x="230.4" y="219.2" font-size="8" fill="#3a8fd3" stroke="#3a8fd3" stroke-width="0.12" text-anchor="start" >O&#8211;Si/O&#8211;C</text>
<line x1="251" y1="222" x2="275.75" y2="243.24" stroke="#3a8fd3" stroke-width="0.65"/>
<path d="M277.8 245 L274.53 243.9 L276.22 241.93 Z" fill="#3a8fd3"/>
<text x="324" y="228.9" font-size="8" fill="#f36d1e" stroke="#f36d1e" stroke-width="0.12" text-anchor="start" >O&#8211;H</text>
<line x1="329.3" y1="232.6" x2="313.99" y2="253.71" stroke="#f36d1e" stroke-width="0.65"/>
<path d="M312.4 255.9 L313.23 252.55 L315.33 254.07 Z" fill="#f36d1e"/>
<rect x="212.4" y="166" width="152.6" height="123.2" fill="none" stroke="#858585" stroke-width="1.3"/>
<line x1="348.4" y1="289.2" x2="348.4" y2="291.6" stroke="#858585" stroke-width="0.9"/>
<line x1="331.4" y1="289.2" x2="331.4" y2="290.6" stroke="#858585" stroke-width="0.9"/>
<line x1="314.4" y1="289.2" x2="314.4" y2="291.6" stroke="#858585" stroke-width="0.9"/>
<line x1="297.4" y1="289.2" x2="297.4" y2="290.6" stroke="#858585" stroke-width="0.9"/>
<line x1="280.4" y1="289.2" x2="280.4" y2="291.6" stroke="#858585" stroke-width="0.9"/>
<line x1="263.4" y1="289.2" x2="263.4" y2="290.6" stroke="#858585" stroke-width="0.9"/>
<line x1="246.4" y1="289.2" x2="246.4" y2="291.6" stroke="#858585" stroke-width="0.9"/>
<line x1="229.4" y1="289.2" x2="229.4" y2="290.6" stroke="#858585" stroke-width="0.9"/>
<text x="212.4" y="299.6" font-size="8" fill="#222" stroke="#222" stroke-width="0.12" text-anchor="middle" >536</text>
<text x="246.4" y="299.6" font-size="8" fill="#222" stroke="#222" stroke-width="0.12" text-anchor="middle" >534</text>
<text x="280.4" y="299.6" font-size="8" fill="#222" stroke="#222" stroke-width="0.12" text-anchor="middle" >532</text>
<text x="314.4" y="299.6" font-size="8" fill="#222" stroke="#222" stroke-width="0.12" text-anchor="middle" >530</text>
<text x="348.4" y="299.6" font-size="8" fill="#222" stroke="#222" stroke-width="0.12" text-anchor="middle" >528</text>
<text x="288.7" y="307.1" font-size="8" fill="#222" stroke="#222" stroke-width="0.12" text-anchor="middle" >Binding Energy (eV)</text>
<text x="0" y="0" font-size="8" fill="#222" stroke="#222" stroke-width="0.12" text-anchor="middle" transform="translate(207.6 227.6) rotate(-90)">Intensity (a.u.)</text>
<text x="193.9" y="173.7" font-size="10.6" fill="#1a1a1a" stroke="#1a1a1a" stroke-width="0.2" text-anchor="start" >(e)</text>
<text x="213.4" y="173.7" font-size="7.8" fill="#222" stroke="#222" stroke-width="0.12" text-anchor="start" >O 1s</text>
<path d="M393 281 L393.5 281 L394 281 L394.5 281 L395 281 L395.5 281 L396 281 L396.5 281 L397 281 L397.5 281 L398 281 L398.5 281 L399 281 L399.5 281 L400 281 L400.5 281 L401 281 L401.5 281 L402 281 L402.5 281 L403 281 L403.5 281 L404 281 L404.5 281 L405 281 L405.5 281 L406 281 L406.5 281 L407 281 L407.5 281 L408 281 L408.5 281 L409 281 L409.5 281 L410 281 L410.5 281 L411 281 L411.5 281 L412 281 L412.5 281 L413 281 L413.5 281 L414 281 L414.5 281 L415 281 L415.5 281 L416 281 L416.5 281 L417 281 L417.5 281 L418 281 L418.5 281 L419 281 L419.5 281 L420 281 L420.5 281 L421 281 L421.5 281 L422 281 L422.5 281 L423 281 L423.5 281 L424 281 L424.5 281 L425 281 L425.5 281 L426 281 L426.5 281 L427 281 L427.5 281 L428 281 L428.5 281 L429 281 L429.5 281 L430 281 L430.5 281 L431 281 L431.5 281 L432 281 L432.5 281 L433 281 L433.5 281 L434 281 L434.5 281 L435 281 L435.5 281 L436 281 L436.5 281 L437 281 L437.5 281 L438 281 L438.5 281 L439 281 L439.5 281 L440 281 L440.5 281 L441 281 L441.5 281 L442 281 L442.5 281 L443 281 L443.5 281 L444 281 L444.5 281 L445 281 L445.5 281 L446 281 L446.5 281 L447 281 L447.5 281 L448 281 L448.5 281 L449 281 L449.5 281 L450 281 L450.5 281 L451 281 L451.5 281 L452 281 L452.5 281 L453 281 L453.5 281 L454 281 L454.5 281 L455 281 L455.5 281 L456 281 L456.5 281 L457 281 L457.5 281 L458 281 L458.5 281 L459 281 L459.5 281 L460 281 L460.5 281 L461 281 L461.5 281 L462 281 L462.5 281 L463 281 L463.5 281 L464 281 L464.5 281 L465 281 L465.5 281 L466 281 L466.5 281 L467 281 L467.5 281 L468 281 L468.5 281 L469 281 L469.5 281 L470 281 L470.5 281 L471 281 L471.5 281 L472 281 L472.5 281 L473 281 L473.5 281 L474 281 L474.5 281 L475 281 L475.5 281 L476 281 L476.5 281 L477 281 L477.5 281 L478 281 L478.5 281 L479 281 L479.5 281 L480 281 L480.5 281 L481 281 L481.5 281 L482 281 L482.5 281 L483 281 L483.5 281 L484 281 L484.5 281 L485 281 L485.5 281 L486 281 L486.5 281 L487 281 L487.5 281 L488 281 L488.5 281 L489 281 L489.5 281 L490 281 L490.5 281 L491 281 L491.5 281 L492 281 L492.5 281 L493 281 L493.5 281 L494 281 L494.5 281 L495 281 L495.5 281 L496 281 L496.5 281 L497 281 L497.5 281 L498 281 L498.5 281 L499 281 L499.5 281 L500 281 L500.5 281 L501 281 L501.5 281 L502 281 L502.5 281 L503 281 L503.5 281 L504 281 L504.5 281 L505 281 L505.5 281 L506 281 L506.5 281 L507 281 L507.5 281 L508 281 L508.5 281 L509 281 L509.5 281 L510 281 L510.5 281 L511 281 L511.5 281 L512 281 L512.5 281 L513 281 L513.5 281 L514 281 L514.5 281 L515 281 L515.5 281 L516 281 L516.5 281 L517 281 L517.5 281 L518 281 L518.5 281 L519 281 L519.5 281 L520 281 L520.5 281 L521 281 L521.5 281 L522 281 L522.5 281 L523 281 L523.5 281 L524 281 L524.5 281 L525 281 L525.5 281 L526 281 L526.5 281 L527 281 L527.5 281 L528 281 L528.5 281 L529 281 L529.5 281 L530 281 L530.5 281 L531 281 L531.5 281 L532 281 L532.5 281 L533 281 L533.5 281 L534 281 L534.5 281 L535 281 L535.5 281 L536 281 L536.5 281 L537 281 L537.5 281 L538 281 L538.5 281 L539 281 L539.5 281 L540 281 L540.5 281 L541 281 L541.5 281 L542 281 L542.5 281 L543 281 L543.5 281 L544 281 L544.5 281 L545 281 L545.5 281" fill="none" stroke="#ff1aff" stroke-width="1.5"/>
<circle cx="393.26" cy="280" r="1.3" fill="#cdcdcd"/>
<circle cx="394.86" cy="277.97" r="1.3" fill="#cdcdcd"/>
<circle cx="396.47" cy="279.84" r="1.3" fill="#cdcdcd"/>
<circle cx="399.27" cy="280.23" r="1.3" fill="#cdcdcd"/>
<circle cx="400.85" cy="279.21" r="1.3" fill="#cdcdcd"/>
<circle cx="403.2" cy="279.47" r="1.3" fill="#cdcdcd"/>
<circle cx="405.55" cy="278.12" r="1.3" fill="#cdcdcd"/>
<circle cx="407.14" cy="279.24" r="1.3" fill="#cdcdcd"/>
<circle cx="409.45" cy="276.78" r="1.3" fill="#cdcdcd"/>
<circle cx="410.69" cy="276.79" r="1.3" fill="#cdcdcd"/>
<circle cx="412.72" cy="275.83" r="1.3" fill="#cdcdcd"/>
<circle cx="415.49" cy="276.29" r="1.3" fill="#cdcdcd"/>
<circle cx="417.34" cy="275.38" r="1.3" fill="#cdcdcd"/>
<circle cx="418.46" cy="274.19" r="1.3" fill="#cdcdcd"/>
<circle cx="420.66" cy="272.6" r="1.3" fill="#cdcdcd"/>
<circle cx="423.35" cy="271.87" r="1.3" fill="#cdcdcd"/>
<circle cx="425.12" cy="269.94" r="1.3" fill="#cdcdcd"/>
<circle cx="426.41" cy="268.35" r="1.3" fill="#cdcdcd"/>
<circle cx="428.52" cy="268.73" r="1.3" fill="#cdcdcd"/>
<circle cx="431.5" cy="265.57" r="1.3" fill="#cdcdcd"/>
<circle cx="433.43" cy="262.94" r="1.3" fill="#cdcdcd"/>
<circle cx="435.42" cy="260.82" r="1.3" fill="#cdcdcd"/>
<circle cx="437.06" cy="259.32" r="1.3" fill="#cdcdcd"/>
<circle cx="438.75" cy="258.41" r="1.3" fill="#cdcdcd"/>
<circle cx="440.72" cy="256.64" r="1.3" fill="#cdcdcd"/>
<circle cx="443.58" cy="254.98" r="1.3" fill="#cdcdcd"/>
<circle cx="444.56" cy="249.81" r="1.3" fill="#cdcdcd"/>
<circle cx="447.02" cy="249.53" r="1.3" fill="#cdcdcd"/>
<circle cx="449.25" cy="246.29" r="1.3" fill="#cdcdcd"/>
<circle cx="451.19" cy="241.39" r="1.3" fill="#cdcdcd"/>
<circle cx="452.81" cy="238.46" r="1.3" fill="#cdcdcd"/>
<circle cx="455.33" cy="234.22" r="1.3" fill="#cdcdcd"/>
<circle cx="456.64" cy="227.72" r="1.3" fill="#cdcdcd"/>
<circle cx="458.43" cy="223.43" r="1.3" fill="#cdcdcd"/>
<circle cx="460.91" cy="220.4" r="1.3" fill="#cdcdcd"/>
<circle cx="463.52" cy="213.91" r="1.3" fill="#cdcdcd"/>
<circle cx="465.16" cy="207.29" r="1.3" fill="#cdcdcd"/>
<circle cx="466.61" cy="203.02" r="1.3" fill="#cdcdcd"/>
<circle cx="468.77" cy="198.74" r="1.3" fill="#cdcdcd"/>
<circle cx="471.05" cy="194.77" r="1.3" fill="#cdcdcd"/>
<circle cx="473.26" cy="190.96" r="1.3" fill="#cdcdcd"/>
<circle cx="474.98" cy="189.35" r="1.3" fill="#cdcdcd"/>
<circle cx="476.89" cy="189.68" r="1.3" fill="#cdcdcd"/>
<circle cx="479.38" cy="189.08" r="1.3" fill="#cdcdcd"/>
<circle cx="481.18" cy="191.64" r="1.3" fill="#cdcdcd"/>
<circle cx="482.65" cy="190.5" r="1.3" fill="#cdcdcd"/>
<circle cx="485.22" cy="192.54" r="1.3" fill="#cdcdcd"/>
<circle cx="486.56" cy="194.58" r="1.3" fill="#cdcdcd"/>
<circle cx="489.15" cy="196.92" r="1.3" fill="#cdcdcd"/>
<circle cx="490.73" cy="197.21" r="1.3" fill="#cdcdcd"/>
<circle cx="493.3" cy="199.64" r="1.3" fill="#cdcdcd"/>
<circle cx="494.65" cy="202.2" r="1.3" fill="#cdcdcd"/>
<circle cx="496.94" cy="202.91" r="1.3" fill="#cdcdcd"/>
<circle cx="498.65" cy="208.06" r="1.3" fill="#cdcdcd"/>
<circle cx="501.35" cy="209.3" r="1.3" fill="#cdcdcd"/>
<circle cx="502.72" cy="214.03" r="1.3" fill="#cdcdcd"/>
<circle cx="505.01" cy="220.65" r="1.3" fill="#cdcdcd"/>
<circle cx="507.04" cy="223.71" r="1.3" fill="#cdcdcd"/>
<circle cx="509.53" cy="229.65" r="1.3" fill="#cdcdcd"/>
<circle cx="510.94" cy="236.28" r="1.3" fill="#cdcdcd"/>
<circle cx="513.16" cy="240.22" r="1.3" fill="#cdcdcd"/>
<circle cx="515.08" cy="247.01" r="1.3" fill="#cdcdcd"/>
<circle cx="516.48" cy="253.96" r="1.3" fill="#cdcdcd"/>
<circle cx="518.87" cy="258.18" r="1.3" fill="#cdcdcd"/>
<circle cx="520.96" cy="264.54" r="1.3" fill="#cdcdcd"/>
<circle cx="522.86" cy="269.06" r="1.3" fill="#cdcdcd"/>
<circle cx="525.02" cy="271.8" r="1.3" fill="#cdcdcd"/>
<circle cx="527.32" cy="272.64" r="1.3" fill="#cdcdcd"/>
<circle cx="529.07" cy="274.78" r="1.3" fill="#cdcdcd"/>
<circle cx="530.8" cy="277.38" r="1.3" fill="#cdcdcd"/>
<circle cx="532.76" cy="280.04" r="1.3" fill="#cdcdcd"/>
<circle cx="534.78" cy="278.56" r="1.3" fill="#cdcdcd"/>
<circle cx="537.08" cy="278.53" r="1.3" fill="#cdcdcd"/>
<circle cx="539.55" cy="280.93" r="1.3" fill="#cdcdcd"/>
<circle cx="541.12" cy="280.65" r="1.3" fill="#cdcdcd"/>
<circle cx="542.88" cy="279.49" r="1.3" fill="#cdcdcd"/>
<circle cx="544.82" cy="280.97" r="1.3" fill="#cdcdcd"/>
<path d="M393 279.6 L393.5 279.6 L394 279.59 L394.5 279.58 L395 279.57 L395.5 279.56 L396 279.54 L396.5 279.52 L397 279.49 L397.5 279.47 L398 279.44 L398.5 279.4 L399 279.37 L399.5 279.34 L400 279.3 L400.5 279.26 L401 279.22 L401.5 279.18 L402 279.13 L402.5 279.09 L403 279.05 L403.5 279 L404 278.95 L404.5 278.89 L405 278.82 L405.5 278.73 L406 278.65 L406.5 278.55 L407 278.45 L407.5 278.34 L408 278.23 L408.5 278.11 L409 277.99 L409.5 277.87 L410 277.75 L410.5 277.62 L411 277.5 L411.5 277.37 L412 277.23 L412.5 277.09 L413 276.94 L413.5 276.79 L414 276.62 L414.5 276.46 L415 276.29 L415.5 276.11 L416 275.92 L416.5 275.73 L417 275.53 L417.5 275.33 L418 275.11 L418.5 274.89 L419 274.65 L419.5 274.4 L420 274.14 L420.5 273.87 L421 273.58 L421.5 273.29 L422 272.98 L422.5 272.67 L423 272.35 L423.5 272.02 L424 271.69 L424.5 271.35 L425 271 L425.5 270.64 L426 270.27 L426.5 269.88 L427 269.47 L427.5 269.05 L428 268.62 L428.5 268.18 L429 267.73 L429.5 267.27 L430 266.81 L430.5 266.34 L431 265.86 L431.5 265.38 L432 264.9 L432.5 264.4 L433 263.87 L433.5 263.32 L434 262.8 L434.5 262.31 L435 261.85 L435.5 261.41 L436 260.99 L436.5 260.57 L437 260.16 L437.5 259.74 L438 259.31 L438.5 258.87 L439 258.4 L439.5 257.91 L440 257.4 L440.5 256.89 L441 256.36 L441.5 255.82 L442 255.26 L442.5 254.69 L443 254.1 L443.5 253.5 L444 252.87 L444.5 252.23 L445 251.56 L445.5 250.87 L446 250.16 L446.5 249.43 L447 248.68 L447.5 247.91 L448 247.13 L448.5 246.33 L449 245.51 L449.5 244.67 L450 243.81 L450.5 242.92 L451 242.02 L451.5 241.08 L452 240.13 L452.5 239.14 L453 238.13 L453.5 237.09 L454 235.97 L454.5 234.78 L455 233.55 L455.5 232.28 L456 231.02 L456.5 229.78 L457 228.6 L457.5 227.49 L458 226.48 L458.5 225.54 L459 224.6 L459.5 223.61 L460 222.5 L460.5 221.23 L461 219.8 L461.5 218.25 L462 216.63 L462.5 214.97 L463 213.3 L463.5 211.67 L464 210.12 L464.5 208.69 L465 207.4 L465.5 206.16 L466 204.95 L466.5 203.78 L467 202.65 L467.5 201.56 L468 200.52 L468.5 199.52 L469 198.57 L469.5 197.67 L470 196.81 L470.5 195.95 L471 195.11 L471.5 194.3 L472 193.56 L472.5 192.9 L473 192.34 L473.5 191.9 L474 191.53 L474.5 191.17 L475 190.83 L475.5 190.53 L476 190.27 L476.5 190.07 L477 189.95 L477.5 189.9 L478 189.93 L478.5 190.01 L479 190.13 L479.5 190.28 L480 190.46 L480.5 190.67 L481 190.88 L481.5 191.1 L482 191.36 L482.5 191.69 L483 192.08 L483.5 192.51 L484 192.96 L484.5 193.42 L485 193.87 L485.5 194.3 L486 194.71 L486.5 195.12 L487 195.53 L487.5 195.95 L488 196.37 L488.5 196.79 L489 197.21 L489.5 197.63 L490 198.05 L490.5 198.47 L491 198.88 L491.5 199.28 L492 199.68 L492.5 200.08 L493 200.49 L493.5 200.92 L494 201.35 L494.5 201.81 L495 202.3 L495.5 202.81 L496 203.33 L496.5 203.88 L497 204.45 L497.5 205.06 L498 205.7 L498.5 206.38 L499 207.1 L499.5 207.89 L500 208.76 L500.5 209.7 L501 210.69 L501.5 211.73 L502 212.8 L502.5 213.89 L503 215 L503.5 216.14 L504 217.32 L504.5 218.55 L505 219.83 L505.5 221.13 L506 222.46 L506.5 223.83 L507 225.29 L507.5 226.8 L508 228.29 L508.5 229.73 L509 231.07 L509.5 232.36 L510 233.6 L510.5 234.82 L511 236.03 L511.5 237.25 L512 238.49 L512.5 239.77 L513 241.1 L513.5 242.5 L514 243.97 L514.5 245.48 L515 247.02 L515.5 248.57 L516 250.12 L516.5 251.65 L517 253.14 L517.5 254.57 L518 255.94 L518.5 257.31 L519 258.68 L519.5 260.03 L520 261.36 L520.5 262.65 L521 263.88 L521.5 265.04 L522 266.13 L522.5 267.12 L523 268.02 L523.5 268.91 L524 269.77 L524.5 270.6 L525 271.39 L525.5 272.15 L526 272.87 L526.5 273.54 L527 274.16 L527.5 274.73 L528 275.25 L528.5 275.7 L529 276.12 L529.5 276.53 L530 276.94 L530.5 277.32 L531 277.69 L531.5 278.03 L532 278.34 L532.5 278.62 L533 278.86 L533.5 279.06 L534 279.2 L534.5 279.3 L535 279.37 L535.5 279.43 L536 279.49 L536.5 279.55 L537 279.61 L537.5 279.66 L538 279.71 L538.5 279.75 L539 279.8 L539.5 279.84 L540 279.88 L540.5 279.91 L541 279.94 L541.5 279.97 L542 280 L542.5 280.02 L543 280.04 L543.5 280.06 L544 280.07 L544.5 280.09 L545 280.09 L545.5 280.1" fill="none" stroke="#4d4d4d" stroke-width="1.3"/>
<linearGradient id="gf2" gradientUnits="userSpaceOnUse" x1="0" y1="221.27" x2="0" y2="279.8"><stop offset="0" stop-color="#f58a62" stop-opacity="0.58"/><stop offset="0.5" stop-color="#f58a62" stop-opacity="0.24"/><stop offset="1" stop-color="#ffffff" stop-opacity="0.55"/></linearGradient>
<path d="M468 279.49 L468.5 279.43 L469 279.37 L469.5 279.3 L470 279.22 L470.5 279.13 L471 279.03 L471.5 278.91 L472 278.78 L472.5 278.62 L473 278.45 L473.5 278.26 L474 278.05 L474.5 277.81 L475 277.55 L475.5 277.25 L476 276.93 L476.5 276.57 L477 276.17 L477.5 275.73 L478 275.25 L478.5 274.73 L479 274.16 L479.5 273.54 L480 272.87 L480.5 272.15 L481 271.37 L481.5 270.53 L482 269.64 L482.5 268.68 L483 267.67 L483.5 266.59 L484 265.45 L484.5 264.25 L485 262.99 L485.5 261.67 L486 260.29 L486.5 258.85 L487 257.37 L487.5 255.83 L488 254.25 L488.5 252.63 L489 250.98 L489.5 249.29 L490 247.59 L490.5 245.87 L491 244.14 L491.5 242.42 L492 240.7 L492.5 239 L493 237.33 L493.5 235.7 L494 234.11 L494.5 232.57 L495 231.1 L495.5 229.7 L496 228.38 L496.5 227.15 L497 226.02 L497.5 225 L498 224.09 L498.5 223.29 L499 222.62 L499.5 222.08 L500 221.68 L500.5 221.4 L501 221.27 L501.5 221.27 L502 221.42 L502.5 221.69 L503 222.11 L503.5 222.66 L504 223.33 L504.5 224.13 L505 225.05 L505.5 226.08 L506 227.22 L506.5 228.45 L507 229.77 L507.5 231.18 L508 232.65 L508.5 234.19 L509 235.78 L509.5 237.42 L510 239.1 L510.5 240.8 L511 242.51 L511.5 244.24 L512 245.97 L512.5 247.68 L513 249.39 L513.5 251.07 L514 252.72 L514.5 254.34 L515 255.91 L515.5 257.45 L516 258.93 L516.5 260.36 L517 261.74 L517.5 263.06 L518 264.32 L518.5 265.51 L519 266.65 L519.5 267.72 L520 268.74 L520.5 269.69 L521 270.58 L521.5 271.41 L522 272.19 L522.5 272.91 L523 273.58 L523.5 274.19 L524 274.76 L524.5 275.28 L525 275.76 L525.5 276.19 L526 276.59 L526.5 276.94 L527 277.27 L527.5 277.56 L528 277.83 L528.5 278.06 L529 278.28 L529.5 278.46 L530 278.63 L530.5 278.78 L531 278.92 L531.5 279.03 L532 279.14 L532.5 279.23 L533 279.31 L533.5 279.38 L534 279.44 L534.5 279.49 L534.5 279.8 L534 279.8 L533.5 279.8 L533 279.8 L532.5 279.8 L532 279.8 L531.5 279.8 L531 279.8 L530.5 279.8 L530 279.8 L529.5 279.8 L529 279.8 L528.5 279.8 L528 279.8 L527.5 279.8 L527 279.8 L526.5 279.8 L526 279.8 L525.5 279.8 L525 279.8 L524.5 279.8 L524 279.8 L523.5 279.8 L523 279.8 L522.5 279.8 L522 279.8 L521.5 279.8 L521 279.8 L520.5 279.8 L520 279.8 L519.5 279.8 L519 279.8 L518.5 279.8 L518 279.8 L517.5 279.8 L517 279.8 L516.5 279.8 L516 279.8 L515.5 279.8 L515 279.8 L514.5 279.8 L514 279.8 L513.5 279.8 L513 279.8 L512.5 279.8 L512 279.8 L511.5 279.8 L511 279.8 L510.5 279.8 L510 279.8 L509.5 279.8 L509 279.8 L508.5 279.8 L508 279.8 L507.5 279.8 L507 279.8 L506.5 279.8 L506 279.8 L505.5 279.8 L505 279.8 L504.5 279.8 L504 279.8 L503.5 279.8 L503 279.8 L502.5 279.8 L502 279.8 L501.5 279.8 L501 279.8 L500.5 279.8 L500 279.8 L499.5 279.8 L499 279.8 L498.5 279.8 L498 279.8 L497.5 279.8 L497 279.8 L496.5 279.8 L496 279.8 L495.5 279.8 L495 279.8 L494.5 279.8 L494 279.8 L493.5 279.8 L493 279.8 L492.5 279.8 L492 279.8 L491.5 279.8 L491 279.8 L490.5 279.8 L490 279.8 L489.5 279.8 L489 279.8 L488.5 279.8 L488 279.8 L487.5 279.8 L487 279.8 L486.5 279.8 L486 279.8 L485.5 279.8 L485 279.8 L484.5 279.8 L484 279.8 L483.5 279.8 L483 279.8 L482.5 279.8 L482 279.8 L481.5 279.8 L481 279.8 L480.5 279.8 L480 279.8 L479.5 279.8 L479 279.8 L478.5 279.8 L478 279.8 L477.5 279.8 L477 279.8 L476.5 279.8 L476 279.8 L475.5 279.8 L475 279.8 L474.5 279.8 L474 279.8 L473.5 279.8 L473 279.8 L472.5 279.8 L472 279.8 L471.5 279.8 L471 279.8 L470.5 279.8 L470 279.8 L469.5 279.8 L469 279.8 L468.5 279.8 L468 279.8 Z" fill="url(#gf2)"/>
<path d="M393 279.8 L393.5 279.8 L394 279.8 L394.5 279.8 L395 279.8 L395.5 279.8 L396 279.8 L396.5 279.8 L397 279.8 L397.5 279.8 L398 279.8 L398.5 279.8 L399 279.8 L399.5 279.8 L400 279.8 L400.5 279.8 L401 279.8 L401.5 279.8 L402 279.8 L402.5 279.8 L403 279.8 L403.5 279.8 L404 279.8 L404.5 279.8 L405 279.8 L405.5 279.8 L406 279.8 L406.5 279.8 L407 279.8 L407.5 279.8 L408 279.8 L408.5 279.8 L409 279.8 L409.5 279.8 L410 279.8 L410.5 279.8 L411 279.8 L411.5 279.8 L412 279.8 L412.5 279.8 L413 279.8 L413.5 279.8 L414 279.8 L414.5 279.8 L415 279.8 L415.5 279.8 L416 279.8 L416.5 279.8 L417 279.8 L417.5 279.8 L418 279.8 L418.5 279.8 L419 279.8 L419.5 279.8 L420 279.8 L420.5 279.8 L421 279.8 L421.5 279.8 L422 279.8 L422.5 279.8 L423 279.8 L423.5 279.8 L424 279.8 L424.5 279.8 L425 279.8 L425.5 279.8 L426 279.8 L426.5 279.8 L427 279.8 L427.5 279.8 L428 279.8 L428.5 279.8 L429 279.8 L429.5 279.8 L430 279.8 L430.5 279.8 L431 279.8 L431.5 279.8 L432 279.8 L432.5 279.8 L433 279.8 L433.5 279.8 L434 279.8 L434.5 279.8 L435 279.8 L435.5 279.8 L436 279.8 L436.5 279.8 L437 279.8 L437.5 279.8 L438 279.8 L438.5 279.8 L439 279.8 L439.5 279.8 L440 279.8 L440.5 279.8 L441 279.8 L441.5 279.8 L442 279.8 L442.5 279.8 L443 279.8 L443.5 279.8 L444 279.8 L444.5 279.8 L445 279.8 L445.5 279.8 L446 279.8 L446.5 279.8 L447 279.8 L447.5 279.8 L448 279.8 L448.5 279.8 L449 279.8 L449.5 279.8 L450 279.8 L450.5 279.8 L451 279.8 L451.5 279.8 L452 279.8 L452.5 279.8 L453 279.8 L453.5 279.8 L454 279.8 L454.5 279.8 L455 279.8 L455.5 279.8 L456 279.8 L456.5 279.8 L457 279.79 L457.5 279.79 L458 279.79 L458.5 279.79 L459 279.79 L459.5 279.78 L460 279.78 L460.5 279.78 L461 279.77 L461.5 279.77 L462 279.76 L462.5 279.75 L463 279.74 L463.5 279.73 L464 279.72 L464.5 279.7 L465 279.68 L465.5 279.66 L466 279.64 L466.5 279.61 L467 279.57 L467.5 279.53 L468 279.49 L468.5 279.43 L469 279.37 L469.5 279.3 L470 279.22 L470.5 279.13 L471 279.03 L471.5 278.91 L472 278.78 L472.5 278.62 L473 278.45 L473.5 278.26 L474 278.05 L474.5 277.81 L475 277.55 L475.5 277.25 L476 276.93 L476.5 276.57 L477 276.17 L477.5 275.73 L478 275.25 L478.5 274.73 L479 274.16 L479.5 273.54 L480 272.87 L480.5 272.15 L481 271.37 L481.5 270.53 L482 269.64 L482.5 268.68 L483 267.67 L483.5 266.59 L484 265.45 L484.5 264.25 L485 262.99 L485.5 261.67 L486 260.29 L486.5 258.85 L487 257.37 L487.5 255.83 L488 254.25 L488.5 252.63 L489 250.98 L489.5 249.29 L490 247.59 L490.5 245.87 L491 244.14 L491.5 242.42 L492 240.7 L492.5 239 L493 237.33 L493.5 235.7 L494 234.11 L494.5 232.57 L495 231.1 L495.5 229.7 L496 228.38 L496.5 227.15 L497 226.02 L497.5 225 L498 224.09 L498.5 223.29 L499 222.62 L499.5 222.08 L500 221.68 L500.5 221.4 L501 221.27 L501.5 221.27 L502 221.42 L502.5 221.69 L503 222.11 L503.5 222.66 L504 223.33 L504.5 224.13 L505 225.05 L505.5 226.08 L506 227.22 L506.5 228.45 L507 229.77 L507.5 231.18 L508 232.65 L508.5 234.19 L509 235.78 L509.5 237.42 L510 239.1 L510.5 240.8 L511 242.51 L511.5 244.24 L512 245.97 L512.5 247.68 L513 249.39 L513.5 251.07 L514 252.72 L514.5 254.34 L515 255.91 L515.5 257.45 L516 258.93 L516.5 260.36 L517 261.74 L517.5 263.06 L518 264.32 L518.5 265.51 L519 266.65 L519.5 267.72 L520 268.74 L520.5 269.69 L521 270.58 L521.5 271.41 L522 272.19 L522.5 272.91 L523 273.58 L523.5 274.19 L524 274.76 L524.5 275.28 L525 275.76 L525.5 276.19 L526 276.59 L526.5 276.94 L527 277.27 L527.5 277.56 L528 277.83 L528.5 278.06 L529 278.28 L529.5 278.46 L530 278.63 L530.5 278.78 L531 278.92 L531.5 279.03 L532 279.14 L532.5 279.23 L533 279.31 L533.5 279.38 L534 279.44 L534.5 279.49 L535 279.53 L535.5 279.57 L536 279.61 L536.5 279.64 L537 279.66 L537.5 279.68 L538 279.7 L538.5 279.72 L539 279.73 L539.5 279.74 L540 279.75 L540.5 279.76 L541 279.77 L541.5 279.77 L542 279.78 L542.5 279.78 L543 279.78 L543.5 279.79 L544 279.79 L544.5 279.79 L545 279.79 L545.5 279.79" fill="none" stroke="#f36d1e" stroke-width="1.35"/>
<linearGradient id="gf0" gradientUnits="userSpaceOnUse" x1="0" y1="245.3" x2="0" y2="279.8"><stop offset="0" stop-color="#6cc457" stop-opacity="0.58"/><stop offset="0.5" stop-color="#6cc457" stop-opacity="0.24"/><stop offset="1" stop-color="#ffffff" stop-opacity="0.55"/></linearGradient>
<path d="M399.5 279.5 L400 279.47 L400.5 279.45 L401 279.42 L401.5 279.39 L402 279.36 L402.5 279.32 L403 279.28 L403.5 279.24 L404 279.2 L404.5 279.15 L405 279.1 L405.5 279.05 L406 279 L406.5 278.94 L407 278.87 L407.5 278.81 L408 278.73 L408.5 278.66 L409 278.58 L409.5 278.5 L410 278.41 L410.5 278.31 L411 278.21 L411.5 278.11 L412 277.99 L412.5 277.88 L413 277.75 L413.5 277.62 L414 277.49 L414.5 277.34 L415 277.19 L415.5 277.03 L416 276.87 L416.5 276.7 L417 276.51 L417.5 276.32 L418 276.13 L418.5 275.92 L419 275.7 L419.5 275.48 L420 275.24 L420.5 275 L421 274.75 L421.5 274.48 L422 274.21 L422.5 273.93 L423 273.64 L423.5 273.33 L424 273.02 L424.5 272.7 L425 272.36 L425.5 272.02 L426 271.66 L426.5 271.3 L427 270.92 L427.5 270.53 L428 270.14 L428.5 269.73 L429 269.31 L429.5 268.89 L430 268.45 L430.5 268.01 L431 267.55 L431.5 267.09 L432 266.62 L432.5 266.14 L433 265.65 L433.5 265.15 L434 264.65 L434.5 264.14 L435 263.62 L435.5 263.1 L436 262.57 L436.5 262.04 L437 261.51 L437.5 260.97 L438 260.43 L438.5 259.89 L439 259.34 L439.5 258.8 L440 258.25 L440.5 257.71 L441 257.17 L441.5 256.63 L442 256.09 L442.5 255.56 L443 255.03 L443.5 254.51 L444 253.99 L444.5 253.48 L445 252.98 L445.5 252.49 L446 252.01 L446.5 251.54 L447 251.08 L447.5 250.63 L448 250.2 L448.5 249.78 L449 249.37 L449.5 248.98 L450 248.61 L450.5 248.25 L451 247.92 L451.5 247.6 L452 247.29 L452.5 247.01 L453 246.75 L453.5 246.51 L454 246.29 L454.5 246.09 L455 245.91 L455.5 245.75 L456 245.62 L456.5 245.51 L457 245.42 L457.5 245.36 L458 245.32 L458.5 245.3 L459 245.31 L459.5 245.34 L460 245.39 L460.5 245.46 L461 245.56 L461.5 245.68 L462 245.83 L462.5 246 L463 246.18 L463.5 246.39 L464 246.63 L464.5 246.88 L465 247.15 L465.5 247.44 L466 247.75 L466.5 248.08 L467 248.43 L467.5 248.8 L468 249.18 L468.5 249.58 L469 249.99 L469.5 250.42 L470 250.86 L470.5 251.31 L471 251.77 L471.5 252.25 L472 252.74 L472.5 253.23 L473 253.74 L473.5 254.25 L474 254.77 L474.5 255.29 L475 255.82 L475.5 256.36 L476 256.9 L476.5 257.44 L477 257.98 L477.5 258.53 L478 259.07 L478.5 259.62 L479 260.16 L479.5 260.7 L480 261.24 L480.5 261.78 L481 262.31 L481.5 262.84 L482 263.37 L482.5 263.88 L483 264.4 L483.5 264.9 L484 265.4 L484.5 265.89 L485 266.38 L485.5 266.86 L486 267.32 L486.5 267.78 L487 268.23 L487.5 268.67 L488 269.1 L488.5 269.53 L489 269.94 L489.5 270.34 L490 270.73 L490.5 271.11 L491 271.48 L491.5 271.84 L492 272.19 L492.5 272.53 L493 272.86 L493.5 273.18 L494 273.49 L494.5 273.79 L495 274.07 L495.5 274.35 L496 274.62 L496.5 274.88 L497 275.12 L497.5 275.36 L498 275.59 L498.5 275.81 L499 276.02 L499.5 276.23 L500 276.42 L500.5 276.61 L501 276.78 L501.5 276.95 L502 277.12 L502.5 277.27 L503 277.42 L503.5 277.56 L504 277.69 L504.5 277.82 L505 277.94 L505.5 278.05 L506 278.16 L506.5 278.26 L507 278.36 L507.5 278.45 L508 278.54 L508.5 278.62 L509 278.7 L509.5 278.77 L510 278.84 L510.5 278.91 L511 278.97 L511.5 279.02 L512 279.08 L512.5 279.13 L513 279.18 L513.5 279.22 L514 279.26 L514.5 279.3 L515 279.34 L515.5 279.37 L516 279.4 L516.5 279.43 L517 279.46 L517.5 279.49 L517.5 279.8 L517 279.8 L516.5 279.8 L516 279.8 L515.5 279.8 L515 279.8 L514.5 279.8 L514 279.8 L513.5 279.8 L513 279.8 L512.5 279.8 L512 279.8 L511.5 279.8 L511 279.8 L510.5 279.8 L510 279.8 L509.5 279.8 L509 279.8 L508.5 279.8 L508 279.8 L507.5 279.8 L507 279.8 L506.5 279.8 L506 279.8 L505.5 279.8 L505 279.8 L504.5 279.8 L504 279.8 L503.5 279.8 L503 279.8 L502.5 279.8 L502 279.8 L501.5 279.8 L501 279.8 L500.5 279.8 L500 279.8 L499.5 279.8 L499 279.8 L498.5 279.8 L498 279.8 L497.5 279.8 L497 279.8 L496.5 279.8 L496 279.8 L495.5 279.8 L495 279.8 L494.5 279.8 L494 279.8 L493.5 279.8 L493 279.8 L492.5 279.8 L492 279.8 L491.5 279.8 L491 279.8 L490.5 279.8 L490 279.8 L489.5 279.8 L489 279.8 L488.5 279.8 L488 279.8 L487.5 279.8 L487 279.8 L486.5 279.8 L486 279.8 L485.5 279.8 L485 279.8 L484.5 279.8 L484 279.8 L483.5 279.8 L483 279.8 L482.5 279.8 L482 279.8 L481.5 279.8 L481 279.8 L480.5 279.8 L480 279.8 L479.5 279.8 L479 279.8 L478.5 279.8 L478 279.8 L477.5 279.8 L477 279.8 L476.5 279.8 L476 279.8 L475.5 279.8 L475 279.8 L474.5 279.8 L474 279.8 L473.5 279.8 L473 279.8 L472.5 279.8 L472 279.8 L471.5 279.8 L471 279.8 L470.5 279.8 L470 279.8 L469.5 279.8 L469 279.8 L468.5 279.8 L468 279.8 L467.5 279.8 L467 279.8 L466.5 279.8 L466 279.8 L465.5 279.8 L465 279.8 L464.5 279.8 L464 279.8 L463.5 279.8 L463 279.8 L462.5 279.8 L462 279.8 L461.5 279.8 L461 279.8 L460.5 279.8 L460 279.8 L459.5 279.8 L459 279.8 L458.5 279.8 L458 279.8 L457.5 279.8 L457 279.8 L456.5 279.8 L456 279.8 L455.5 279.8 L455 279.8 L454.5 279.8 L454 279.8 L453.5 279.8 L453 279.8 L452.5 279.8 L452 279.8 L451.5 279.8 L451 279.8 L450.5 279.8 L450 279.8 L449.5 279.8 L449 279.8 L448.5 279.8 L448 279.8 L447.5 279.8 L447 279.8 L446.5 279.8 L446 279.8 L445.5 279.8 L445 279.8 L444.5 279.8 L444 279.8 L443.5 279.8 L443 279.8 L442.5 279.8 L442 279.8 L441.5 279.8 L441 279.8 L440.5 279.8 L440 279.8 L439.5 279.8 L439 279.8 L438.5 279.8 L438 279.8 L437.5 279.8 L437 279.8 L436.5 279.8 L436 279.8 L435.5 279.8 L435 279.8 L434.5 279.8 L434 279.8 L433.5 279.8 L433 279.8 L432.5 279.8 L432 279.8 L431.5 279.8 L431 279.8 L430.5 279.8 L430 279.8 L429.5 279.8 L429 279.8 L428.5 279.8 L428 279.8 L427.5 279.8 L427 279.8 L426.5 279.8 L426 279.8 L425.5 279.8 L425 279.8 L424.5 279.8 L424 279.8 L423.5 279.8 L423 279.8 L422.5 279.8 L422 279.8 L421.5 279.8 L421 279.8 L420.5 279.8 L420 279.8 L419.5 279.8 L419 279.8 L418.5 279.8 L418 279.8 L417.5 279.8 L417 279.8 L416.5 279.8 L416 279.8 L415.5 279.8 L415 279.8 L414.5 279.8 L414 279.8 L413.5 279.8 L413 279.8 L412.5 279.8 L412 279.8 L411.5 279.8 L411 279.8 L410.5 279.8 L410 279.8 L409.5 279.8 L409 279.8 L408.5 279.8 L408 279.8 L407.5 279.8 L407 279.8 L406.5 279.8 L406 279.8 L405.5 279.8 L405 279.8 L404.5 279.8 L404 279.8 L403.5 279.8 L403 279.8 L402.5 279.8 L402 279.8 L401.5 279.8 L401 279.8 L400.5 279.8 L400 279.8 L399.5 279.8 Z" fill="url(#gf0)"/>
<path d="M393 279.7 L393.5 279.69 L394 279.68 L394.5 279.67 L395 279.66 L395.5 279.65 L396 279.63 L396.5 279.62 L397 279.6 L397.5 279.58 L398 279.56 L398.5 279.54 L399 279.52 L399.5 279.5 L400 279.47 L400.5 279.45 L401 279.42 L401.5 279.39 L402 279.36 L402.5 279.32 L403 279.28 L403.5 279.24 L404 279.2 L404.5 279.15 L405 279.1 L405.5 279.05 L406 279 L406.5 278.94 L407 278.87 L407.5 278.81 L408 278.73 L408.5 278.66 L409 278.58 L409.5 278.5 L410 278.41 L410.5 278.31 L411 278.21 L411.5 278.11 L412 277.99 L412.5 277.88 L413 277.75 L413.5 277.62 L414 277.49 L414.5 277.34 L415 277.19 L415.5 277.03 L416 276.87 L416.5 276.7 L417 276.51 L417.5 276.32 L418 276.13 L418.5 275.92 L419 275.7 L419.5 275.48 L420 275.24 L420.5 275 L421 274.75 L421.5 274.48 L422 274.21 L422.5 273.93 L423 273.64 L423.5 273.33 L424 273.02 L424.5 272.7 L425 272.36 L425.5 272.02 L426 271.66 L426.5 271.3 L427 270.92 L427.5 270.53 L428 270.14 L428.5 269.73 L429 269.31 L429.5 268.89 L430 268.45 L430.5 268.01 L431 267.55 L431.5 267.09 L432 266.62 L432.5 266.14 L433 265.65 L433.5 265.15 L434 264.65 L434.5 264.14 L435 263.62 L435.5 263.1 L436 262.57 L436.5 262.04 L437 261.51 L437.5 260.97 L438 260.43 L438.5 259.89 L439 259.34 L439.5 258.8 L440 258.25 L440.5 257.71 L441 257.17 L441.5 256.63 L442 256.09 L442.5 255.56 L443 255.03 L443.5 254.51 L444 253.99 L444.5 253.48 L445 252.98 L445.5 252.49 L446 252.01 L446.5 251.54 L447 251.08 L447.5 250.63 L448 250.2 L448.5 249.78 L449 249.37 L449.5 248.98 L450 248.61 L450.5 248.25 L451 247.92 L451.5 247.6 L452 247.29 L452.5 247.01 L453 246.75 L453.5 246.51 L454 246.29 L454.5 246.09 L455 245.91 L455.5 245.75 L456 245.62 L456.5 245.51 L457 245.42 L457.5 245.36 L458 245.32 L458.5 245.3 L459 245.31 L459.5 245.34 L460 245.39 L460.5 245.46 L461 245.56 L461.5 245.68 L462 245.83 L462.5 246 L463 246.18 L463.5 246.39 L464 246.63 L464.5 246.88 L465 247.15 L465.5 247.44 L466 247.75 L466.5 248.08 L467 248.43 L467.5 248.8 L468 249.18 L468.5 249.58 L469 249.99 L469.5 250.42 L470 250.86 L470.5 251.31 L471 251.77 L471.5 252.25 L472 252.74 L472.5 253.23 L473 253.74 L473.5 254.25 L474 254.77 L474.5 255.29 L475 255.82 L475.5 256.36 L476 256.9 L476.5 257.44 L477 257.98 L477.5 258.53 L478 259.07 L478.5 259.62 L479 260.16 L479.5 260.7 L480 261.24 L480.5 261.78 L481 262.31 L481.5 262.84 L482 263.37 L482.5 263.88 L483 264.4 L483.5 264.9 L484 265.4 L484.5 265.89 L485 266.38 L485.5 266.86 L486 267.32 L486.5 267.78 L487 268.23 L487.5 268.67 L488 269.1 L488.5 269.53 L489 269.94 L489.5 270.34 L490 270.73 L490.5 271.11 L491 271.48 L491.5 271.84 L492 272.19 L492.5 272.53 L493 272.86 L493.5 273.18 L494 273.49 L494.5 273.79 L495 274.07 L495.5 274.35 L496 274.62 L496.5 274.88 L497 275.12 L497.5 275.36 L498 275.59 L498.5 275.81 L499 276.02 L499.5 276.23 L500 276.42 L500.5 276.61 L501 276.78 L501.5 276.95 L502 277.12 L502.5 277.27 L503 277.42 L503.5 277.56 L504 277.69 L504.5 277.82 L505 277.94 L505.5 278.05 L506 278.16 L506.5 278.26 L507 278.36 L507.5 278.45 L508 278.54 L508.5 278.62 L509 278.7 L509.5 278.77 L510 278.84 L510.5 278.91 L511 278.97 L511.5 279.02 L512 279.08 L512.5 279.13 L513 279.18 L513.5 279.22 L514 279.26 L514.5 279.3 L515 279.34 L515.5 279.37 L516 279.4 L516.5 279.43 L517 279.46 L517.5 279.49 L518 279.51 L518.5 279.53 L519 279.55 L519.5 279.57 L520 279.59 L520.5 279.61 L521 279.62 L521.5 279.64 L522 279.65 L522.5 279.66 L523 279.68 L523.5 279.69 L524 279.7 L524.5 279.7 L525 279.71 L525.5 279.72 L526 279.73 L526.5 279.73 L527 279.74 L527.5 279.74 L528 279.75 L528.5 279.75 L529 279.76 L529.5 279.76 L530 279.77 L530.5 279.77 L531 279.77 L531.5 279.77 L532 279.78 L532.5 279.78 L533 279.78 L533.5 279.78 L534 279.78 L534.5 279.79 L535 279.79 L535.5 279.79 L536 279.79 L536.5 279.79 L537 279.79 L537.5 279.79 L538 279.79 L538.5 279.79 L539 279.79 L539.5 279.8 L540 279.8 L540.5 279.8 L541 279.8 L541.5 279.8 L542 279.8 L542.5 279.8 L543 279.8 L543.5 279.8 L544 279.8 L544.5 279.8 L545 279.8 L545.5 279.8" fill="none" stroke="#3cb52a" stroke-width="1.35"/>
<linearGradient id="gf1" gradientUnits="userSpaceOnUse" x1="0" y1="225.08" x2="0" y2="279.8"><stop offset="0" stop-color="#6d9fd0" stop-opacity="0.58"/><stop offset="0.5" stop-color="#6d9fd0" stop-opacity="0.24"/><stop offset="1" stop-color="#ffffff" stop-opacity="0.55"/></linearGradient>
<path d="M441 279.49 L441.5 279.44 L442 279.38 L442.5 279.32 L443 279.24 L443.5 279.16 L444 279.06 L444.5 278.96 L445 278.84 L445.5 278.7 L446 278.55 L446.5 278.38 L447 278.19 L447.5 277.98 L448 277.75 L448.5 277.49 L449 277.2 L449.5 276.89 L450 276.54 L450.5 276.16 L451 275.75 L451.5 275.3 L452 274.81 L452.5 274.28 L453 273.71 L453.5 273.09 L454 272.42 L454.5 271.71 L455 270.95 L455.5 270.13 L456 269.26 L456.5 268.35 L457 267.37 L457.5 266.35 L458 265.27 L458.5 264.14 L459 262.96 L459.5 261.72 L460 260.45 L460.5 259.12 L461 257.75 L461.5 256.35 L462 254.9 L462.5 253.43 L463 251.93 L463.5 250.41 L464 248.87 L464.5 247.33 L465 245.78 L465.5 244.23 L466 242.7 L466.5 241.18 L467 239.69 L467.5 238.23 L468 236.81 L468.5 235.44 L469 234.13 L469.5 232.88 L470 231.7 L470.5 230.6 L471 229.59 L471.5 228.66 L472 227.83 L472.5 227.1 L473 226.48 L473.5 225.97 L474 225.57 L474.5 225.29 L475 225.12 L475.5 225.08 L476 225.15 L476.5 225.34 L477 225.65 L477.5 226.07 L478 226.61 L478.5 227.26 L479 228.01 L479.5 228.86 L480 229.81 L480.5 230.85 L481 231.97 L481.5 233.16 L482 234.43 L482.5 235.75 L483 237.13 L483.5 238.56 L484 240.03 L484.5 241.52 L485 243.05 L485.5 244.58 L486 246.13 L486.5 247.68 L487 249.22 L487.5 250.76 L488 252.27 L488.5 253.77 L489 255.24 L489.5 256.67 L490 258.07 L490.5 259.43 L491 260.74 L491.5 262.01 L492 263.23 L492.5 264.4 L493 265.52 L493.5 266.59 L494 267.6 L494.5 268.56 L495 269.47 L495.5 270.32 L496 271.12 L496.5 271.88 L497 272.58 L497.5 273.23 L498 273.84 L498.5 274.41 L499 274.93 L499.5 275.41 L500 275.85 L500.5 276.25 L501 276.62 L501.5 276.96 L502 277.27 L502.5 277.55 L503 277.8 L503.5 278.03 L504 278.23 L504.5 278.42 L505 278.58 L505.5 278.73 L506 278.87 L506.5 278.98 L507 279.09 L507.5 279.18 L508 279.26 L508.5 279.33 L509 279.4 L509.5 279.45 L510 279.5 L510 279.8 L509.5 279.8 L509 279.8 L508.5 279.8 L508 279.8 L507.5 279.8 L507 279.8 L506.5 279.8 L506 279.8 L505.5 279.8 L505 279.8 L504.5 279.8 L504 279.8 L503.5 279.8 L503 279.8 L502.5 279.8 L502 279.8 L501.5 279.8 L501 279.8 L500.5 279.8 L500 279.8 L499.5 279.8 L499 279.8 L498.5 279.8 L498 279.8 L497.5 279.8 L497 279.8 L496.5 279.8 L496 279.8 L495.5 279.8 L495 279.8 L494.5 279.8 L494 279.8 L493.5 279.8 L493 279.8 L492.5 279.8 L492 279.8 L491.5 279.8 L491 279.8 L490.5 279.8 L490 279.8 L489.5 279.8 L489 279.8 L488.5 279.8 L488 279.8 L487.5 279.8 L487 279.8 L486.5 279.8 L486 279.8 L485.5 279.8 L485 279.8 L484.5 279.8 L484 279.8 L483.5 279.8 L483 279.8 L482.5 279.8 L482 279.8 L481.5 279.8 L481 279.8 L480.5 279.8 L480 279.8 L479.5 279.8 L479 279.8 L478.5 279.8 L478 279.8 L477.5 279.8 L477 279.8 L476.5 279.8 L476 279.8 L475.5 279.8 L475 279.8 L474.5 279.8 L474 279.8 L473.5 279.8 L473 279.8 L472.5 279.8 L472 279.8 L471.5 279.8 L471 279.8 L470.5 279.8 L470 279.8 L469.5 279.8 L469 279.8 L468.5 279.8 L468 279.8 L467.5 279.8 L467 279.8 L466.5 279.8 L466 279.8 L465.5 279.8 L465 279.8 L464.5 279.8 L464 279.8 L463.5 279.8 L463 279.8 L462.5 279.8 L462 279.8 L461.5 279.8 L461 279.8 L460.5 279.8 L460 279.8 L459.5 279.8 L459 279.8 L458.5 279.8 L458 279.8 L457.5 279.8 L457 279.8 L456.5 279.8 L456 279.8 L455.5 279.8 L455 279.8 L454.5 279.8 L454 279.8 L453.5 279.8 L453 279.8 L452.5 279.8 L452 279.8 L451.5 279.8 L451 279.8 L450.5 279.8 L450 279.8 L449.5 279.8 L449 279.8 L448.5 279.8 L448 279.8 L447.5 279.8 L447 279.8 L446.5 279.8 L446 279.8 L445.5 279.8 L445 279.8 L444.5 279.8 L444 279.8 L443.5 279.8 L443 279.8 L442.5 279.8 L442 279.8 L441.5 279.8 L441 279.8 Z" fill="url(#gf1)"/>
<path d="M393 279.8 L393.5 279.8 L394 279.8 L394.5 279.8 L395 279.8 L395.5 279.8 L396 279.8 L396.5 279.8 L397 279.8 L397.5 279.8 L398 279.8 L398.5 279.8 L399 279.8 L399.5 279.8 L400 279.8 L400.5 279.8 L401 279.8 L401.5 279.8 L402 279.8 L402.5 279.8 L403 279.8 L403.5 279.8 L404 279.8 L404.5 279.8 L405 279.8 L405.5 279.8 L406 279.8 L406.5 279.8 L407 279.8 L407.5 279.8 L408 279.8 L408.5 279.8 L409 279.8 L409.5 279.8 L410 279.8 L410.5 279.8 L411 279.8 L411.5 279.8 L412 279.8 L412.5 279.8 L413 279.8 L413.5 279.8 L414 279.8 L414.5 279.8 L415 279.8 L415.5 279.8 L416 279.8 L416.5 279.8 L417 279.8 L417.5 279.8 L418 279.8 L418.5 279.8 L419 279.8 L419.5 279.8 L420 279.8 L420.5 279.8 L421 279.8 L421.5 279.8 L422 279.8 L422.5 279.8 L423 279.8 L423.5 279.8 L424 279.8 L424.5 279.8 L425 279.8 L425.5 279.8 L426 279.8 L426.5 279.8 L427 279.8 L427.5 279.8 L428 279.8 L428.5 279.8 L429 279.8 L429.5 279.79 L430 279.79 L430.5 279.79 L431 279.79 L431.5 279.79 L432 279.79 L432.5 279.78 L433 279.78 L433.5 279.77 L434 279.77 L434.5 279.76 L435 279.76 L435.5 279.75 L436 279.74 L436.5 279.73 L437 279.71 L437.5 279.7 L438 279.68 L438.5 279.66 L439 279.63 L439.5 279.6 L440 279.57 L440.5 279.53 L441 279.49 L441.5 279.44 L442 279.38 L442.5 279.32 L443 279.24 L443.5 279.16 L444 279.06 L444.5 278.96 L445 278.84 L445.5 278.7 L446 278.55 L446.5 278.38 L447 278.19 L447.5 277.98 L448 277.75 L448.5 277.49 L449 277.2 L449.5 276.89 L450 276.54 L450.5 276.16 L451 275.75 L451.5 275.3 L452 274.81 L452.5 274.28 L453 273.71 L453.5 273.09 L454 272.42 L454.5 271.71 L455 270.95 L455.5 270.13 L456 269.26 L456.5 268.35 L457 267.37 L457.5 266.35 L458 265.27 L458.5 264.14 L459 262.96 L459.5 261.72 L460 260.45 L460.5 259.12 L461 257.75 L461.5 256.35 L462 254.9 L462.5 253.43 L463 251.93 L463.5 250.41 L464 248.87 L464.5 247.33 L465 245.78 L465.5 244.23 L466 242.7 L466.5 241.18 L467 239.69 L467.5 238.23 L468 236.81 L468.5 235.44 L469 234.13 L469.5 232.88 L470 231.7 L470.5 230.6 L471 229.59 L471.5 228.66 L472 227.83 L472.5 227.1 L473 226.48 L473.5 225.97 L474 225.57 L474.5 225.29 L475 225.12 L475.5 225.08 L476 225.15 L476.5 225.34 L477 225.65 L477.5 226.07 L478 226.61 L478.5 227.26 L479 228.01 L479.5 228.86 L480 229.81 L480.5 230.85 L481 231.97 L481.5 233.16 L482 234.43 L482.5 235.75 L483 237.13 L483.5 238.56 L484 240.03 L484.5 241.52 L485 243.05 L485.5 244.58 L486 246.13 L486.5 247.68 L487 249.22 L487.5 250.76 L488 252.27 L488.5 253.77 L489 255.24 L489.5 256.67 L490 258.07 L490.5 259.43 L491 260.74 L491.5 262.01 L492 263.23 L492.5 264.4 L493 265.52 L493.5 266.59 L494 267.6 L494.5 268.56 L495 269.47 L495.5 270.32 L496 271.12 L496.5 271.88 L497 272.58 L497.5 273.23 L498 273.84 L498.5 274.41 L499 274.93 L499.5 275.41 L500 275.85 L500.5 276.25 L501 276.62 L501.5 276.96 L502 277.27 L502.5 277.55 L503 277.8 L503.5 278.03 L504 278.23 L504.5 278.42 L505 278.58 L505.5 278.73 L506 278.87 L506.5 278.98 L507 279.09 L507.5 279.18 L508 279.26 L508.5 279.33 L509 279.4 L509.5 279.45 L510 279.5 L510.5 279.54 L511 279.58 L511.5 279.61 L512 279.64 L512.5 279.66 L513 279.68 L513.5 279.7 L514 279.72 L514.5 279.73 L515 279.74 L515.5 279.75 L516 279.76 L516.5 279.76 L517 279.77 L517.5 279.78 L518 279.78 L518.5 279.78 L519 279.79 L519.5 279.79 L520 279.79 L520.5 279.79 L521 279.79 L521.5 279.79 L522 279.8 L522.5 279.8 L523 279.8 L523.5 279.8 L524 279.8 L524.5 279.8 L525 279.8 L525.5 279.8 L526 279.8 L526.5 279.8 L527 279.8 L527.5 279.8 L528 279.8 L528.5 279.8 L529 279.8 L529.5 279.8 L530 279.8 L530.5 279.8 L531 279.8 L531.5 279.8 L532 279.8 L532.5 279.8 L533 279.8 L533.5 279.8 L534 279.8 L534.5 279.8 L535 279.8 L535.5 279.8 L536 279.8 L536.5 279.8 L537 279.8 L537.5 279.8 L538 279.8 L538.5 279.8 L539 279.8 L539.5 279.8 L540 279.8 L540.5 279.8 L541 279.8 L541.5 279.8 L542 279.8 L542.5 279.8 L543 279.8 L543.5 279.8 L544 279.8 L544.5 279.8 L545 279.8 L545.5 279.8" fill="none" stroke="#3a8fd3" stroke-width="1.35"/>
<circle cx="496.7" cy="170.6" r="1.2" fill="#c4c4c4"/>
<text x="506.7" y="173" font-size="7.6" fill="#222" stroke="#222" stroke-width="0" text-anchor="start" textLength="37.9" lengthAdjust="spacingAndGlyphs">Raw Intensity</text>
<line x1="488.9" y1="178.8" x2="504.7" y2="178.8" stroke="#555" stroke-width="1.6"/>
<text x="506.7" y="181.4" font-size="7.6" fill="#222" stroke="#222" stroke-width="0" text-anchor="start" textLength="27.4" lengthAdjust="spacingAndGlyphs">Peak Sum</text>
<line x1="488.9" y1="187.4" x2="504.7" y2="187.4" stroke="#ff1aff" stroke-width="1.6"/>
<text x="506.7" y="189.9" font-size="7.6" fill="#222" stroke="#222" stroke-width="0" text-anchor="start" textLength="33.4" lengthAdjust="spacingAndGlyphs">Background</text>
<text x="427.8" y="240.3" font-size="8" fill="#3cb52a" stroke="#3cb52a" stroke-width="0.12" text-anchor="start" >Si&#8211;O</text>
<line x1="436.7" y1="242.4" x2="447.35" y2="260.86" stroke="#3cb52a" stroke-width="0.65"/>
<path d="M448.7 263.2 L445.97 261.08 L448.23 259.78 Z" fill="#3cb52a"/>
<text x="438.8" y="212.8" font-size="8" fill="#3a8fd3" stroke="#3a8fd3" stroke-width="0.12" text-anchor="start" >Si&#8211;N</text>
<line x1="449" y1="216" x2="468.84" y2="239.15" stroke="#3a8fd3" stroke-width="0.65"/>
<path d="M470.6 241.2 L467.53 239.62 L469.5 237.92 Z" fill="#3a8fd3"/>
<text x="513.6" y="221.2" font-size="8" fill="#f36d1e" stroke="#f36d1e" stroke-width="0.12" text-anchor="start" >Si&#8211;C</text>
<line x1="517.6" y1="224.6" x2="504.31" y2="246.3" stroke="#f36d1e" stroke-width="0.65"/>
<path d="M502.9 248.6 L503.46 245.19 L505.68 246.55 Z" fill="#f36d1e"/>
<rect x="392.4" y="166" width="153.8" height="123.2" fill="none" stroke="#858585" stroke-width="1.3"/>
<line x1="531" y1="289.2" x2="531" y2="291.6" stroke="#858585" stroke-width="0.9"/>
<line x1="515.6" y1="289.2" x2="515.6" y2="290.6" stroke="#858585" stroke-width="0.9"/>
<line x1="500.2" y1="289.2" x2="500.2" y2="291.6" stroke="#858585" stroke-width="0.9"/>
<line x1="484.8" y1="289.2" x2="484.8" y2="290.6" stroke="#858585" stroke-width="0.9"/>
<line x1="469.4" y1="289.2" x2="469.4" y2="291.6" stroke="#858585" stroke-width="0.9"/>
<line x1="454" y1="289.2" x2="454" y2="290.6" stroke="#858585" stroke-width="0.9"/>
<line x1="438.6" y1="289.2" x2="438.6" y2="291.6" stroke="#858585" stroke-width="0.9"/>
<line x1="423.2" y1="289.2" x2="423.2" y2="290.6" stroke="#858585" stroke-width="0.9"/>
<line x1="407.8" y1="289.2" x2="407.8" y2="291.6" stroke="#858585" stroke-width="0.9"/>
<text x="407.8" y="299.6" font-size="8" fill="#222" stroke="#222" stroke-width="0.12" text-anchor="middle" >104</text>
<text x="438.6" y="299.6" font-size="8" fill="#222" stroke="#222" stroke-width="0.12" text-anchor="middle" >103</text>
<text x="469.4" y="299.6" font-size="8" fill="#222" stroke="#222" stroke-width="0.12" text-anchor="middle" >102</text>
<text x="500.2" y="299.6" font-size="8" fill="#222" stroke="#222" stroke-width="0.12" text-anchor="middle" >101</text>
<text x="531" y="299.6" font-size="8" fill="#222" stroke="#222" stroke-width="0.12" text-anchor="middle" >100</text>
<text x="469.3" y="307.1" font-size="8" fill="#222" stroke="#222" stroke-width="0.12" text-anchor="middle" >Binding Energy (eV)</text>
<text x="0" y="0" font-size="8" fill="#222" stroke="#222" stroke-width="0.12" text-anchor="middle" transform="translate(387.6 227.6) rotate(-90)">Intensity (a.u.)</text>
<text x="374.3" y="173.7" font-size="10.6" fill="#1a1a1a" stroke="#1a1a1a" stroke-width="0.2" text-anchor="start" >(f)</text>
<text x="393.4" y="173.7" font-size="7.8" fill="#222" stroke="#222" stroke-width="0.12" text-anchor="start" >Si 2p</text>
</svg></body></html>
